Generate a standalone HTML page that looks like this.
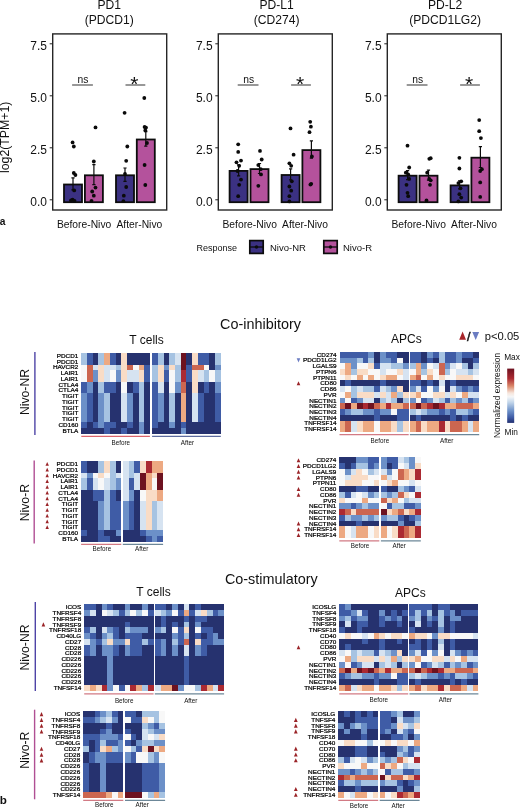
<!DOCTYPE html>
<html lang="en"><head><meta charset="utf-8"><title>Figure</title>
<style>html,body{margin:0;padding:0;background:#fff}#fig{display:block;width:520px;height:809px;font-family:"Liberation Sans",sans-serif}.hm rect{shape-rendering:crispEdges}</style></head><body>
<svg id="fig" width="520" height="809" viewBox="0 0 520 809">
<rect width="520" height="809" fill="#fff"/>
<text x="8.8" y="137.3" font-size="12.3" text-anchor="middle" fill="#111" transform="rotate(-90 8.8 137.3)">log2(TPM+1)</text>
<text x="-0.3" y="224.9" font-size="10.2" text-anchor="start" fill="#111" font-weight="bold">a</text>
<text x="-0.2" y="804.3" font-size="11.6" text-anchor="start" fill="#111" font-weight="bold">b</text>
<text x="109.2" y="8.7" font-size="12.1" text-anchor="middle" fill="#111">PD1</text>
<text x="109.2" y="23.9" font-size="12.1" text-anchor="middle" fill="#111">(PDCD1)</text>
<rect x="52.7" y="33.9" width="114.0" height="176.1" fill="#fff" stroke="#262626" stroke-width="1.4"/>
<line x1="49.7" y1="43.8" x2="52.7" y2="43.8" stroke="#222" stroke-width="1"/>
<text x="47.0" y="49.8" font-size="12" text-anchor="end" fill="#111">7.5</text>
<line x1="49.7" y1="95.8" x2="52.7" y2="95.8" stroke="#222" stroke-width="1"/>
<text x="47.0" y="101.8" font-size="12" text-anchor="end" fill="#111">5.0</text>
<line x1="49.7" y1="147.8" x2="52.7" y2="147.8" stroke="#222" stroke-width="1"/>
<text x="47.0" y="153.8" font-size="12" text-anchor="end" fill="#111">2.5</text>
<line x1="49.7" y1="199.8" x2="52.7" y2="199.8" stroke="#222" stroke-width="1"/>
<text x="47.0" y="205.8" font-size="12" text-anchor="end" fill="#111">0.0</text>
<rect x="64.0" y="184.5" width="18.0" height="17.7" fill="#3b3182" stroke="#0d0d0d" stroke-width="1.8"/>
<rect x="84.9" y="175.3" width="18.0" height="26.9" fill="#b4529c" stroke="#0d0d0d" stroke-width="1.8"/>
<rect x="116.0" y="175.3" width="18.0" height="26.9" fill="#3b3182" stroke="#0d0d0d" stroke-width="1.8"/>
<rect x="136.8" y="139.5" width="18.0" height="62.7" fill="#b4529c" stroke="#0d0d0d" stroke-width="1.8"/>
<path d="M73.0 177.9V189.9M71.4 177.9h3.2M71.4 189.9h3.2" stroke="#0d0d0d" stroke-width="1.2" fill="none"/>
<path d="M93.9 164.7V184.7M92.3 164.7h3.2M92.3 184.7h3.2" stroke="#0d0d0d" stroke-width="1.2" fill="none"/>
<path d="M125.0 168.0V181.4M123.4 168.0h3.2M123.4 181.4h3.2" stroke="#0d0d0d" stroke-width="1.2" fill="none"/>
<path d="M145.8 131.6V146.2M144.2 131.6h3.2M144.2 146.2h3.2" stroke="#0d0d0d" stroke-width="1.2" fill="none"/>
<circle cx="72.6" cy="142.4" r="1.9" fill="#0a0a0a"/>
<circle cx="73.8" cy="146.5" r="1.9" fill="#0a0a0a"/>
<circle cx="73.8" cy="173.0" r="1.9" fill="#0a0a0a"/>
<circle cx="75.4" cy="175.0" r="1.9" fill="#0a0a0a"/>
<circle cx="74.2" cy="190.4" r="1.9" fill="#0a0a0a"/>
<circle cx="72.6" cy="199.6" r="1.9" fill="#0a0a0a"/>
<circle cx="71.0" cy="200.5" r="1.9" fill="#0a0a0a"/>
<circle cx="74.5" cy="200.8" r="1.9" fill="#0a0a0a"/>
<circle cx="95.5" cy="127.4" r="1.9" fill="#0a0a0a"/>
<circle cx="93.8" cy="161.5" r="1.9" fill="#0a0a0a"/>
<circle cx="95.5" cy="187.6" r="1.9" fill="#0a0a0a"/>
<circle cx="92.2" cy="191.5" r="1.9" fill="#0a0a0a"/>
<circle cx="93.8" cy="195.7" r="1.9" fill="#0a0a0a"/>
<circle cx="91.5" cy="200.8" r="1.9" fill="#0a0a0a"/>
<circle cx="124.6" cy="112.8" r="1.9" fill="#0a0a0a"/>
<circle cx="127.3" cy="146.5" r="1.9" fill="#0a0a0a"/>
<circle cx="126.2" cy="160.8" r="1.9" fill="#0a0a0a"/>
<circle cx="125.0" cy="174.0" r="1.9" fill="#0a0a0a"/>
<circle cx="126.2" cy="187.0" r="1.9" fill="#0a0a0a"/>
<circle cx="123.8" cy="195.7" r="1.9" fill="#0a0a0a"/>
<circle cx="123.4" cy="201.2" r="1.9" fill="#0a0a0a"/>
<circle cx="144.3" cy="98.0" r="1.9" fill="#0a0a0a"/>
<circle cx="144.6" cy="127.0" r="1.9" fill="#0a0a0a"/>
<circle cx="146.0" cy="127.6" r="1.9" fill="#0a0a0a"/>
<circle cx="145.3" cy="130.4" r="1.9" fill="#0a0a0a"/>
<circle cx="147.0" cy="143.0" r="1.9" fill="#0a0a0a"/>
<circle cx="144.6" cy="165.0" r="1.9" fill="#0a0a0a"/>
<circle cx="145.3" cy="185.0" r="1.9" fill="#0a0a0a"/>
<path d="M72.1 85.0H92.9M125.5 85.0H145.3" stroke="#333" stroke-width="1.1"/>
<text x="83.0" y="83.0" font-size="10.3" text-anchor="middle" fill="#111">ns</text>
<text x="134.4" y="90.6" font-size="21" text-anchor="middle" fill="#111">*</text>
<text x="84.1" y="227.5" font-size="10.3" text-anchor="middle" fill="#111">Before-Nivo</text>
<text x="139.4" y="227.5" font-size="10.3" text-anchor="middle" fill="#111">After-Nivo</text>
<text x="276.7" y="8.7" font-size="12.1" text-anchor="middle" fill="#111">PD-L1</text>
<text x="276.7" y="23.9" font-size="12.1" text-anchor="middle" fill="#111">(CD274)</text>
<rect x="218.3" y="33.9" width="114.0" height="176.1" fill="#fff" stroke="#262626" stroke-width="1.4"/>
<line x1="215.3" y1="43.8" x2="218.3" y2="43.8" stroke="#222" stroke-width="1"/>
<text x="212.6" y="49.8" font-size="12" text-anchor="end" fill="#111">7.5</text>
<line x1="215.3" y1="95.8" x2="218.3" y2="95.8" stroke="#222" stroke-width="1"/>
<text x="212.6" y="101.8" font-size="12" text-anchor="end" fill="#111">5.0</text>
<line x1="215.3" y1="147.8" x2="218.3" y2="147.8" stroke="#222" stroke-width="1"/>
<text x="212.6" y="153.8" font-size="12" text-anchor="end" fill="#111">2.5</text>
<line x1="215.3" y1="199.8" x2="218.3" y2="199.8" stroke="#222" stroke-width="1"/>
<text x="212.6" y="205.8" font-size="12" text-anchor="end" fill="#111">0.0</text>
<rect x="229.6" y="170.9" width="18.0" height="31.3" fill="#3b3182" stroke="#0d0d0d" stroke-width="1.8"/>
<rect x="250.5" y="169.1" width="18.0" height="33.1" fill="#b4529c" stroke="#0d0d0d" stroke-width="1.8"/>
<rect x="281.6" y="175.0" width="18.0" height="27.2" fill="#3b3182" stroke="#0d0d0d" stroke-width="1.8"/>
<rect x="302.4" y="150.1" width="18.0" height="52.1" fill="#b4529c" stroke="#0d0d0d" stroke-width="1.8"/>
<path d="M238.6 164.8V175.8M237.0 164.8h3.2M237.0 175.8h3.2" stroke="#0d0d0d" stroke-width="1.2" fill="none"/>
<path d="M259.5 163.5V173.5M257.9 163.5h3.2M257.9 173.5h3.2" stroke="#0d0d0d" stroke-width="1.2" fill="none"/>
<path d="M290.6 168.9V179.9M289.0 168.9h3.2M289.0 179.9h3.2" stroke="#0d0d0d" stroke-width="1.2" fill="none"/>
<path d="M311.4 140.8V158.2M309.8 140.8h3.2M309.8 158.2h3.2" stroke="#0d0d0d" stroke-width="1.2" fill="none"/>
<circle cx="238.2" cy="144.3" r="1.9" fill="#0a0a0a"/>
<circle cx="238.2" cy="151.9" r="1.9" fill="#0a0a0a"/>
<circle cx="241.0" cy="160.6" r="1.9" fill="#0a0a0a"/>
<circle cx="236.5" cy="162.3" r="1.9" fill="#0a0a0a"/>
<circle cx="239.2" cy="165.8" r="1.9" fill="#0a0a0a"/>
<circle cx="237.5" cy="171.0" r="1.9" fill="#0a0a0a"/>
<circle cx="241.0" cy="179.6" r="1.9" fill="#0a0a0a"/>
<circle cx="239.2" cy="184.8" r="1.9" fill="#0a0a0a"/>
<circle cx="238.2" cy="196.2" r="1.9" fill="#0a0a0a"/>
<circle cx="260.0" cy="150.9" r="1.9" fill="#0a0a0a"/>
<circle cx="261.7" cy="159.5" r="1.9" fill="#0a0a0a"/>
<circle cx="258.3" cy="165.1" r="1.9" fill="#0a0a0a"/>
<circle cx="260.7" cy="169.2" r="1.9" fill="#0a0a0a"/>
<circle cx="261.0" cy="174.4" r="1.9" fill="#0a0a0a"/>
<circle cx="258.3" cy="185.8" r="1.9" fill="#0a0a0a"/>
<circle cx="290.5" cy="128.4" r="1.9" fill="#0a0a0a"/>
<circle cx="293.6" cy="154.7" r="1.9" fill="#0a0a0a"/>
<circle cx="289.4" cy="163.3" r="1.9" fill="#0a0a0a"/>
<circle cx="291.2" cy="165.8" r="1.9" fill="#0a0a0a"/>
<circle cx="291.8" cy="181.3" r="1.9" fill="#0a0a0a"/>
<circle cx="289.4" cy="186.5" r="1.9" fill="#0a0a0a"/>
<circle cx="291.2" cy="190.7" r="1.9" fill="#0a0a0a"/>
<circle cx="289.4" cy="196.2" r="1.9" fill="#0a0a0a"/>
<circle cx="289.4" cy="201.4" r="1.9" fill="#0a0a0a"/>
<circle cx="310.2" cy="121.8" r="1.9" fill="#0a0a0a"/>
<circle cx="310.9" cy="126.7" r="1.9" fill="#0a0a0a"/>
<circle cx="309.5" cy="132.2" r="1.9" fill="#0a0a0a"/>
<circle cx="311.9" cy="156.4" r="1.9" fill="#0a0a0a"/>
<circle cx="311.2" cy="183.8" r="1.9" fill="#0a0a0a"/>
<circle cx="310.4" cy="184.6" r="1.9" fill="#0a0a0a"/>
<path d="M237.7 85.0H258.5M291.1 85.0H310.9" stroke="#333" stroke-width="1.1"/>
<text x="248.7" y="83.0" font-size="10.3" text-anchor="middle" fill="#111">ns</text>
<text x="300.0" y="90.6" font-size="21" text-anchor="middle" fill="#111">*</text>
<text x="249.7" y="227.5" font-size="10.3" text-anchor="middle" fill="#111">Before-Nivo</text>
<text x="305.0" y="227.5" font-size="10.3" text-anchor="middle" fill="#111">After-Nivo</text>
<text x="445.1" y="8.7" font-size="12.1" text-anchor="middle" fill="#111">PD-L2</text>
<text x="445.1" y="23.9" font-size="12.1" text-anchor="middle" fill="#111">(PDCD1LG2)</text>
<rect x="387.3" y="33.9" width="114.0" height="176.1" fill="#fff" stroke="#262626" stroke-width="1.4"/>
<line x1="384.3" y1="43.8" x2="387.3" y2="43.8" stroke="#222" stroke-width="1"/>
<text x="381.6" y="49.8" font-size="12" text-anchor="end" fill="#111">7.5</text>
<line x1="384.3" y1="95.8" x2="387.3" y2="95.8" stroke="#222" stroke-width="1"/>
<text x="381.6" y="101.8" font-size="12" text-anchor="end" fill="#111">5.0</text>
<line x1="384.3" y1="147.8" x2="387.3" y2="147.8" stroke="#222" stroke-width="1"/>
<text x="381.6" y="153.8" font-size="12" text-anchor="end" fill="#111">2.5</text>
<line x1="384.3" y1="199.8" x2="387.3" y2="199.8" stroke="#222" stroke-width="1"/>
<text x="381.6" y="205.8" font-size="12" text-anchor="end" fill="#111">0.0</text>
<rect x="398.6" y="175.7" width="18.0" height="26.5" fill="#3b3182" stroke="#0d0d0d" stroke-width="1.8"/>
<rect x="419.5" y="175.7" width="18.0" height="26.5" fill="#b4529c" stroke="#0d0d0d" stroke-width="1.8"/>
<rect x="450.6" y="185.4" width="18.0" height="16.8" fill="#3b3182" stroke="#0d0d0d" stroke-width="1.8"/>
<rect x="471.4" y="157.7" width="18.0" height="44.5" fill="#b4529c" stroke="#0d0d0d" stroke-width="1.8"/>
<path d="M407.6 170.6V179.6M406.0 170.6h3.2M406.0 179.6h3.2" stroke="#0d0d0d" stroke-width="1.2" fill="none"/>
<path d="M428.5 170.1V180.1M426.9 170.1h3.2M426.9 180.1h3.2" stroke="#0d0d0d" stroke-width="1.2" fill="none"/>
<path d="M459.6 180.8V188.8M458.0 180.8h3.2M458.0 188.8h3.2" stroke="#0d0d0d" stroke-width="1.2" fill="none"/>
<path d="M480.4 146.7V167.5M478.8 146.7h3.2M478.8 167.5h3.2" stroke="#0d0d0d" stroke-width="1.2" fill="none"/>
<circle cx="407.5" cy="145.7" r="1.9" fill="#0a0a0a"/>
<circle cx="409.2" cy="167.5" r="1.9" fill="#0a0a0a"/>
<circle cx="405.8" cy="172.7" r="1.9" fill="#0a0a0a"/>
<circle cx="408.2" cy="174.4" r="1.9" fill="#0a0a0a"/>
<circle cx="409.2" cy="178.9" r="1.9" fill="#0a0a0a"/>
<circle cx="406.5" cy="184.8" r="1.9" fill="#0a0a0a"/>
<circle cx="407.5" cy="192.8" r="1.9" fill="#0a0a0a"/>
<circle cx="408.2" cy="196.2" r="1.9" fill="#0a0a0a"/>
<circle cx="429.3" cy="158.8" r="1.9" fill="#0a0a0a"/>
<circle cx="430.7" cy="158.2" r="1.9" fill="#0a0a0a"/>
<circle cx="427.2" cy="172.7" r="1.9" fill="#0a0a0a"/>
<circle cx="429.3" cy="178.9" r="1.9" fill="#0a0a0a"/>
<circle cx="430.0" cy="184.8" r="1.9" fill="#0a0a0a"/>
<circle cx="426.5" cy="200.4" r="1.9" fill="#0a0a0a"/>
<circle cx="430.7" cy="180.3" r="1.9" fill="#0a0a0a"/>
<circle cx="459.4" cy="157.8" r="1.9" fill="#0a0a0a"/>
<circle cx="459.4" cy="168.5" r="1.9" fill="#0a0a0a"/>
<circle cx="461.2" cy="181.3" r="1.9" fill="#0a0a0a"/>
<circle cx="458.4" cy="183.1" r="1.9" fill="#0a0a0a"/>
<circle cx="460.5" cy="188.3" r="1.9" fill="#0a0a0a"/>
<circle cx="459.4" cy="194.2" r="1.9" fill="#0a0a0a"/>
<circle cx="461.2" cy="197.6" r="1.9" fill="#0a0a0a"/>
<circle cx="458.4" cy="201.4" r="1.9" fill="#0a0a0a"/>
<circle cx="479.2" cy="120.1" r="1.9" fill="#0a0a0a"/>
<circle cx="479.2" cy="131.2" r="1.9" fill="#0a0a0a"/>
<circle cx="480.9" cy="138.1" r="1.9" fill="#0a0a0a"/>
<circle cx="481.9" cy="169.2" r="1.9" fill="#0a0a0a"/>
<circle cx="480.2" cy="171.0" r="1.9" fill="#0a0a0a"/>
<circle cx="480.2" cy="182.4" r="1.9" fill="#0a0a0a"/>
<circle cx="480.2" cy="196.9" r="1.9" fill="#0a0a0a"/>
<path d="M406.7 85.0H427.5M460.1 85.0H479.9" stroke="#333" stroke-width="1.1"/>
<text x="417.7" y="83.0" font-size="10.3" text-anchor="middle" fill="#111">ns</text>
<text x="469.0" y="90.6" font-size="21" text-anchor="middle" fill="#111">*</text>
<text x="418.7" y="227.5" font-size="10.3" text-anchor="middle" fill="#111">Before-Nivo</text>
<text x="474.0" y="227.5" font-size="10.3" text-anchor="middle" fill="#111">After-Nivo</text>
<text x="196.5" y="251.3" font-size="9" text-anchor="start" fill="#111">Response</text>
<rect x="249.8" y="240.6" width="13.4" height="12.8" fill="#3b3182" stroke="#0c0c0c" stroke-width="1.7"/>
<path d="M249.8 247h13.4" stroke="#0c0c0c" stroke-width="1.3"/>
<circle cx="256.5" cy="247" r="1.7" fill="#0c0c0c"/>
<text x="270" y="251.3" font-size="9.5" text-anchor="start" fill="#111">Nivo-NR</text>
<rect x="323.8" y="240.6" width="13.4" height="12.8" fill="#b4529c" stroke="#0c0c0c" stroke-width="1.7"/>
<path d="M323.8 247h13.4" stroke="#0c0c0c" stroke-width="1.3"/>
<circle cx="330.5" cy="247" r="1.7" fill="#0c0c0c"/>
<text x="343" y="251.3" font-size="9.5" text-anchor="start" fill="#111">Nivo-R</text>
<text x="260.5" y="329" font-size="14.4" text-anchor="middle" fill="#111">Co-inhibitory</text>
<text x="146.5" y="344.3" font-size="12" text-anchor="middle" fill="#111">T cells</text>
<text x="406.3" y="343.3" font-size="12" text-anchor="middle" fill="#111">APCs</text>
<text x="271.3" y="583.5" font-size="14.4" text-anchor="middle" fill="#111">Co-stimulatory</text>
<text x="153.5" y="596" font-size="12" text-anchor="middle" fill="#111">T cells</text>
<text x="410.4" y="596.5" font-size="12" text-anchor="middle" fill="#111">APCs</text>
<path d="M459.2 339.8l3.4-8.2 3.4 8.2z" fill="#a8262b"/>
<text x="467.0" y="340.5" font-size="12.5" text-anchor="start" fill="#111" stroke="#111" stroke-width="0.5">/</text>
<path d="M472.3 331.9h6.8l-3.4 8.1z" fill="#6b7cc2"/>
<text x="484.8" y="340.2" font-size="11.2" text-anchor="start" fill="#111">p&lt;0.05</text>
<defs><linearGradient id="cb" x1="0" y1="0" x2="0" y2="1"><stop offset="0" stop-color="#6d1220"/><stop offset="0.18" stop-color="#ab2a32"/><stop offset="0.32" stop-color="#d98668"/><stop offset="0.45" stop-color="#f7e6dc"/><stop offset="0.52" stop-color="#f4f6f8"/><stop offset="0.62" stop-color="#c3d6ea"/><stop offset="0.78" stop-color="#6c90c8"/><stop offset="0.9" stop-color="#3f5ca6"/><stop offset="1" stop-color="#222f70"/></linearGradient></defs>
<rect x="507.2" y="368.6" width="7" height="54.3" fill="url(#cb)"/>
<text x="504.2" y="359.8" font-size="8.3" text-anchor="start" fill="#111">Max</text>
<text x="504.6" y="434.5" font-size="8.3" text-anchor="start" fill="#111">Min</text>
<text x="499.6" y="395.4" font-size="8.4" text-anchor="middle" fill="#111" transform="rotate(-90 499.6 395.4)">Normalized expression</text>
<g class="hm">
<rect x="81.30" y="353.00" width="5.77" height="5.80" fill="#a6c3e2"/>
<rect x="87.02" y="353.00" width="5.77" height="5.80" fill="#3f5ca6"/>
<rect x="92.74" y="353.00" width="5.77" height="5.80" fill="#26326f"/>
<rect x="98.46" y="353.00" width="5.77" height="5.80" fill="#a6c3e2"/>
<rect x="104.18" y="353.00" width="5.77" height="5.80" fill="#eda982"/>
<rect x="109.90" y="353.00" width="5.77" height="5.80" fill="#3f5ca6"/>
<rect x="115.62" y="353.00" width="5.77" height="5.80" fill="#26326f"/>
<rect x="121.34" y="353.00" width="5.77" height="5.80" fill="#f9dcc6"/>
<rect x="127.06" y="353.00" width="22.93" height="5.80" fill="#26326f"/>
<rect x="152.14" y="353.00" width="5.77" height="5.80" fill="#3f5ca6"/>
<rect x="157.86" y="353.00" width="5.77" height="5.80" fill="#a6c3e2"/>
<rect x="163.58" y="353.00" width="5.77" height="5.80" fill="#26326f"/>
<rect x="169.30" y="353.00" width="5.77" height="5.80" fill="#a6c3e2"/>
<rect x="175.02" y="353.00" width="5.77" height="5.80" fill="#d6e3f1"/>
<rect x="180.74" y="353.00" width="5.77" height="5.80" fill="#6d1220"/>
<rect x="186.46" y="353.00" width="5.77" height="5.80" fill="#26326f"/>
<rect x="192.18" y="353.00" width="5.77" height="5.80" fill="#f9dcc6"/>
<rect x="197.90" y="353.00" width="11.49" height="5.80" fill="#3f5ca6"/>
<rect x="209.34" y="353.00" width="5.77" height="5.80" fill="#26326f"/>
<rect x="215.06" y="353.00" width="5.77" height="5.80" fill="#a6c3e2"/>
<rect x="81.30" y="358.75" width="5.77" height="5.80" fill="#a6c3e2"/>
<rect x="87.02" y="358.75" width="5.77" height="5.80" fill="#3f5ca6"/>
<rect x="92.74" y="358.75" width="5.77" height="5.80" fill="#26326f"/>
<rect x="98.46" y="358.75" width="5.77" height="5.80" fill="#a6c3e2"/>
<rect x="104.18" y="358.75" width="5.77" height="5.80" fill="#eda982"/>
<rect x="109.90" y="358.75" width="5.77" height="5.80" fill="#3f5ca6"/>
<rect x="115.62" y="358.75" width="5.77" height="5.80" fill="#26326f"/>
<rect x="121.34" y="358.75" width="5.77" height="5.80" fill="#f9dcc6"/>
<rect x="127.06" y="358.75" width="22.93" height="5.80" fill="#26326f"/>
<rect x="152.14" y="358.75" width="5.77" height="5.80" fill="#3f5ca6"/>
<rect x="157.86" y="358.75" width="5.77" height="5.80" fill="#a6c3e2"/>
<rect x="163.58" y="358.75" width="5.77" height="5.80" fill="#26326f"/>
<rect x="169.30" y="358.75" width="5.77" height="5.80" fill="#a6c3e2"/>
<rect x="175.02" y="358.75" width="5.77" height="5.80" fill="#d6e3f1"/>
<rect x="180.74" y="358.75" width="5.77" height="5.80" fill="#6d1220"/>
<rect x="186.46" y="358.75" width="5.77" height="5.80" fill="#26326f"/>
<rect x="192.18" y="358.75" width="5.77" height="5.80" fill="#f9dcc6"/>
<rect x="197.90" y="358.75" width="11.49" height="5.80" fill="#3f5ca6"/>
<rect x="209.34" y="358.75" width="5.77" height="5.80" fill="#26326f"/>
<rect x="215.06" y="358.75" width="5.77" height="5.80" fill="#a6c3e2"/>
<rect x="81.30" y="364.50" width="5.77" height="5.80" fill="#f8f8f8"/>
<rect x="87.02" y="364.50" width="5.77" height="5.80" fill="#cc6650"/>
<rect x="92.74" y="364.50" width="5.77" height="5.80" fill="#d6e3f1"/>
<rect x="98.46" y="364.50" width="5.77" height="5.80" fill="#f9dcc6"/>
<rect x="104.18" y="364.50" width="11.49" height="5.80" fill="#d6e3f1"/>
<rect x="115.62" y="364.50" width="5.77" height="5.80" fill="#a6c3e2"/>
<rect x="121.34" y="364.50" width="5.77" height="5.80" fill="#f9dcc6"/>
<rect x="127.06" y="364.50" width="5.77" height="5.80" fill="#cc6650"/>
<rect x="132.78" y="364.50" width="5.77" height="5.80" fill="#f8f8f8"/>
<rect x="138.50" y="364.50" width="5.77" height="5.80" fill="#eda982"/>
<rect x="144.22" y="364.50" width="5.77" height="5.80" fill="#3f5ca6"/>
<rect x="152.14" y="364.50" width="5.77" height="5.80" fill="#a6c3e2"/>
<rect x="157.86" y="364.50" width="5.77" height="5.80" fill="#f9dcc6"/>
<rect x="163.58" y="364.50" width="5.77" height="5.80" fill="#6c90c8"/>
<rect x="169.30" y="364.50" width="5.77" height="5.80" fill="#f9dcc6"/>
<rect x="175.02" y="364.50" width="5.77" height="5.80" fill="#a6c3e2"/>
<rect x="180.74" y="364.50" width="5.77" height="5.80" fill="#6d1220"/>
<rect x="186.46" y="364.50" width="5.77" height="5.80" fill="#3f5ca6"/>
<rect x="192.18" y="364.50" width="11.49" height="5.80" fill="#cc6650"/>
<rect x="203.62" y="364.50" width="5.77" height="5.80" fill="#f8f8f8"/>
<rect x="209.34" y="364.50" width="5.77" height="5.80" fill="#26326f"/>
<rect x="215.06" y="364.50" width="5.77" height="5.80" fill="#6c90c8"/>
<rect x="81.30" y="370.25" width="5.77" height="5.80" fill="#f8f8f8"/>
<rect x="87.02" y="370.25" width="5.77" height="5.80" fill="#cc6650"/>
<rect x="92.74" y="370.25" width="5.77" height="5.80" fill="#6c90c8"/>
<rect x="98.46" y="370.25" width="5.77" height="5.80" fill="#f9dcc6"/>
<rect x="104.18" y="370.25" width="5.77" height="5.80" fill="#d6e3f1"/>
<rect x="109.90" y="370.25" width="5.77" height="5.80" fill="#f8f8f8"/>
<rect x="115.62" y="370.25" width="5.77" height="5.80" fill="#6c90c8"/>
<rect x="121.34" y="370.25" width="5.77" height="5.80" fill="#f9dcc6"/>
<rect x="127.06" y="370.25" width="11.49" height="5.80" fill="#d6e3f1"/>
<rect x="138.50" y="370.25" width="5.77" height="5.80" fill="#f9dcc6"/>
<rect x="144.22" y="370.25" width="5.77" height="5.80" fill="#3f5ca6"/>
<rect x="152.14" y="370.25" width="5.77" height="5.80" fill="#a6c3e2"/>
<rect x="157.86" y="370.25" width="5.77" height="5.80" fill="#f9dcc6"/>
<rect x="163.58" y="370.25" width="5.77" height="5.80" fill="#3f5ca6"/>
<rect x="169.30" y="370.25" width="5.77" height="5.80" fill="#f8f8f8"/>
<rect x="175.02" y="370.25" width="5.77" height="5.80" fill="#a6c3e2"/>
<rect x="180.74" y="370.25" width="5.77" height="5.80" fill="#ab2a32"/>
<rect x="186.46" y="370.25" width="5.77" height="5.80" fill="#3f5ca6"/>
<rect x="192.18" y="370.25" width="5.77" height="5.80" fill="#f9dcc6"/>
<rect x="197.90" y="370.25" width="5.77" height="5.80" fill="#d6e3f1"/>
<rect x="203.62" y="370.25" width="5.77" height="5.80" fill="#a6c3e2"/>
<rect x="209.34" y="370.25" width="5.77" height="5.80" fill="#f8f8f8"/>
<rect x="215.06" y="370.25" width="5.77" height="5.80" fill="#a6c3e2"/>
<rect x="81.30" y="376.00" width="5.77" height="5.80" fill="#f8f8f8"/>
<rect x="87.02" y="376.00" width="5.77" height="5.80" fill="#cc6650"/>
<rect x="92.74" y="376.00" width="5.77" height="5.80" fill="#6c90c8"/>
<rect x="98.46" y="376.00" width="5.77" height="5.80" fill="#f9dcc6"/>
<rect x="104.18" y="376.00" width="5.77" height="5.80" fill="#d6e3f1"/>
<rect x="109.90" y="376.00" width="5.77" height="5.80" fill="#f8f8f8"/>
<rect x="115.62" y="376.00" width="5.77" height="5.80" fill="#6c90c8"/>
<rect x="121.34" y="376.00" width="5.77" height="5.80" fill="#f9dcc6"/>
<rect x="127.06" y="376.00" width="11.49" height="5.80" fill="#d6e3f1"/>
<rect x="138.50" y="376.00" width="5.77" height="5.80" fill="#f9dcc6"/>
<rect x="144.22" y="376.00" width="5.77" height="5.80" fill="#3f5ca6"/>
<rect x="152.14" y="376.00" width="5.77" height="5.80" fill="#a6c3e2"/>
<rect x="157.86" y="376.00" width="5.77" height="5.80" fill="#f9dcc6"/>
<rect x="163.58" y="376.00" width="5.77" height="5.80" fill="#3f5ca6"/>
<rect x="169.30" y="376.00" width="5.77" height="5.80" fill="#f8f8f8"/>
<rect x="175.02" y="376.00" width="5.77" height="5.80" fill="#a6c3e2"/>
<rect x="180.74" y="376.00" width="5.77" height="5.80" fill="#ab2a32"/>
<rect x="186.46" y="376.00" width="5.77" height="5.80" fill="#3f5ca6"/>
<rect x="192.18" y="376.00" width="5.77" height="5.80" fill="#f9dcc6"/>
<rect x="197.90" y="376.00" width="5.77" height="5.80" fill="#d6e3f1"/>
<rect x="203.62" y="376.00" width="5.77" height="5.80" fill="#a6c3e2"/>
<rect x="209.34" y="376.00" width="5.77" height="5.80" fill="#f8f8f8"/>
<rect x="215.06" y="376.00" width="5.77" height="5.80" fill="#a6c3e2"/>
<rect x="81.30" y="381.75" width="5.77" height="5.80" fill="#3f5ca6"/>
<rect x="87.02" y="381.75" width="5.77" height="5.80" fill="#6c90c8"/>
<rect x="92.74" y="381.75" width="5.77" height="5.80" fill="#26326f"/>
<rect x="98.46" y="381.75" width="5.77" height="5.80" fill="#a6c3e2"/>
<rect x="104.18" y="381.75" width="11.49" height="5.80" fill="#3f5ca6"/>
<rect x="115.62" y="381.75" width="5.77" height="5.80" fill="#26326f"/>
<rect x="121.34" y="381.75" width="5.77" height="5.80" fill="#f8f8f8"/>
<rect x="127.06" y="381.75" width="5.77" height="5.80" fill="#26326f"/>
<rect x="132.78" y="381.75" width="5.77" height="5.80" fill="#3f5ca6"/>
<rect x="138.50" y="381.75" width="5.77" height="5.80" fill="#a6c3e2"/>
<rect x="144.22" y="381.75" width="5.77" height="5.80" fill="#26326f"/>
<rect x="152.14" y="381.75" width="5.77" height="5.80" fill="#3f5ca6"/>
<rect x="157.86" y="381.75" width="5.77" height="5.80" fill="#d6e3f1"/>
<rect x="163.58" y="381.75" width="5.77" height="5.80" fill="#26326f"/>
<rect x="169.30" y="381.75" width="5.77" height="5.80" fill="#f8f8f8"/>
<rect x="175.02" y="381.75" width="5.77" height="5.80" fill="#6c90c8"/>
<rect x="180.74" y="381.75" width="5.77" height="5.80" fill="#cc6650"/>
<rect x="186.46" y="381.75" width="5.77" height="5.80" fill="#26326f"/>
<rect x="192.18" y="381.75" width="5.77" height="5.80" fill="#f9dcc6"/>
<rect x="197.90" y="381.75" width="5.77" height="5.80" fill="#26326f"/>
<rect x="203.62" y="381.75" width="5.77" height="5.80" fill="#3f5ca6"/>
<rect x="209.34" y="381.75" width="5.77" height="5.80" fill="#26326f"/>
<rect x="215.06" y="381.75" width="5.77" height="5.80" fill="#6c90c8"/>
<rect x="81.30" y="387.50" width="5.77" height="5.80" fill="#3f5ca6"/>
<rect x="87.02" y="387.50" width="5.77" height="5.80" fill="#6c90c8"/>
<rect x="92.74" y="387.50" width="5.77" height="5.80" fill="#26326f"/>
<rect x="98.46" y="387.50" width="5.77" height="5.80" fill="#a6c3e2"/>
<rect x="104.18" y="387.50" width="11.49" height="5.80" fill="#3f5ca6"/>
<rect x="115.62" y="387.50" width="5.77" height="5.80" fill="#26326f"/>
<rect x="121.34" y="387.50" width="5.77" height="5.80" fill="#f8f8f8"/>
<rect x="127.06" y="387.50" width="5.77" height="5.80" fill="#26326f"/>
<rect x="132.78" y="387.50" width="5.77" height="5.80" fill="#3f5ca6"/>
<rect x="138.50" y="387.50" width="5.77" height="5.80" fill="#a6c3e2"/>
<rect x="144.22" y="387.50" width="5.77" height="5.80" fill="#26326f"/>
<rect x="152.14" y="387.50" width="5.77" height="5.80" fill="#3f5ca6"/>
<rect x="157.86" y="387.50" width="5.77" height="5.80" fill="#d6e3f1"/>
<rect x="163.58" y="387.50" width="5.77" height="5.80" fill="#26326f"/>
<rect x="169.30" y="387.50" width="5.77" height="5.80" fill="#f8f8f8"/>
<rect x="175.02" y="387.50" width="5.77" height="5.80" fill="#6c90c8"/>
<rect x="180.74" y="387.50" width="5.77" height="5.80" fill="#cc6650"/>
<rect x="186.46" y="387.50" width="5.77" height="5.80" fill="#26326f"/>
<rect x="192.18" y="387.50" width="5.77" height="5.80" fill="#f9dcc6"/>
<rect x="197.90" y="387.50" width="5.77" height="5.80" fill="#26326f"/>
<rect x="203.62" y="387.50" width="5.77" height="5.80" fill="#3f5ca6"/>
<rect x="209.34" y="387.50" width="5.77" height="5.80" fill="#26326f"/>
<rect x="215.06" y="387.50" width="5.77" height="5.80" fill="#6c90c8"/>
<rect x="81.30" y="393.25" width="5.77" height="5.80" fill="#6c90c8"/>
<rect x="87.02" y="393.25" width="5.77" height="5.80" fill="#3f5ca6"/>
<rect x="92.74" y="393.25" width="5.77" height="5.80" fill="#26326f"/>
<rect x="98.46" y="393.25" width="5.77" height="5.80" fill="#6c90c8"/>
<rect x="104.18" y="393.25" width="5.77" height="5.80" fill="#a6c3e2"/>
<rect x="109.90" y="393.25" width="11.49" height="5.80" fill="#26326f"/>
<rect x="121.34" y="393.25" width="5.77" height="5.80" fill="#d6e3f1"/>
<rect x="127.06" y="393.25" width="5.77" height="5.80" fill="#6c90c8"/>
<rect x="132.78" y="393.25" width="5.77" height="5.80" fill="#26326f"/>
<rect x="138.50" y="393.25" width="5.77" height="5.80" fill="#a6c3e2"/>
<rect x="144.22" y="393.25" width="5.77" height="5.80" fill="#26326f"/>
<rect x="152.14" y="393.25" width="5.77" height="5.80" fill="#3f5ca6"/>
<rect x="157.86" y="393.25" width="5.77" height="5.80" fill="#6c90c8"/>
<rect x="163.58" y="393.25" width="5.77" height="5.80" fill="#26326f"/>
<rect x="169.30" y="393.25" width="5.77" height="5.80" fill="#a6c3e2"/>
<rect x="175.02" y="393.25" width="5.77" height="5.80" fill="#26326f"/>
<rect x="180.74" y="393.25" width="5.77" height="5.80" fill="#eda982"/>
<rect x="186.46" y="393.25" width="5.77" height="5.80" fill="#26326f"/>
<rect x="192.18" y="393.25" width="5.77" height="5.80" fill="#d6e3f1"/>
<rect x="197.90" y="393.25" width="5.77" height="5.80" fill="#3f5ca6"/>
<rect x="203.62" y="393.25" width="11.49" height="5.80" fill="#26326f"/>
<rect x="215.06" y="393.25" width="5.77" height="5.80" fill="#3f5ca6"/>
<rect x="81.30" y="399.00" width="5.77" height="5.80" fill="#6c90c8"/>
<rect x="87.02" y="399.00" width="5.77" height="5.80" fill="#3f5ca6"/>
<rect x="92.74" y="399.00" width="5.77" height="5.80" fill="#26326f"/>
<rect x="98.46" y="399.00" width="5.77" height="5.80" fill="#6c90c8"/>
<rect x="104.18" y="399.00" width="5.77" height="5.80" fill="#a6c3e2"/>
<rect x="109.90" y="399.00" width="11.49" height="5.80" fill="#26326f"/>
<rect x="121.34" y="399.00" width="5.77" height="5.80" fill="#d6e3f1"/>
<rect x="127.06" y="399.00" width="5.77" height="5.80" fill="#6c90c8"/>
<rect x="132.78" y="399.00" width="5.77" height="5.80" fill="#26326f"/>
<rect x="138.50" y="399.00" width="5.77" height="5.80" fill="#a6c3e2"/>
<rect x="144.22" y="399.00" width="5.77" height="5.80" fill="#26326f"/>
<rect x="152.14" y="399.00" width="5.77" height="5.80" fill="#3f5ca6"/>
<rect x="157.86" y="399.00" width="5.77" height="5.80" fill="#6c90c8"/>
<rect x="163.58" y="399.00" width="5.77" height="5.80" fill="#26326f"/>
<rect x="169.30" y="399.00" width="5.77" height="5.80" fill="#a6c3e2"/>
<rect x="175.02" y="399.00" width="5.77" height="5.80" fill="#26326f"/>
<rect x="180.74" y="399.00" width="5.77" height="5.80" fill="#eda982"/>
<rect x="186.46" y="399.00" width="5.77" height="5.80" fill="#26326f"/>
<rect x="192.18" y="399.00" width="5.77" height="5.80" fill="#d6e3f1"/>
<rect x="197.90" y="399.00" width="5.77" height="5.80" fill="#3f5ca6"/>
<rect x="203.62" y="399.00" width="11.49" height="5.80" fill="#26326f"/>
<rect x="215.06" y="399.00" width="5.77" height="5.80" fill="#3f5ca6"/>
<rect x="81.30" y="404.75" width="5.77" height="5.80" fill="#6c90c8"/>
<rect x="87.02" y="404.75" width="5.77" height="5.80" fill="#3f5ca6"/>
<rect x="92.74" y="404.75" width="5.77" height="5.80" fill="#26326f"/>
<rect x="98.46" y="404.75" width="5.77" height="5.80" fill="#6c90c8"/>
<rect x="104.18" y="404.75" width="5.77" height="5.80" fill="#a6c3e2"/>
<rect x="109.90" y="404.75" width="11.49" height="5.80" fill="#26326f"/>
<rect x="121.34" y="404.75" width="5.77" height="5.80" fill="#d6e3f1"/>
<rect x="127.06" y="404.75" width="5.77" height="5.80" fill="#6c90c8"/>
<rect x="132.78" y="404.75" width="5.77" height="5.80" fill="#26326f"/>
<rect x="138.50" y="404.75" width="5.77" height="5.80" fill="#a6c3e2"/>
<rect x="144.22" y="404.75" width="5.77" height="5.80" fill="#26326f"/>
<rect x="152.14" y="404.75" width="5.77" height="5.80" fill="#3f5ca6"/>
<rect x="157.86" y="404.75" width="5.77" height="5.80" fill="#6c90c8"/>
<rect x="163.58" y="404.75" width="5.77" height="5.80" fill="#26326f"/>
<rect x="169.30" y="404.75" width="5.77" height="5.80" fill="#a6c3e2"/>
<rect x="175.02" y="404.75" width="5.77" height="5.80" fill="#26326f"/>
<rect x="180.74" y="404.75" width="5.77" height="5.80" fill="#eda982"/>
<rect x="186.46" y="404.75" width="5.77" height="5.80" fill="#26326f"/>
<rect x="192.18" y="404.75" width="5.77" height="5.80" fill="#d6e3f1"/>
<rect x="197.90" y="404.75" width="5.77" height="5.80" fill="#3f5ca6"/>
<rect x="203.62" y="404.75" width="11.49" height="5.80" fill="#26326f"/>
<rect x="215.06" y="404.75" width="5.77" height="5.80" fill="#3f5ca6"/>
<rect x="81.30" y="410.50" width="5.77" height="5.80" fill="#6c90c8"/>
<rect x="87.02" y="410.50" width="5.77" height="5.80" fill="#3f5ca6"/>
<rect x="92.74" y="410.50" width="5.77" height="5.80" fill="#26326f"/>
<rect x="98.46" y="410.50" width="5.77" height="5.80" fill="#6c90c8"/>
<rect x="104.18" y="410.50" width="5.77" height="5.80" fill="#a6c3e2"/>
<rect x="109.90" y="410.50" width="11.49" height="5.80" fill="#26326f"/>
<rect x="121.34" y="410.50" width="5.77" height="5.80" fill="#d6e3f1"/>
<rect x="127.06" y="410.50" width="5.77" height="5.80" fill="#6c90c8"/>
<rect x="132.78" y="410.50" width="5.77" height="5.80" fill="#26326f"/>
<rect x="138.50" y="410.50" width="5.77" height="5.80" fill="#a6c3e2"/>
<rect x="144.22" y="410.50" width="5.77" height="5.80" fill="#26326f"/>
<rect x="152.14" y="410.50" width="5.77" height="5.80" fill="#3f5ca6"/>
<rect x="157.86" y="410.50" width="5.77" height="5.80" fill="#6c90c8"/>
<rect x="163.58" y="410.50" width="5.77" height="5.80" fill="#26326f"/>
<rect x="169.30" y="410.50" width="5.77" height="5.80" fill="#a6c3e2"/>
<rect x="175.02" y="410.50" width="5.77" height="5.80" fill="#26326f"/>
<rect x="180.74" y="410.50" width="5.77" height="5.80" fill="#eda982"/>
<rect x="186.46" y="410.50" width="5.77" height="5.80" fill="#26326f"/>
<rect x="192.18" y="410.50" width="5.77" height="5.80" fill="#d6e3f1"/>
<rect x="197.90" y="410.50" width="5.77" height="5.80" fill="#3f5ca6"/>
<rect x="203.62" y="410.50" width="11.49" height="5.80" fill="#26326f"/>
<rect x="215.06" y="410.50" width="5.77" height="5.80" fill="#3f5ca6"/>
<rect x="81.30" y="416.25" width="5.77" height="5.80" fill="#6c90c8"/>
<rect x="87.02" y="416.25" width="5.77" height="5.80" fill="#3f5ca6"/>
<rect x="92.74" y="416.25" width="5.77" height="5.80" fill="#26326f"/>
<rect x="98.46" y="416.25" width="5.77" height="5.80" fill="#6c90c8"/>
<rect x="104.18" y="416.25" width="5.77" height="5.80" fill="#a6c3e2"/>
<rect x="109.90" y="416.25" width="11.49" height="5.80" fill="#26326f"/>
<rect x="121.34" y="416.25" width="5.77" height="5.80" fill="#d6e3f1"/>
<rect x="127.06" y="416.25" width="5.77" height="5.80" fill="#6c90c8"/>
<rect x="132.78" y="416.25" width="5.77" height="5.80" fill="#26326f"/>
<rect x="138.50" y="416.25" width="5.77" height="5.80" fill="#a6c3e2"/>
<rect x="144.22" y="416.25" width="5.77" height="5.80" fill="#26326f"/>
<rect x="152.14" y="416.25" width="5.77" height="5.80" fill="#3f5ca6"/>
<rect x="157.86" y="416.25" width="5.77" height="5.80" fill="#6c90c8"/>
<rect x="163.58" y="416.25" width="5.77" height="5.80" fill="#26326f"/>
<rect x="169.30" y="416.25" width="5.77" height="5.80" fill="#a6c3e2"/>
<rect x="175.02" y="416.25" width="5.77" height="5.80" fill="#26326f"/>
<rect x="180.74" y="416.25" width="5.77" height="5.80" fill="#eda982"/>
<rect x="186.46" y="416.25" width="5.77" height="5.80" fill="#26326f"/>
<rect x="192.18" y="416.25" width="5.77" height="5.80" fill="#d6e3f1"/>
<rect x="197.90" y="416.25" width="5.77" height="5.80" fill="#3f5ca6"/>
<rect x="203.62" y="416.25" width="11.49" height="5.80" fill="#26326f"/>
<rect x="215.06" y="416.25" width="5.77" height="5.80" fill="#3f5ca6"/>
<rect x="81.30" y="422.00" width="5.77" height="5.80" fill="#3f5ca6"/>
<rect x="87.02" y="422.00" width="5.77" height="5.80" fill="#26326f"/>
<rect x="92.74" y="422.00" width="5.77" height="5.80" fill="#3f5ca6"/>
<rect x="98.46" y="422.00" width="5.77" height="5.80" fill="#6c90c8"/>
<rect x="104.18" y="422.00" width="11.49" height="5.80" fill="#3f5ca6"/>
<rect x="115.62" y="422.00" width="11.49" height="5.80" fill="#26326f"/>
<rect x="127.06" y="422.00" width="5.77" height="5.80" fill="#3f5ca6"/>
<rect x="132.78" y="422.00" width="5.77" height="5.80" fill="#26326f"/>
<rect x="138.50" y="422.00" width="5.77" height="5.80" fill="#6c90c8"/>
<rect x="144.22" y="422.00" width="5.77" height="5.80" fill="#26326f"/>
<rect x="152.14" y="422.00" width="5.77" height="5.80" fill="#3f5ca6"/>
<rect x="157.86" y="422.00" width="11.49" height="5.80" fill="#26326f"/>
<rect x="169.30" y="422.00" width="5.77" height="5.80" fill="#6c90c8"/>
<rect x="175.02" y="422.00" width="5.77" height="5.80" fill="#26326f"/>
<rect x="180.74" y="422.00" width="5.77" height="5.80" fill="#3f5ca6"/>
<rect x="186.46" y="422.00" width="34.37" height="5.80" fill="#26326f"/>
<rect x="81.30" y="427.75" width="22.93" height="5.80" fill="#26326f"/>
<rect x="104.18" y="427.75" width="5.77" height="5.80" fill="#3f5ca6"/>
<rect x="109.90" y="427.75" width="11.49" height="5.80" fill="#26326f"/>
<rect x="121.34" y="427.75" width="5.77" height="5.80" fill="#3f5ca6"/>
<rect x="127.06" y="427.75" width="11.49" height="5.80" fill="#26326f"/>
<rect x="138.50" y="427.75" width="5.77" height="5.80" fill="#6c90c8"/>
<rect x="144.22" y="427.75" width="5.77" height="5.80" fill="#26326f"/>
<rect x="152.14" y="427.75" width="28.65" height="5.80" fill="#26326f"/>
<rect x="180.74" y="427.75" width="5.77" height="5.80" fill="#6c90c8"/>
<rect x="186.46" y="427.75" width="34.37" height="5.80" fill="#26326f"/>
</g>
<text transform="translate(78.3 357.98) scale(1.08 1)" font-size="5.9" text-anchor="end" fill="#000" stroke="#000" stroke-width="0.22">PDCD1</text>
<text transform="translate(78.3 363.73) scale(1.08 1)" font-size="5.9" text-anchor="end" fill="#000" stroke="#000" stroke-width="0.22">PDCD1</text>
<text transform="translate(78.3 369.48) scale(1.08 1)" font-size="5.9" text-anchor="end" fill="#000" stroke="#000" stroke-width="0.22">HAVCR2</text>
<text transform="translate(78.3 375.23) scale(1.08 1)" font-size="5.9" text-anchor="end" fill="#000" stroke="#000" stroke-width="0.22">LAIR1</text>
<text transform="translate(78.3 380.98) scale(1.08 1)" font-size="5.9" text-anchor="end" fill="#000" stroke="#000" stroke-width="0.22">LAIR1</text>
<text transform="translate(78.3 386.73) scale(1.08 1)" font-size="5.9" text-anchor="end" fill="#000" stroke="#000" stroke-width="0.22">CTLA4</text>
<text transform="translate(78.3 392.48) scale(1.08 1)" font-size="5.9" text-anchor="end" fill="#000" stroke="#000" stroke-width="0.22">CTLA4</text>
<text transform="translate(78.3 398.23) scale(1.08 1)" font-size="5.9" text-anchor="end" fill="#000" stroke="#000" stroke-width="0.22">TIGIT</text>
<text transform="translate(78.3 403.98) scale(1.08 1)" font-size="5.9" text-anchor="end" fill="#000" stroke="#000" stroke-width="0.22">TIGIT</text>
<text transform="translate(78.3 409.73) scale(1.08 1)" font-size="5.9" text-anchor="end" fill="#000" stroke="#000" stroke-width="0.22">TIGIT</text>
<text transform="translate(78.3 415.48) scale(1.08 1)" font-size="5.9" text-anchor="end" fill="#000" stroke="#000" stroke-width="0.22">TIGIT</text>
<text transform="translate(78.3 421.23) scale(1.08 1)" font-size="5.9" text-anchor="end" fill="#000" stroke="#000" stroke-width="0.22">TIGIT</text>
<text transform="translate(78.3 426.98) scale(1.08 1)" font-size="5.9" text-anchor="end" fill="#000" stroke="#000" stroke-width="0.22">CD160</text>
<text transform="translate(78.3 432.73) scale(1.08 1)" font-size="5.9" text-anchor="end" fill="#000" stroke="#000" stroke-width="0.22">BTLA</text>
<path d="M81.3 436.3H149.9" stroke="#d9636b" stroke-width="1.35"/>
<path d="M152.1 436.3H220.8" stroke="#5d6b9e" stroke-width="1.35"/>
<text x="120.8" y="444.8" font-size="6.3" text-anchor="middle" fill="#111">Before</text>
<text x="187.4" y="444.8" font-size="6.3" text-anchor="middle" fill="#111">After</text>
<path d="M34.9 352.0V435.1" stroke="#4e44a6" stroke-width="1.4"/>
<text x="28.9" y="392" font-size="12.2" text-anchor="middle" fill="#111" transform="rotate(-90 28.9 392)">Nivo-NR</text>
<g class="hm">
<rect x="81.10" y="461.10" width="5.80" height="5.79" fill="#3f5ca6"/>
<rect x="86.85" y="461.10" width="11.55" height="5.79" fill="#26326f"/>
<rect x="98.35" y="461.10" width="5.80" height="5.79" fill="#a6c3e2"/>
<rect x="104.10" y="461.10" width="5.80" height="5.79" fill="#f9dcc6"/>
<rect x="109.85" y="461.10" width="5.80" height="5.79" fill="#a6c3e2"/>
<rect x="115.60" y="461.10" width="5.80" height="5.79" fill="#26326f"/>
<rect x="122.85" y="461.10" width="5.80" height="5.79" fill="#d6e3f1"/>
<rect x="128.60" y="461.10" width="5.80" height="5.79" fill="#a6c3e2"/>
<rect x="134.35" y="461.10" width="5.80" height="5.79" fill="#3f5ca6"/>
<rect x="140.10" y="461.10" width="5.80" height="5.79" fill="#f9dcc6"/>
<rect x="145.85" y="461.10" width="5.80" height="5.79" fill="#ab2a32"/>
<rect x="151.60" y="461.10" width="11.55" height="5.79" fill="#eda982"/>
<rect x="81.10" y="466.85" width="5.80" height="5.79" fill="#3f5ca6"/>
<rect x="86.85" y="466.85" width="11.55" height="5.79" fill="#26326f"/>
<rect x="98.35" y="466.85" width="5.80" height="5.79" fill="#a6c3e2"/>
<rect x="104.10" y="466.85" width="5.80" height="5.79" fill="#f9dcc6"/>
<rect x="109.85" y="466.85" width="5.80" height="5.79" fill="#a6c3e2"/>
<rect x="115.60" y="466.85" width="5.80" height="5.79" fill="#26326f"/>
<rect x="122.85" y="466.85" width="5.80" height="5.79" fill="#d6e3f1"/>
<rect x="128.60" y="466.85" width="5.80" height="5.79" fill="#a6c3e2"/>
<rect x="134.35" y="466.85" width="5.80" height="5.79" fill="#3f5ca6"/>
<rect x="140.10" y="466.85" width="5.80" height="5.79" fill="#f9dcc6"/>
<rect x="145.85" y="466.85" width="5.80" height="5.79" fill="#ab2a32"/>
<rect x="151.60" y="466.85" width="11.55" height="5.79" fill="#eda982"/>
<rect x="81.10" y="472.59" width="5.80" height="5.79" fill="#d6e3f1"/>
<rect x="86.85" y="472.59" width="5.80" height="5.79" fill="#6c90c8"/>
<rect x="92.60" y="472.59" width="5.80" height="5.79" fill="#f8f8f8"/>
<rect x="98.35" y="472.59" width="5.80" height="5.79" fill="#f9dcc6"/>
<rect x="104.10" y="472.59" width="5.80" height="5.79" fill="#f8f8f8"/>
<rect x="109.85" y="472.59" width="5.80" height="5.79" fill="#a6c3e2"/>
<rect x="115.60" y="472.59" width="5.80" height="5.79" fill="#d6e3f1"/>
<rect x="122.85" y="472.59" width="5.80" height="5.79" fill="#d6e3f1"/>
<rect x="128.60" y="472.59" width="5.80" height="5.79" fill="#a6c3e2"/>
<rect x="134.35" y="472.59" width="5.80" height="5.79" fill="#d6e3f1"/>
<rect x="140.10" y="472.59" width="5.80" height="5.79" fill="#6d1220"/>
<rect x="145.85" y="472.59" width="5.80" height="5.79" fill="#eda982"/>
<rect x="151.60" y="472.59" width="5.80" height="5.79" fill="#f9dcc6"/>
<rect x="157.35" y="472.59" width="5.80" height="5.79" fill="#6d1220"/>
<rect x="81.10" y="478.34" width="5.80" height="5.79" fill="#a6c3e2"/>
<rect x="86.85" y="478.34" width="5.80" height="5.79" fill="#3f5ca6"/>
<rect x="92.60" y="478.34" width="5.80" height="5.79" fill="#d6e3f1"/>
<rect x="98.35" y="478.34" width="5.80" height="5.79" fill="#f8f8f8"/>
<rect x="104.10" y="478.34" width="5.80" height="5.79" fill="#d6e3f1"/>
<rect x="109.85" y="478.34" width="5.80" height="5.79" fill="#a6c3e2"/>
<rect x="115.60" y="478.34" width="5.80" height="5.79" fill="#6c90c8"/>
<rect x="122.85" y="478.34" width="5.80" height="5.79" fill="#d6e3f1"/>
<rect x="128.60" y="478.34" width="5.80" height="5.79" fill="#3f5ca6"/>
<rect x="134.35" y="478.34" width="5.80" height="5.79" fill="#d6e3f1"/>
<rect x="140.10" y="478.34" width="5.80" height="5.79" fill="#6d1220"/>
<rect x="145.85" y="478.34" width="5.80" height="5.79" fill="#eda982"/>
<rect x="151.60" y="478.34" width="5.80" height="5.79" fill="#f8f8f8"/>
<rect x="157.35" y="478.34" width="5.80" height="5.79" fill="#6d1220"/>
<rect x="81.10" y="484.08" width="5.80" height="5.79" fill="#a6c3e2"/>
<rect x="86.85" y="484.08" width="5.80" height="5.79" fill="#3f5ca6"/>
<rect x="92.60" y="484.08" width="5.80" height="5.79" fill="#d6e3f1"/>
<rect x="98.35" y="484.08" width="5.80" height="5.79" fill="#f8f8f8"/>
<rect x="104.10" y="484.08" width="5.80" height="5.79" fill="#d6e3f1"/>
<rect x="109.85" y="484.08" width="5.80" height="5.79" fill="#a6c3e2"/>
<rect x="115.60" y="484.08" width="5.80" height="5.79" fill="#6c90c8"/>
<rect x="122.85" y="484.08" width="5.80" height="5.79" fill="#d6e3f1"/>
<rect x="128.60" y="484.08" width="5.80" height="5.79" fill="#3f5ca6"/>
<rect x="134.35" y="484.08" width="5.80" height="5.79" fill="#d6e3f1"/>
<rect x="140.10" y="484.08" width="5.80" height="5.79" fill="#6d1220"/>
<rect x="145.85" y="484.08" width="5.80" height="5.79" fill="#eda982"/>
<rect x="151.60" y="484.08" width="5.80" height="5.79" fill="#f8f8f8"/>
<rect x="157.35" y="484.08" width="5.80" height="5.79" fill="#6d1220"/>
<rect x="81.10" y="489.83" width="11.55" height="5.79" fill="#26326f"/>
<rect x="92.60" y="489.83" width="11.55" height="5.79" fill="#3f5ca6"/>
<rect x="104.10" y="489.83" width="5.80" height="5.79" fill="#a6c3e2"/>
<rect x="109.85" y="489.83" width="5.80" height="5.79" fill="#3f5ca6"/>
<rect x="115.60" y="489.83" width="5.80" height="5.79" fill="#26326f"/>
<rect x="122.85" y="489.83" width="5.80" height="5.79" fill="#d6e3f1"/>
<rect x="128.60" y="489.83" width="5.80" height="5.79" fill="#6c90c8"/>
<rect x="134.35" y="489.83" width="5.80" height="5.79" fill="#26326f"/>
<rect x="140.10" y="489.83" width="5.80" height="5.79" fill="#f8f8f8"/>
<rect x="145.85" y="489.83" width="11.55" height="5.79" fill="#f9dcc6"/>
<rect x="157.35" y="489.83" width="5.80" height="5.79" fill="#eda982"/>
<rect x="81.10" y="495.57" width="11.55" height="5.79" fill="#26326f"/>
<rect x="92.60" y="495.57" width="11.55" height="5.79" fill="#3f5ca6"/>
<rect x="104.10" y="495.57" width="5.80" height="5.79" fill="#a6c3e2"/>
<rect x="109.85" y="495.57" width="5.80" height="5.79" fill="#3f5ca6"/>
<rect x="115.60" y="495.57" width="5.80" height="5.79" fill="#26326f"/>
<rect x="122.85" y="495.57" width="5.80" height="5.79" fill="#d6e3f1"/>
<rect x="128.60" y="495.57" width="5.80" height="5.79" fill="#6c90c8"/>
<rect x="134.35" y="495.57" width="5.80" height="5.79" fill="#26326f"/>
<rect x="140.10" y="495.57" width="5.80" height="5.79" fill="#f8f8f8"/>
<rect x="145.85" y="495.57" width="11.55" height="5.79" fill="#f9dcc6"/>
<rect x="157.35" y="495.57" width="5.80" height="5.79" fill="#eda982"/>
<rect x="81.10" y="501.32" width="17.30" height="5.79" fill="#26326f"/>
<rect x="98.35" y="501.32" width="5.80" height="5.79" fill="#6c90c8"/>
<rect x="104.10" y="501.32" width="5.80" height="5.79" fill="#a6c3e2"/>
<rect x="109.85" y="501.32" width="11.55" height="5.79" fill="#3f5ca6"/>
<rect x="122.85" y="501.32" width="5.80" height="5.79" fill="#6c90c8"/>
<rect x="128.60" y="501.32" width="5.80" height="5.79" fill="#3f5ca6"/>
<rect x="134.35" y="501.32" width="5.80" height="5.79" fill="#26326f"/>
<rect x="140.10" y="501.32" width="5.80" height="5.79" fill="#d6e3f1"/>
<rect x="145.85" y="501.32" width="5.80" height="5.79" fill="#f9dcc6"/>
<rect x="151.60" y="501.32" width="5.80" height="5.79" fill="#a6c3e2"/>
<rect x="157.35" y="501.32" width="5.80" height="5.79" fill="#d6e3f1"/>
<rect x="81.10" y="507.06" width="17.30" height="5.79" fill="#26326f"/>
<rect x="98.35" y="507.06" width="5.80" height="5.79" fill="#6c90c8"/>
<rect x="104.10" y="507.06" width="5.80" height="5.79" fill="#a6c3e2"/>
<rect x="109.85" y="507.06" width="11.55" height="5.79" fill="#3f5ca6"/>
<rect x="122.85" y="507.06" width="5.80" height="5.79" fill="#6c90c8"/>
<rect x="128.60" y="507.06" width="5.80" height="5.79" fill="#3f5ca6"/>
<rect x="134.35" y="507.06" width="5.80" height="5.79" fill="#26326f"/>
<rect x="140.10" y="507.06" width="5.80" height="5.79" fill="#d6e3f1"/>
<rect x="145.85" y="507.06" width="5.80" height="5.79" fill="#f9dcc6"/>
<rect x="151.60" y="507.06" width="5.80" height="5.79" fill="#a6c3e2"/>
<rect x="157.35" y="507.06" width="5.80" height="5.79" fill="#d6e3f1"/>
<rect x="81.10" y="512.81" width="17.30" height="5.79" fill="#26326f"/>
<rect x="98.35" y="512.81" width="5.80" height="5.79" fill="#6c90c8"/>
<rect x="104.10" y="512.81" width="5.80" height="5.79" fill="#a6c3e2"/>
<rect x="109.85" y="512.81" width="11.55" height="5.79" fill="#3f5ca6"/>
<rect x="122.85" y="512.81" width="5.80" height="5.79" fill="#6c90c8"/>
<rect x="128.60" y="512.81" width="5.80" height="5.79" fill="#3f5ca6"/>
<rect x="134.35" y="512.81" width="5.80" height="5.79" fill="#26326f"/>
<rect x="140.10" y="512.81" width="5.80" height="5.79" fill="#d6e3f1"/>
<rect x="145.85" y="512.81" width="5.80" height="5.79" fill="#f9dcc6"/>
<rect x="151.60" y="512.81" width="5.80" height="5.79" fill="#a6c3e2"/>
<rect x="157.35" y="512.81" width="5.80" height="5.79" fill="#d6e3f1"/>
<rect x="81.10" y="518.55" width="17.30" height="5.79" fill="#26326f"/>
<rect x="98.35" y="518.55" width="5.80" height="5.79" fill="#6c90c8"/>
<rect x="104.10" y="518.55" width="5.80" height="5.79" fill="#a6c3e2"/>
<rect x="109.85" y="518.55" width="11.55" height="5.79" fill="#3f5ca6"/>
<rect x="122.85" y="518.55" width="5.80" height="5.79" fill="#6c90c8"/>
<rect x="128.60" y="518.55" width="5.80" height="5.79" fill="#3f5ca6"/>
<rect x="134.35" y="518.55" width="5.80" height="5.79" fill="#26326f"/>
<rect x="140.10" y="518.55" width="5.80" height="5.79" fill="#d6e3f1"/>
<rect x="145.85" y="518.55" width="5.80" height="5.79" fill="#f9dcc6"/>
<rect x="151.60" y="518.55" width="5.80" height="5.79" fill="#a6c3e2"/>
<rect x="157.35" y="518.55" width="5.80" height="5.79" fill="#d6e3f1"/>
<rect x="81.10" y="524.30" width="17.30" height="5.79" fill="#26326f"/>
<rect x="98.35" y="524.30" width="5.80" height="5.79" fill="#6c90c8"/>
<rect x="104.10" y="524.30" width="5.80" height="5.79" fill="#a6c3e2"/>
<rect x="109.85" y="524.30" width="11.55" height="5.79" fill="#3f5ca6"/>
<rect x="122.85" y="524.30" width="5.80" height="5.79" fill="#6c90c8"/>
<rect x="128.60" y="524.30" width="5.80" height="5.79" fill="#3f5ca6"/>
<rect x="134.35" y="524.30" width="5.80" height="5.79" fill="#26326f"/>
<rect x="140.10" y="524.30" width="5.80" height="5.79" fill="#d6e3f1"/>
<rect x="145.85" y="524.30" width="5.80" height="5.79" fill="#f9dcc6"/>
<rect x="151.60" y="524.30" width="5.80" height="5.79" fill="#a6c3e2"/>
<rect x="157.35" y="524.30" width="5.80" height="5.79" fill="#d6e3f1"/>
<rect x="81.10" y="530.04" width="5.80" height="5.79" fill="#3f5ca6"/>
<rect x="86.85" y="530.04" width="11.55" height="5.79" fill="#26326f"/>
<rect x="98.35" y="530.04" width="5.80" height="5.79" fill="#3f5ca6"/>
<rect x="104.10" y="530.04" width="11.55" height="5.79" fill="#26326f"/>
<rect x="115.60" y="530.04" width="5.80" height="5.79" fill="#6c90c8"/>
<rect x="122.85" y="530.04" width="17.30" height="5.79" fill="#26326f"/>
<rect x="140.10" y="530.04" width="5.80" height="5.79" fill="#3f5ca6"/>
<rect x="145.85" y="530.04" width="17.30" height="5.79" fill="#6c90c8"/>
<rect x="81.10" y="535.79" width="17.30" height="5.79" fill="#26326f"/>
<rect x="98.35" y="535.79" width="11.55" height="5.79" fill="#3f5ca6"/>
<rect x="109.85" y="535.79" width="11.55" height="5.79" fill="#26326f"/>
<rect x="122.85" y="535.79" width="23.05" height="5.79" fill="#26326f"/>
<rect x="145.85" y="535.79" width="5.80" height="5.79" fill="#3f5ca6"/>
<rect x="151.60" y="535.79" width="5.80" height="5.79" fill="#6c90c8"/>
<rect x="157.35" y="535.79" width="5.80" height="5.79" fill="#3f5ca6"/>
</g>
<text transform="translate(78.1 466.07) scale(1.08 1)" font-size="5.9" text-anchor="end" fill="#000" stroke="#000" stroke-width="0.22">PDCD1</text>
<text transform="translate(78.1 471.82) scale(1.08 1)" font-size="5.9" text-anchor="end" fill="#000" stroke="#000" stroke-width="0.22">PDCD1</text>
<text transform="translate(78.1 477.56) scale(1.08 1)" font-size="5.9" text-anchor="end" fill="#000" stroke="#000" stroke-width="0.22">HAVCR2</text>
<text transform="translate(78.1 483.31) scale(1.08 1)" font-size="5.9" text-anchor="end" fill="#000" stroke="#000" stroke-width="0.22">LAIR1</text>
<text transform="translate(78.1 489.05) scale(1.08 1)" font-size="5.9" text-anchor="end" fill="#000" stroke="#000" stroke-width="0.22">LAIR1</text>
<text transform="translate(78.1 494.80) scale(1.08 1)" font-size="5.9" text-anchor="end" fill="#000" stroke="#000" stroke-width="0.22">CTLA4</text>
<text transform="translate(78.1 500.54) scale(1.08 1)" font-size="5.9" text-anchor="end" fill="#000" stroke="#000" stroke-width="0.22">CTLA4</text>
<text transform="translate(78.1 506.29) scale(1.08 1)" font-size="5.9" text-anchor="end" fill="#000" stroke="#000" stroke-width="0.22">TIGIT</text>
<text transform="translate(78.1 512.03) scale(1.08 1)" font-size="5.9" text-anchor="end" fill="#000" stroke="#000" stroke-width="0.22">TIGIT</text>
<text transform="translate(78.1 517.78) scale(1.08 1)" font-size="5.9" text-anchor="end" fill="#000" stroke="#000" stroke-width="0.22">TIGIT</text>
<text transform="translate(78.1 523.52) scale(1.08 1)" font-size="5.9" text-anchor="end" fill="#000" stroke="#000" stroke-width="0.22">TIGIT</text>
<text transform="translate(78.1 529.27) scale(1.08 1)" font-size="5.9" text-anchor="end" fill="#000" stroke="#000" stroke-width="0.22">TIGIT</text>
<text transform="translate(78.1 535.01) scale(1.08 1)" font-size="5.9" text-anchor="end" fill="#000" stroke="#000" stroke-width="0.22">CD160</text>
<text transform="translate(78.1 540.76) scale(1.08 1)" font-size="5.9" text-anchor="end" fill="#000" stroke="#000" stroke-width="0.22">BTLA</text>
<path d="M45.50 465.87l1.70-3.80 1.70 3.80z" fill="#9a2327"/>
<path d="M45.50 471.62l1.70-3.80 1.70 3.80z" fill="#9a2327"/>
<path d="M45.50 477.36l1.70-3.80 1.70 3.80z" fill="#9a2327"/>
<path d="M45.50 483.11l1.70-3.80 1.70 3.80z" fill="#9a2327"/>
<path d="M45.50 488.85l1.70-3.80 1.70 3.80z" fill="#9a2327"/>
<path d="M45.50 494.60l1.70-3.80 1.70 3.80z" fill="#9a2327"/>
<path d="M45.50 500.34l1.70-3.80 1.70 3.80z" fill="#9a2327"/>
<path d="M45.50 506.09l1.70-3.80 1.70 3.80z" fill="#9a2327"/>
<path d="M45.50 511.83l1.70-3.80 1.70 3.80z" fill="#9a2327"/>
<path d="M45.50 517.58l1.70-3.80 1.70 3.80z" fill="#9a2327"/>
<path d="M45.50 523.32l1.70-3.80 1.70 3.80z" fill="#9a2327"/>
<path d="M45.50 529.07l1.70-3.80 1.70 3.80z" fill="#9a2327"/>
<path d="M81.1 544.3H121.3" stroke="#d27a84" stroke-width="1.35"/>
<path d="M122.8 544.3H163.1" stroke="#6c8798" stroke-width="1.35"/>
<text x="101.9" y="551.4" font-size="6.3" text-anchor="middle" fill="#111">Before</text>
<text x="141.6" y="551.4" font-size="6.3" text-anchor="middle" fill="#111">After</text>
<path d="M34.2 460.4V543.4" stroke="#b04f93" stroke-width="1.4"/>
<text x="28.9" y="502.6" font-size="12.2" text-anchor="middle" fill="#111" transform="rotate(-90 28.9 502.6)">Nivo-R</text>
<g class="hm">
<rect x="339.50" y="351.80" width="28.90" height="5.77" fill="#3f5ca6"/>
<rect x="368.35" y="351.80" width="5.82" height="5.77" fill="#6c90c8"/>
<rect x="374.12" y="351.80" width="5.82" height="5.77" fill="#26326f"/>
<rect x="379.89" y="351.80" width="5.82" height="5.77" fill="#6c90c8"/>
<rect x="385.66" y="351.80" width="11.59" height="5.77" fill="#3f5ca6"/>
<rect x="397.20" y="351.80" width="11.59" height="5.77" fill="#26326f"/>
<rect x="409.94" y="351.80" width="11.59" height="5.77" fill="#3f5ca6"/>
<rect x="421.48" y="351.80" width="5.82" height="5.77" fill="#26326f"/>
<rect x="427.25" y="351.80" width="5.82" height="5.77" fill="#6c90c8"/>
<rect x="433.02" y="351.80" width="5.82" height="5.77" fill="#3f5ca6"/>
<rect x="438.79" y="351.80" width="5.82" height="5.77" fill="#a6c3e2"/>
<rect x="444.56" y="351.80" width="11.59" height="5.77" fill="#3f5ca6"/>
<rect x="456.10" y="351.80" width="5.82" height="5.77" fill="#6c90c8"/>
<rect x="461.87" y="351.80" width="11.59" height="5.77" fill="#3f5ca6"/>
<rect x="473.41" y="351.80" width="5.82" height="5.77" fill="#26326f"/>
<rect x="339.50" y="357.53" width="17.36" height="5.77" fill="#6c90c8"/>
<rect x="356.81" y="357.53" width="5.82" height="5.77" fill="#a6c3e2"/>
<rect x="362.58" y="357.53" width="5.82" height="5.77" fill="#3f5ca6"/>
<rect x="368.35" y="357.53" width="5.82" height="5.77" fill="#a6c3e2"/>
<rect x="374.12" y="357.53" width="5.82" height="5.77" fill="#26326f"/>
<rect x="379.89" y="357.53" width="11.59" height="5.77" fill="#6c90c8"/>
<rect x="391.43" y="357.53" width="5.82" height="5.77" fill="#3f5ca6"/>
<rect x="397.20" y="357.53" width="5.82" height="5.77" fill="#f8f8f8"/>
<rect x="402.97" y="357.53" width="5.82" height="5.77" fill="#26326f"/>
<rect x="409.94" y="357.53" width="11.59" height="5.77" fill="#3f5ca6"/>
<rect x="421.48" y="357.53" width="5.82" height="5.77" fill="#26326f"/>
<rect x="427.25" y="357.53" width="5.82" height="5.77" fill="#3f5ca6"/>
<rect x="433.02" y="357.53" width="5.82" height="5.77" fill="#26326f"/>
<rect x="438.79" y="357.53" width="5.82" height="5.77" fill="#a6c3e2"/>
<rect x="444.56" y="357.53" width="11.59" height="5.77" fill="#3f5ca6"/>
<rect x="456.10" y="357.53" width="5.82" height="5.77" fill="#6c90c8"/>
<rect x="461.87" y="357.53" width="11.59" height="5.77" fill="#26326f"/>
<rect x="473.41" y="357.53" width="5.82" height="5.77" fill="#3f5ca6"/>
<rect x="339.50" y="363.25" width="5.82" height="5.77" fill="#f8f8f8"/>
<rect x="345.27" y="363.25" width="5.82" height="5.77" fill="#eda982"/>
<rect x="351.04" y="363.25" width="5.82" height="5.77" fill="#6c90c8"/>
<rect x="356.81" y="363.25" width="11.59" height="5.77" fill="#f8f8f8"/>
<rect x="368.35" y="363.25" width="5.82" height="5.77" fill="#f9dcc6"/>
<rect x="374.12" y="363.25" width="5.82" height="5.77" fill="#3f5ca6"/>
<rect x="379.89" y="363.25" width="11.59" height="5.77" fill="#d6e3f1"/>
<rect x="391.43" y="363.25" width="11.59" height="5.77" fill="#a6c3e2"/>
<rect x="402.97" y="363.25" width="5.82" height="5.77" fill="#6c90c8"/>
<rect x="409.94" y="363.25" width="5.82" height="5.77" fill="#a6c3e2"/>
<rect x="415.71" y="363.25" width="5.82" height="5.77" fill="#eda982"/>
<rect x="421.48" y="363.25" width="5.82" height="5.77" fill="#6c90c8"/>
<rect x="427.25" y="363.25" width="5.82" height="5.77" fill="#f8f8f8"/>
<rect x="433.02" y="363.25" width="5.82" height="5.77" fill="#d6e3f1"/>
<rect x="438.79" y="363.25" width="5.82" height="5.77" fill="#cc6650"/>
<rect x="444.56" y="363.25" width="5.82" height="5.77" fill="#6c90c8"/>
<rect x="450.33" y="363.25" width="5.82" height="5.77" fill="#d6e3f1"/>
<rect x="456.10" y="363.25" width="5.82" height="5.77" fill="#f8f8f8"/>
<rect x="461.87" y="363.25" width="5.82" height="5.77" fill="#a6c3e2"/>
<rect x="467.64" y="363.25" width="5.82" height="5.77" fill="#26326f"/>
<rect x="473.41" y="363.25" width="5.82" height="5.77" fill="#a6c3e2"/>
<rect x="339.50" y="368.98" width="5.82" height="5.77" fill="#f9dcc6"/>
<rect x="345.27" y="368.98" width="5.82" height="5.77" fill="#eda982"/>
<rect x="351.04" y="368.98" width="5.82" height="5.77" fill="#a6c3e2"/>
<rect x="356.81" y="368.98" width="11.59" height="5.77" fill="#f9dcc6"/>
<rect x="368.35" y="368.98" width="11.59" height="5.77" fill="#f8f8f8"/>
<rect x="379.89" y="368.98" width="5.82" height="5.77" fill="#d6e3f1"/>
<rect x="385.66" y="368.98" width="11.59" height="5.77" fill="#f8f8f8"/>
<rect x="397.20" y="368.98" width="5.82" height="5.77" fill="#f9dcc6"/>
<rect x="402.97" y="368.98" width="5.82" height="5.77" fill="#d6e3f1"/>
<rect x="409.94" y="368.98" width="5.82" height="5.77" fill="#f8f8f8"/>
<rect x="415.71" y="368.98" width="5.82" height="5.77" fill="#eda982"/>
<rect x="421.48" y="368.98" width="5.82" height="5.77" fill="#a6c3e2"/>
<rect x="427.25" y="368.98" width="5.82" height="5.77" fill="#f9dcc6"/>
<rect x="433.02" y="368.98" width="5.82" height="5.77" fill="#f8f8f8"/>
<rect x="438.79" y="368.98" width="5.82" height="5.77" fill="#cc6650"/>
<rect x="444.56" y="368.98" width="5.82" height="5.77" fill="#a6c3e2"/>
<rect x="450.33" y="368.98" width="5.82" height="5.77" fill="#f8f8f8"/>
<rect x="456.10" y="368.98" width="11.59" height="5.77" fill="#d6e3f1"/>
<rect x="467.64" y="368.98" width="5.82" height="5.77" fill="#a6c3e2"/>
<rect x="473.41" y="368.98" width="5.82" height="5.77" fill="#d6e3f1"/>
<rect x="339.50" y="374.70" width="5.82" height="5.77" fill="#f8f8f8"/>
<rect x="345.27" y="374.70" width="5.82" height="5.77" fill="#f9dcc6"/>
<rect x="351.04" y="374.70" width="5.82" height="5.77" fill="#f8f8f8"/>
<rect x="356.81" y="374.70" width="5.82" height="5.77" fill="#eda982"/>
<rect x="362.58" y="374.70" width="5.82" height="5.77" fill="#f8f8f8"/>
<rect x="368.35" y="374.70" width="5.82" height="5.77" fill="#eda982"/>
<rect x="374.12" y="374.70" width="5.82" height="5.77" fill="#f8f8f8"/>
<rect x="379.89" y="374.70" width="5.82" height="5.77" fill="#f9dcc6"/>
<rect x="385.66" y="374.70" width="11.59" height="5.77" fill="#eda982"/>
<rect x="397.20" y="374.70" width="5.82" height="5.77" fill="#f8f8f8"/>
<rect x="402.97" y="374.70" width="5.82" height="5.77" fill="#d6e3f1"/>
<rect x="409.94" y="374.70" width="5.82" height="5.77" fill="#eda982"/>
<rect x="415.71" y="374.70" width="5.82" height="5.77" fill="#cc6650"/>
<rect x="421.48" y="374.70" width="5.82" height="5.77" fill="#f8f8f8"/>
<rect x="427.25" y="374.70" width="5.82" height="5.77" fill="#eda982"/>
<rect x="433.02" y="374.70" width="5.82" height="5.77" fill="#f8f8f8"/>
<rect x="438.79" y="374.70" width="5.82" height="5.77" fill="#f9dcc6"/>
<rect x="444.56" y="374.70" width="11.59" height="5.77" fill="#f8f8f8"/>
<rect x="456.10" y="374.70" width="17.36" height="5.77" fill="#f9dcc6"/>
<rect x="473.41" y="374.70" width="5.82" height="5.77" fill="#f8f8f8"/>
<rect x="339.50" y="380.43" width="5.82" height="5.77" fill="#26326f"/>
<rect x="345.27" y="380.43" width="5.82" height="5.77" fill="#3f5ca6"/>
<rect x="351.04" y="380.43" width="28.90" height="5.77" fill="#26326f"/>
<rect x="379.89" y="380.43" width="5.82" height="5.77" fill="#3f5ca6"/>
<rect x="385.66" y="380.43" width="23.13" height="5.77" fill="#26326f"/>
<rect x="409.94" y="380.43" width="11.59" height="5.77" fill="#3f5ca6"/>
<rect x="421.48" y="380.43" width="5.82" height="5.77" fill="#26326f"/>
<rect x="427.25" y="380.43" width="5.82" height="5.77" fill="#3f5ca6"/>
<rect x="433.02" y="380.43" width="5.82" height="5.77" fill="#26326f"/>
<rect x="438.79" y="380.43" width="5.82" height="5.77" fill="#d6e3f1"/>
<rect x="444.56" y="380.43" width="5.82" height="5.77" fill="#26326f"/>
<rect x="450.33" y="380.43" width="5.82" height="5.77" fill="#3f5ca6"/>
<rect x="456.10" y="380.43" width="23.13" height="5.77" fill="#26326f"/>
<rect x="339.50" y="386.15" width="5.82" height="5.77" fill="#d6e3f1"/>
<rect x="345.27" y="386.15" width="5.82" height="5.77" fill="#f8f8f8"/>
<rect x="351.04" y="386.15" width="5.82" height="5.77" fill="#a6c3e2"/>
<rect x="356.81" y="386.15" width="5.82" height="5.77" fill="#d6e3f1"/>
<rect x="362.58" y="386.15" width="11.59" height="5.77" fill="#a6c3e2"/>
<rect x="374.12" y="386.15" width="5.82" height="5.77" fill="#3f5ca6"/>
<rect x="379.89" y="386.15" width="5.82" height="5.77" fill="#d6e3f1"/>
<rect x="385.66" y="386.15" width="5.82" height="5.77" fill="#a6c3e2"/>
<rect x="391.43" y="386.15" width="5.82" height="5.77" fill="#6c90c8"/>
<rect x="397.20" y="386.15" width="5.82" height="5.77" fill="#f9dcc6"/>
<rect x="402.97" y="386.15" width="5.82" height="5.77" fill="#26326f"/>
<rect x="409.94" y="386.15" width="5.82" height="5.77" fill="#6c90c8"/>
<rect x="415.71" y="386.15" width="5.82" height="5.77" fill="#d6e3f1"/>
<rect x="421.48" y="386.15" width="5.82" height="5.77" fill="#3f5ca6"/>
<rect x="427.25" y="386.15" width="5.82" height="5.77" fill="#f8f8f8"/>
<rect x="433.02" y="386.15" width="5.82" height="5.77" fill="#6c90c8"/>
<rect x="438.79" y="386.15" width="5.82" height="5.77" fill="#f8f8f8"/>
<rect x="444.56" y="386.15" width="5.82" height="5.77" fill="#26326f"/>
<rect x="450.33" y="386.15" width="5.82" height="5.77" fill="#d6e3f1"/>
<rect x="456.10" y="386.15" width="5.82" height="5.77" fill="#6c90c8"/>
<rect x="461.87" y="386.15" width="5.82" height="5.77" fill="#3f5ca6"/>
<rect x="467.64" y="386.15" width="5.82" height="5.77" fill="#6c90c8"/>
<rect x="473.41" y="386.15" width="5.82" height="5.77" fill="#3f5ca6"/>
<rect x="339.50" y="391.88" width="5.82" height="5.77" fill="#f8f8f8"/>
<rect x="345.27" y="391.88" width="5.82" height="5.77" fill="#eda982"/>
<rect x="351.04" y="391.88" width="5.82" height="5.77" fill="#a6c3e2"/>
<rect x="356.81" y="391.88" width="17.36" height="5.77" fill="#f9dcc6"/>
<rect x="374.12" y="391.88" width="5.82" height="5.77" fill="#d6e3f1"/>
<rect x="379.89" y="391.88" width="5.82" height="5.77" fill="#f9dcc6"/>
<rect x="385.66" y="391.88" width="5.82" height="5.77" fill="#d6e3f1"/>
<rect x="391.43" y="391.88" width="5.82" height="5.77" fill="#eda982"/>
<rect x="397.20" y="391.88" width="5.82" height="5.77" fill="#a6c3e2"/>
<rect x="402.97" y="391.88" width="5.82" height="5.77" fill="#f9dcc6"/>
<rect x="409.94" y="391.88" width="5.82" height="5.77" fill="#f9dcc6"/>
<rect x="415.71" y="391.88" width="5.82" height="5.77" fill="#eda982"/>
<rect x="421.48" y="391.88" width="11.59" height="5.77" fill="#f8f8f8"/>
<rect x="433.02" y="391.88" width="11.59" height="5.77" fill="#f9dcc6"/>
<rect x="444.56" y="391.88" width="5.82" height="5.77" fill="#d6e3f1"/>
<rect x="450.33" y="391.88" width="5.82" height="5.77" fill="#f9dcc6"/>
<rect x="456.10" y="391.88" width="5.82" height="5.77" fill="#f8f8f8"/>
<rect x="461.87" y="391.88" width="5.82" height="5.77" fill="#eda982"/>
<rect x="467.64" y="391.88" width="11.59" height="5.77" fill="#d6e3f1"/>
<rect x="339.50" y="397.60" width="5.82" height="5.77" fill="#6c90c8"/>
<rect x="345.27" y="397.60" width="5.82" height="5.77" fill="#f8f8f8"/>
<rect x="351.04" y="397.60" width="5.82" height="5.77" fill="#3f5ca6"/>
<rect x="356.81" y="397.60" width="5.82" height="5.77" fill="#6c90c8"/>
<rect x="362.58" y="397.60" width="11.59" height="5.77" fill="#d6e3f1"/>
<rect x="374.12" y="397.60" width="5.82" height="5.77" fill="#26326f"/>
<rect x="379.89" y="397.60" width="5.82" height="5.77" fill="#a6c3e2"/>
<rect x="385.66" y="397.60" width="5.82" height="5.77" fill="#d6e3f1"/>
<rect x="391.43" y="397.60" width="5.82" height="5.77" fill="#a6c3e2"/>
<rect x="397.20" y="397.60" width="5.82" height="5.77" fill="#26326f"/>
<rect x="402.97" y="397.60" width="5.82" height="5.77" fill="#a6c3e2"/>
<rect x="409.94" y="397.60" width="5.82" height="5.77" fill="#6c90c8"/>
<rect x="415.71" y="397.60" width="5.82" height="5.77" fill="#f8f8f8"/>
<rect x="421.48" y="397.60" width="5.82" height="5.77" fill="#3f5ca6"/>
<rect x="427.25" y="397.60" width="5.82" height="5.77" fill="#6c90c8"/>
<rect x="433.02" y="397.60" width="5.82" height="5.77" fill="#d6e3f1"/>
<rect x="438.79" y="397.60" width="5.82" height="5.77" fill="#a6c3e2"/>
<rect x="444.56" y="397.60" width="5.82" height="5.77" fill="#3f5ca6"/>
<rect x="450.33" y="397.60" width="5.82" height="5.77" fill="#a6c3e2"/>
<rect x="456.10" y="397.60" width="5.82" height="5.77" fill="#6c90c8"/>
<rect x="461.87" y="397.60" width="5.82" height="5.77" fill="#a6c3e2"/>
<rect x="467.64" y="397.60" width="5.82" height="5.77" fill="#3f5ca6"/>
<rect x="473.41" y="397.60" width="5.82" height="5.77" fill="#6c90c8"/>
<rect x="339.50" y="403.32" width="5.82" height="5.77" fill="#cc6650"/>
<rect x="345.27" y="403.32" width="5.82" height="5.77" fill="#6d1220"/>
<rect x="351.04" y="403.32" width="5.82" height="5.77" fill="#eda982"/>
<rect x="356.81" y="403.32" width="5.82" height="5.77" fill="#6d1220"/>
<rect x="362.58" y="403.32" width="5.82" height="5.77" fill="#ab2a32"/>
<rect x="368.35" y="403.32" width="5.82" height="5.77" fill="#6d1220"/>
<rect x="374.12" y="403.32" width="5.82" height="5.77" fill="#cc6650"/>
<rect x="379.89" y="403.32" width="5.82" height="5.77" fill="#eda982"/>
<rect x="385.66" y="403.32" width="5.82" height="5.77" fill="#ab2a32"/>
<rect x="391.43" y="403.32" width="11.59" height="5.77" fill="#eda982"/>
<rect x="402.97" y="403.32" width="5.82" height="5.77" fill="#cc6650"/>
<rect x="409.94" y="403.32" width="5.82" height="5.77" fill="#cc6650"/>
<rect x="415.71" y="403.32" width="5.82" height="5.77" fill="#6d1220"/>
<rect x="421.48" y="403.32" width="5.82" height="5.77" fill="#cc6650"/>
<rect x="427.25" y="403.32" width="5.82" height="5.77" fill="#ab2a32"/>
<rect x="433.02" y="403.32" width="5.82" height="5.77" fill="#6d1220"/>
<rect x="438.79" y="403.32" width="5.82" height="5.77" fill="#ab2a32"/>
<rect x="444.56" y="403.32" width="11.59" height="5.77" fill="#eda982"/>
<rect x="456.10" y="403.32" width="17.36" height="5.77" fill="#cc6650"/>
<rect x="473.41" y="403.32" width="5.82" height="5.77" fill="#eda982"/>
<rect x="339.50" y="409.05" width="5.82" height="5.77" fill="#3f5ca6"/>
<rect x="345.27" y="409.05" width="5.82" height="5.77" fill="#6c90c8"/>
<rect x="351.04" y="409.05" width="11.59" height="5.77" fill="#a6c3e2"/>
<rect x="362.58" y="409.05" width="11.59" height="5.77" fill="#6c90c8"/>
<rect x="374.12" y="409.05" width="5.82" height="5.77" fill="#3f5ca6"/>
<rect x="379.89" y="409.05" width="11.59" height="5.77" fill="#6c90c8"/>
<rect x="391.43" y="409.05" width="5.82" height="5.77" fill="#f8f8f8"/>
<rect x="397.20" y="409.05" width="11.59" height="5.77" fill="#3f5ca6"/>
<rect x="409.94" y="409.05" width="5.82" height="5.77" fill="#a6c3e2"/>
<rect x="415.71" y="409.05" width="5.82" height="5.77" fill="#d6e3f1"/>
<rect x="421.48" y="409.05" width="5.82" height="5.77" fill="#a6c3e2"/>
<rect x="427.25" y="409.05" width="11.59" height="5.77" fill="#6c90c8"/>
<rect x="438.79" y="409.05" width="5.82" height="5.77" fill="#3f5ca6"/>
<rect x="444.56" y="409.05" width="5.82" height="5.77" fill="#6c90c8"/>
<rect x="450.33" y="409.05" width="5.82" height="5.77" fill="#3f5ca6"/>
<rect x="456.10" y="409.05" width="11.59" height="5.77" fill="#a6c3e2"/>
<rect x="467.64" y="409.05" width="5.82" height="5.77" fill="#6c90c8"/>
<rect x="473.41" y="409.05" width="5.82" height="5.77" fill="#3f5ca6"/>
<rect x="339.50" y="414.77" width="34.67" height="5.77" fill="#26326f"/>
<rect x="374.12" y="414.77" width="5.82" height="5.77" fill="#3f5ca6"/>
<rect x="379.89" y="414.77" width="17.36" height="5.77" fill="#26326f"/>
<rect x="397.20" y="414.77" width="11.59" height="5.77" fill="#3f5ca6"/>
<rect x="409.94" y="414.77" width="5.82" height="5.77" fill="#26326f"/>
<rect x="415.71" y="414.77" width="5.82" height="5.77" fill="#3f5ca6"/>
<rect x="421.48" y="414.77" width="28.90" height="5.77" fill="#26326f"/>
<rect x="450.33" y="414.77" width="5.82" height="5.77" fill="#3f5ca6"/>
<rect x="456.10" y="414.77" width="5.82" height="5.77" fill="#26326f"/>
<rect x="461.87" y="414.77" width="5.82" height="5.77" fill="#3f5ca6"/>
<rect x="467.64" y="414.77" width="11.59" height="5.77" fill="#26326f"/>
<rect x="339.50" y="420.50" width="5.82" height="5.77" fill="#eda982"/>
<rect x="345.27" y="420.50" width="5.82" height="5.77" fill="#cc6650"/>
<rect x="351.04" y="420.50" width="5.82" height="5.77" fill="#d6e3f1"/>
<rect x="356.81" y="420.50" width="5.82" height="5.77" fill="#f9dcc6"/>
<rect x="362.58" y="420.50" width="11.59" height="5.77" fill="#eda982"/>
<rect x="374.12" y="420.50" width="5.82" height="5.77" fill="#f8f8f8"/>
<rect x="379.89" y="420.50" width="11.59" height="5.77" fill="#eda982"/>
<rect x="391.43" y="420.50" width="5.82" height="5.77" fill="#f9dcc6"/>
<rect x="397.20" y="420.50" width="5.82" height="5.77" fill="#a6c3e2"/>
<rect x="402.97" y="420.50" width="5.82" height="5.77" fill="#f9dcc6"/>
<rect x="409.94" y="420.50" width="5.82" height="5.77" fill="#eda982"/>
<rect x="415.71" y="420.50" width="5.82" height="5.77" fill="#cc6650"/>
<rect x="421.48" y="420.50" width="5.82" height="5.77" fill="#f9dcc6"/>
<rect x="427.25" y="420.50" width="11.59" height="5.77" fill="#eda982"/>
<rect x="438.79" y="420.50" width="5.82" height="5.77" fill="#ab2a32"/>
<rect x="444.56" y="420.50" width="5.82" height="5.77" fill="#f9dcc6"/>
<rect x="450.33" y="420.50" width="11.59" height="5.77" fill="#cc6650"/>
<rect x="461.87" y="420.50" width="5.82" height="5.77" fill="#eda982"/>
<rect x="467.64" y="420.50" width="5.82" height="5.77" fill="#d6e3f1"/>
<rect x="473.41" y="420.50" width="5.82" height="5.77" fill="#eda982"/>
<rect x="339.50" y="426.23" width="5.82" height="5.77" fill="#eda982"/>
<rect x="345.27" y="426.23" width="5.82" height="5.77" fill="#cc6650"/>
<rect x="351.04" y="426.23" width="5.82" height="5.77" fill="#d6e3f1"/>
<rect x="356.81" y="426.23" width="5.82" height="5.77" fill="#f9dcc6"/>
<rect x="362.58" y="426.23" width="11.59" height="5.77" fill="#eda982"/>
<rect x="374.12" y="426.23" width="5.82" height="5.77" fill="#f8f8f8"/>
<rect x="379.89" y="426.23" width="11.59" height="5.77" fill="#eda982"/>
<rect x="391.43" y="426.23" width="5.82" height="5.77" fill="#f9dcc6"/>
<rect x="397.20" y="426.23" width="5.82" height="5.77" fill="#a6c3e2"/>
<rect x="402.97" y="426.23" width="5.82" height="5.77" fill="#f9dcc6"/>
<rect x="409.94" y="426.23" width="5.82" height="5.77" fill="#eda982"/>
<rect x="415.71" y="426.23" width="5.82" height="5.77" fill="#cc6650"/>
<rect x="421.48" y="426.23" width="5.82" height="5.77" fill="#f9dcc6"/>
<rect x="427.25" y="426.23" width="11.59" height="5.77" fill="#eda982"/>
<rect x="438.79" y="426.23" width="5.82" height="5.77" fill="#ab2a32"/>
<rect x="444.56" y="426.23" width="5.82" height="5.77" fill="#f9dcc6"/>
<rect x="450.33" y="426.23" width="11.59" height="5.77" fill="#cc6650"/>
<rect x="461.87" y="426.23" width="5.82" height="5.77" fill="#eda982"/>
<rect x="467.64" y="426.23" width="5.82" height="5.77" fill="#d6e3f1"/>
<rect x="473.41" y="426.23" width="5.82" height="5.77" fill="#eda982"/>
</g>
<text transform="translate(336.5 356.76) scale(1.08 1)" font-size="5.9" text-anchor="end" fill="#000" stroke="#000" stroke-width="0.22">CD274</text>
<text transform="translate(336.5 362.49) scale(1.08 1)" font-size="5.9" text-anchor="end" fill="#000" stroke="#000" stroke-width="0.22">PDCD1LG2</text>
<text transform="translate(336.5 368.21) scale(1.08 1)" font-size="5.9" text-anchor="end" fill="#000" stroke="#000" stroke-width="0.22">LGALS9</text>
<text transform="translate(336.5 373.94) scale(1.08 1)" font-size="5.9" text-anchor="end" fill="#000" stroke="#000" stroke-width="0.22">PTPN6</text>
<text transform="translate(336.5 379.66) scale(1.08 1)" font-size="5.9" text-anchor="end" fill="#000" stroke="#000" stroke-width="0.22">PTPN11</text>
<text transform="translate(336.5 385.39) scale(1.08 1)" font-size="5.9" text-anchor="end" fill="#000" stroke="#000" stroke-width="0.22">CD80</text>
<text transform="translate(336.5 391.11) scale(1.08 1)" font-size="5.9" text-anchor="end" fill="#000" stroke="#000" stroke-width="0.22">CD86</text>
<text transform="translate(336.5 396.84) scale(1.08 1)" font-size="5.9" text-anchor="end" fill="#000" stroke="#000" stroke-width="0.22">PVR</text>
<text transform="translate(336.5 402.56) scale(1.08 1)" font-size="5.9" text-anchor="end" fill="#000" stroke="#000" stroke-width="0.22">NECTIN1</text>
<text transform="translate(336.5 408.29) scale(1.08 1)" font-size="5.9" text-anchor="end" fill="#000" stroke="#000" stroke-width="0.22">NECTIN2</text>
<text transform="translate(336.5 414.01) scale(1.08 1)" font-size="5.9" text-anchor="end" fill="#000" stroke="#000" stroke-width="0.22">NECTIN3</text>
<text transform="translate(336.5 419.74) scale(1.08 1)" font-size="5.9" text-anchor="end" fill="#000" stroke="#000" stroke-width="0.22">NECTIN4</text>
<text transform="translate(336.5 425.46) scale(1.08 1)" font-size="5.9" text-anchor="end" fill="#000" stroke="#000" stroke-width="0.22">TNFRSF14</text>
<text transform="translate(336.5 431.19) scale(1.08 1)" font-size="5.9" text-anchor="end" fill="#000" stroke="#000" stroke-width="0.22">TNFRSF14</text>
<path d="M296.70 358.34h3.60l-1.80 4.10z" fill="#6b7cc2"/>
<path d="M296.70 385.34l1.80-4.10 1.80 4.10z" fill="#9a2327"/>
<path d="M339.5 434.6H408.7" stroke="#d27a84" stroke-width="1.35"/>
<path d="M409.9 434.6H479.2" stroke="#6c8798" stroke-width="1.35"/>
<text x="379.9" y="442.9" font-size="6.3" text-anchor="middle" fill="#111">Before</text>
<text x="446.7" y="442.9" font-size="6.3" text-anchor="middle" fill="#111">After</text>
<g class="hm">
<rect x="339.30" y="457.30" width="17.18" height="5.80" fill="#26326f"/>
<rect x="356.43" y="457.30" width="11.47" height="5.80" fill="#6c90c8"/>
<rect x="367.85" y="457.30" width="11.47" height="5.80" fill="#3f5ca6"/>
<rect x="380.87" y="457.30" width="5.76" height="5.80" fill="#6c90c8"/>
<rect x="386.58" y="457.30" width="11.47" height="5.80" fill="#3f5ca6"/>
<rect x="398.00" y="457.30" width="5.76" height="5.80" fill="#d6e3f1"/>
<rect x="403.71" y="457.30" width="5.76" height="5.80" fill="#a6c3e2"/>
<rect x="409.42" y="457.30" width="5.76" height="5.80" fill="#6c90c8"/>
<rect x="415.13" y="457.30" width="5.76" height="5.80" fill="#f8f8f8"/>
<rect x="339.30" y="463.06" width="5.76" height="5.80" fill="#3f5ca6"/>
<rect x="345.01" y="463.06" width="5.76" height="5.80" fill="#26326f"/>
<rect x="350.72" y="463.06" width="5.76" height="5.80" fill="#3f5ca6"/>
<rect x="356.43" y="463.06" width="11.47" height="5.80" fill="#a6c3e2"/>
<rect x="367.85" y="463.06" width="5.76" height="5.80" fill="#3f5ca6"/>
<rect x="373.56" y="463.06" width="5.76" height="5.80" fill="#6c90c8"/>
<rect x="380.87" y="463.06" width="5.76" height="5.80" fill="#6c90c8"/>
<rect x="386.58" y="463.06" width="5.76" height="5.80" fill="#26326f"/>
<rect x="392.29" y="463.06" width="5.76" height="5.80" fill="#3f5ca6"/>
<rect x="398.00" y="463.06" width="5.76" height="5.80" fill="#f8f8f8"/>
<rect x="403.71" y="463.06" width="5.76" height="5.80" fill="#d6e3f1"/>
<rect x="409.42" y="463.06" width="5.76" height="5.80" fill="#6c90c8"/>
<rect x="415.13" y="463.06" width="5.76" height="5.80" fill="#f9dcc6"/>
<rect x="339.30" y="468.81" width="5.76" height="5.80" fill="#f8f8f8"/>
<rect x="345.01" y="468.81" width="5.76" height="5.80" fill="#6c90c8"/>
<rect x="350.72" y="468.81" width="5.76" height="5.80" fill="#d6e3f1"/>
<rect x="356.43" y="468.81" width="5.76" height="5.80" fill="#f9dcc6"/>
<rect x="362.14" y="468.81" width="5.76" height="5.80" fill="#f8f8f8"/>
<rect x="367.85" y="468.81" width="5.76" height="5.80" fill="#a6c3e2"/>
<rect x="373.56" y="468.81" width="5.76" height="5.80" fill="#d6e3f1"/>
<rect x="380.87" y="468.81" width="5.76" height="5.80" fill="#d6e3f1"/>
<rect x="386.58" y="468.81" width="5.76" height="5.80" fill="#6c90c8"/>
<rect x="392.29" y="468.81" width="5.76" height="5.80" fill="#f8f8f8"/>
<rect x="398.00" y="468.81" width="5.76" height="5.80" fill="#cc6650"/>
<rect x="403.71" y="468.81" width="5.76" height="5.80" fill="#eda982"/>
<rect x="409.42" y="468.81" width="5.76" height="5.80" fill="#f9dcc6"/>
<rect x="415.13" y="468.81" width="5.76" height="5.80" fill="#ab2a32"/>
<rect x="339.30" y="474.56" width="5.76" height="5.80" fill="#f8f8f8"/>
<rect x="345.01" y="474.56" width="5.76" height="5.80" fill="#d6e3f1"/>
<rect x="350.72" y="474.56" width="17.18" height="5.80" fill="#f9dcc6"/>
<rect x="367.85" y="474.56" width="11.47" height="5.80" fill="#f8f8f8"/>
<rect x="380.87" y="474.56" width="5.76" height="5.80" fill="#eda982"/>
<rect x="386.58" y="474.56" width="5.76" height="5.80" fill="#d6e3f1"/>
<rect x="392.29" y="474.56" width="5.76" height="5.80" fill="#f8f8f8"/>
<rect x="398.00" y="474.56" width="5.76" height="5.80" fill="#cc6650"/>
<rect x="403.71" y="474.56" width="5.76" height="5.80" fill="#eda982"/>
<rect x="409.42" y="474.56" width="5.76" height="5.80" fill="#f9dcc6"/>
<rect x="415.13" y="474.56" width="5.76" height="5.80" fill="#ab2a32"/>
<rect x="339.30" y="480.32" width="5.76" height="5.80" fill="#f8f8f8"/>
<rect x="345.01" y="480.32" width="17.18" height="5.80" fill="#f9dcc6"/>
<rect x="362.14" y="480.32" width="11.47" height="5.80" fill="#f8f8f8"/>
<rect x="373.56" y="480.32" width="5.76" height="5.80" fill="#f9dcc6"/>
<rect x="380.87" y="480.32" width="5.76" height="5.80" fill="#f8f8f8"/>
<rect x="386.58" y="480.32" width="5.76" height="5.80" fill="#f9dcc6"/>
<rect x="392.29" y="480.32" width="5.76" height="5.80" fill="#eda982"/>
<rect x="398.00" y="480.32" width="11.47" height="5.80" fill="#f8f8f8"/>
<rect x="409.42" y="480.32" width="5.76" height="5.80" fill="#d6e3f1"/>
<rect x="415.13" y="480.32" width="5.76" height="5.80" fill="#f8f8f8"/>
<rect x="339.30" y="486.07" width="17.18" height="5.80" fill="#26326f"/>
<rect x="356.43" y="486.07" width="11.47" height="5.80" fill="#3f5ca6"/>
<rect x="367.85" y="486.07" width="11.47" height="5.80" fill="#26326f"/>
<rect x="380.87" y="486.07" width="5.76" height="5.80" fill="#3f5ca6"/>
<rect x="386.58" y="486.07" width="11.47" height="5.80" fill="#26326f"/>
<rect x="398.00" y="486.07" width="5.76" height="5.80" fill="#a6c3e2"/>
<rect x="403.71" y="486.07" width="5.76" height="5.80" fill="#6c90c8"/>
<rect x="409.42" y="486.07" width="5.76" height="5.80" fill="#3f5ca6"/>
<rect x="415.13" y="486.07" width="5.76" height="5.80" fill="#d6e3f1"/>
<rect x="339.30" y="491.83" width="5.76" height="5.80" fill="#a6c3e2"/>
<rect x="345.01" y="491.83" width="5.76" height="5.80" fill="#3f5ca6"/>
<rect x="350.72" y="491.83" width="5.76" height="5.80" fill="#d6e3f1"/>
<rect x="356.43" y="491.83" width="5.76" height="5.80" fill="#f8f8f8"/>
<rect x="362.14" y="491.83" width="5.76" height="5.80" fill="#d6e3f1"/>
<rect x="367.85" y="491.83" width="5.76" height="5.80" fill="#6c90c8"/>
<rect x="373.56" y="491.83" width="5.76" height="5.80" fill="#a6c3e2"/>
<rect x="380.87" y="491.83" width="5.76" height="5.80" fill="#a6c3e2"/>
<rect x="386.58" y="491.83" width="5.76" height="5.80" fill="#6c90c8"/>
<rect x="392.29" y="491.83" width="5.76" height="5.80" fill="#a6c3e2"/>
<rect x="398.00" y="491.83" width="5.76" height="5.80" fill="#cc6650"/>
<rect x="403.71" y="491.83" width="5.76" height="5.80" fill="#f9dcc6"/>
<rect x="409.42" y="491.83" width="5.76" height="5.80" fill="#f8f8f8"/>
<rect x="415.13" y="491.83" width="5.76" height="5.80" fill="#ab2a32"/>
<rect x="339.30" y="497.59" width="5.76" height="5.80" fill="#f9dcc6"/>
<rect x="345.01" y="497.59" width="17.18" height="5.80" fill="#f8f8f8"/>
<rect x="362.14" y="497.59" width="5.76" height="5.80" fill="#eda982"/>
<rect x="367.85" y="497.59" width="11.47" height="5.80" fill="#f8f8f8"/>
<rect x="380.87" y="497.59" width="5.76" height="5.80" fill="#cc6650"/>
<rect x="386.58" y="497.59" width="5.76" height="5.80" fill="#f9dcc6"/>
<rect x="392.29" y="497.59" width="5.76" height="5.80" fill="#eda982"/>
<rect x="398.00" y="497.59" width="5.76" height="5.80" fill="#f8f8f8"/>
<rect x="403.71" y="497.59" width="5.76" height="5.80" fill="#a6c3e2"/>
<rect x="409.42" y="497.59" width="11.47" height="5.80" fill="#d6e3f1"/>
<rect x="339.30" y="503.34" width="11.47" height="5.80" fill="#6c90c8"/>
<rect x="350.72" y="503.34" width="5.76" height="5.80" fill="#3f5ca6"/>
<rect x="356.43" y="503.34" width="5.76" height="5.80" fill="#6c90c8"/>
<rect x="362.14" y="503.34" width="5.76" height="5.80" fill="#a6c3e2"/>
<rect x="367.85" y="503.34" width="11.47" height="5.80" fill="#6c90c8"/>
<rect x="380.87" y="503.34" width="5.76" height="5.80" fill="#f8f8f8"/>
<rect x="386.58" y="503.34" width="5.76" height="5.80" fill="#3f5ca6"/>
<rect x="392.29" y="503.34" width="11.47" height="5.80" fill="#a6c3e2"/>
<rect x="403.71" y="503.34" width="11.47" height="5.80" fill="#3f5ca6"/>
<rect x="415.13" y="503.34" width="5.76" height="5.80" fill="#6c90c8"/>
<rect x="339.30" y="509.10" width="5.76" height="5.80" fill="#ab2a32"/>
<rect x="345.01" y="509.10" width="5.76" height="5.80" fill="#cc6650"/>
<rect x="350.72" y="509.10" width="5.76" height="5.80" fill="#f9dcc6"/>
<rect x="356.43" y="509.10" width="22.89" height="5.80" fill="#cc6650"/>
<rect x="380.87" y="509.10" width="5.76" height="5.80" fill="#6d1220"/>
<rect x="386.58" y="509.10" width="5.76" height="5.80" fill="#f9dcc6"/>
<rect x="392.29" y="509.10" width="5.76" height="5.80" fill="#eda982"/>
<rect x="398.00" y="509.10" width="5.76" height="5.80" fill="#cc6650"/>
<rect x="403.71" y="509.10" width="5.76" height="5.80" fill="#f9dcc6"/>
<rect x="409.42" y="509.10" width="5.76" height="5.80" fill="#eda982"/>
<rect x="415.13" y="509.10" width="5.76" height="5.80" fill="#ab2a32"/>
<rect x="339.30" y="514.85" width="5.76" height="5.80" fill="#3f5ca6"/>
<rect x="345.01" y="514.85" width="5.76" height="5.80" fill="#a6c3e2"/>
<rect x="350.72" y="514.85" width="11.47" height="5.80" fill="#6c90c8"/>
<rect x="362.14" y="514.85" width="5.76" height="5.80" fill="#a6c3e2"/>
<rect x="367.85" y="514.85" width="5.76" height="5.80" fill="#6c90c8"/>
<rect x="373.56" y="514.85" width="5.76" height="5.80" fill="#a6c3e2"/>
<rect x="380.87" y="514.85" width="5.76" height="5.80" fill="#6c90c8"/>
<rect x="386.58" y="514.85" width="11.47" height="5.80" fill="#a6c3e2"/>
<rect x="398.00" y="514.85" width="5.76" height="5.80" fill="#3f5ca6"/>
<rect x="403.71" y="514.85" width="5.76" height="5.80" fill="#26326f"/>
<rect x="409.42" y="514.85" width="5.76" height="5.80" fill="#3f5ca6"/>
<rect x="415.13" y="514.85" width="5.76" height="5.80" fill="#6c90c8"/>
<rect x="339.30" y="520.61" width="17.18" height="5.80" fill="#26326f"/>
<rect x="356.43" y="520.61" width="5.76" height="5.80" fill="#3f5ca6"/>
<rect x="362.14" y="520.61" width="17.18" height="5.80" fill="#26326f"/>
<rect x="380.87" y="520.61" width="17.18" height="5.80" fill="#26326f"/>
<rect x="398.00" y="520.61" width="5.76" height="5.80" fill="#6c90c8"/>
<rect x="403.71" y="520.61" width="11.47" height="5.80" fill="#26326f"/>
<rect x="415.13" y="520.61" width="5.76" height="5.80" fill="#a6c3e2"/>
<rect x="339.30" y="526.36" width="5.76" height="5.80" fill="#eda982"/>
<rect x="345.01" y="526.36" width="5.76" height="5.80" fill="#f8f8f8"/>
<rect x="350.72" y="526.36" width="5.76" height="5.80" fill="#d6e3f1"/>
<rect x="356.43" y="526.36" width="11.47" height="5.80" fill="#eda982"/>
<rect x="367.85" y="526.36" width="5.76" height="5.80" fill="#f8f8f8"/>
<rect x="373.56" y="526.36" width="5.76" height="5.80" fill="#f9dcc6"/>
<rect x="380.87" y="526.36" width="5.76" height="5.80" fill="#eda982"/>
<rect x="386.58" y="526.36" width="5.76" height="5.80" fill="#f8f8f8"/>
<rect x="392.29" y="526.36" width="5.76" height="5.80" fill="#f9dcc6"/>
<rect x="398.00" y="526.36" width="5.76" height="5.80" fill="#ab2a32"/>
<rect x="403.71" y="526.36" width="5.76" height="5.80" fill="#cc6650"/>
<rect x="409.42" y="526.36" width="5.76" height="5.80" fill="#eda982"/>
<rect x="415.13" y="526.36" width="5.76" height="5.80" fill="#ab2a32"/>
<rect x="339.30" y="532.12" width="5.76" height="5.80" fill="#eda982"/>
<rect x="345.01" y="532.12" width="5.76" height="5.80" fill="#f8f8f8"/>
<rect x="350.72" y="532.12" width="5.76" height="5.80" fill="#d6e3f1"/>
<rect x="356.43" y="532.12" width="11.47" height="5.80" fill="#eda982"/>
<rect x="367.85" y="532.12" width="5.76" height="5.80" fill="#f8f8f8"/>
<rect x="373.56" y="532.12" width="5.76" height="5.80" fill="#f9dcc6"/>
<rect x="380.87" y="532.12" width="5.76" height="5.80" fill="#eda982"/>
<rect x="386.58" y="532.12" width="5.76" height="5.80" fill="#f8f8f8"/>
<rect x="392.29" y="532.12" width="5.76" height="5.80" fill="#f9dcc6"/>
<rect x="398.00" y="532.12" width="5.76" height="5.80" fill="#ab2a32"/>
<rect x="403.71" y="532.12" width="5.76" height="5.80" fill="#cc6650"/>
<rect x="409.42" y="532.12" width="5.76" height="5.80" fill="#eda982"/>
<rect x="415.13" y="532.12" width="5.76" height="5.80" fill="#ab2a32"/>
</g>
<text transform="translate(336.3 462.28) scale(1.08 1)" font-size="5.9" text-anchor="end" fill="#000" stroke="#000" stroke-width="0.22">CD274</text>
<text transform="translate(336.3 468.03) scale(1.08 1)" font-size="5.9" text-anchor="end" fill="#000" stroke="#000" stroke-width="0.22">PDCD1LG2</text>
<text transform="translate(336.3 473.79) scale(1.08 1)" font-size="5.9" text-anchor="end" fill="#000" stroke="#000" stroke-width="0.22">LGALS9</text>
<text transform="translate(336.3 479.54) scale(1.08 1)" font-size="5.9" text-anchor="end" fill="#000" stroke="#000" stroke-width="0.22">PTPN6</text>
<text transform="translate(336.3 485.30) scale(1.08 1)" font-size="5.9" text-anchor="end" fill="#000" stroke="#000" stroke-width="0.22">PTPN11</text>
<text transform="translate(336.3 491.05) scale(1.08 1)" font-size="5.9" text-anchor="end" fill="#000" stroke="#000" stroke-width="0.22">CD80</text>
<text transform="translate(336.3 496.81) scale(1.08 1)" font-size="5.9" text-anchor="end" fill="#000" stroke="#000" stroke-width="0.22">CD86</text>
<text transform="translate(336.3 502.56) scale(1.08 1)" font-size="5.9" text-anchor="end" fill="#000" stroke="#000" stroke-width="0.22">PVR</text>
<text transform="translate(336.3 508.32) scale(1.08 1)" font-size="5.9" text-anchor="end" fill="#000" stroke="#000" stroke-width="0.22">NECTIN1</text>
<text transform="translate(336.3 514.07) scale(1.08 1)" font-size="5.9" text-anchor="end" fill="#000" stroke="#000" stroke-width="0.22">NECTIN2</text>
<text transform="translate(336.3 519.83) scale(1.08 1)" font-size="5.9" text-anchor="end" fill="#000" stroke="#000" stroke-width="0.22">NECTIN3</text>
<text transform="translate(336.3 525.58) scale(1.08 1)" font-size="5.9" text-anchor="end" fill="#000" stroke="#000" stroke-width="0.22">NECTIN4</text>
<text transform="translate(336.3 531.34) scale(1.08 1)" font-size="5.9" text-anchor="end" fill="#000" stroke="#000" stroke-width="0.22">TNFRSF14</text>
<text transform="translate(336.3 537.09) scale(1.08 1)" font-size="5.9" text-anchor="end" fill="#000" stroke="#000" stroke-width="0.22">TNFRSF14</text>
<path d="M296.70 462.23l1.80-4.10 1.80 4.10z" fill="#9a2327"/>
<path d="M296.70 467.98l1.80-4.10 1.80 4.10z" fill="#9a2327"/>
<path d="M296.70 473.74l1.80-4.10 1.80 4.10z" fill="#9a2327"/>
<path d="M296.70 479.49l1.80-4.10 1.80 4.10z" fill="#9a2327"/>
<path d="M296.70 491.00l1.80-4.10 1.80 4.10z" fill="#9a2327"/>
<path d="M296.70 496.76l1.80-4.10 1.80 4.10z" fill="#9a2327"/>
<path d="M296.70 525.53l1.80-4.10 1.80 4.10z" fill="#9a2327"/>
<path d="M296.70 531.29l1.80-4.10 1.80 4.10z" fill="#9a2327"/>
<path d="M296.70 537.04l1.80-4.10 1.80 4.10z" fill="#9a2327"/>
<path d="M339.3 540.8H379.3" stroke="#d27a84" stroke-width="1.35"/>
<path d="M380.9 540.8H420.8" stroke="#6c8798" stroke-width="1.35"/>
<text x="360.0" y="548.1" font-size="6.3" text-anchor="middle" fill="#111">Before</text>
<text x="399.1" y="548.1" font-size="6.3" text-anchor="middle" fill="#111">After</text>
<g class="hm">
<rect x="84.20" y="604.20" width="11.61" height="5.83" fill="#3f5ca6"/>
<rect x="95.76" y="604.20" width="5.83" height="5.83" fill="#26326f"/>
<rect x="101.54" y="604.20" width="5.83" height="5.83" fill="#6c90c8"/>
<rect x="107.32" y="604.20" width="5.83" height="5.83" fill="#3f5ca6"/>
<rect x="113.10" y="604.20" width="11.61" height="5.83" fill="#26326f"/>
<rect x="124.66" y="604.20" width="5.83" height="5.83" fill="#6c90c8"/>
<rect x="130.44" y="604.20" width="11.61" height="5.83" fill="#26326f"/>
<rect x="142.00" y="604.20" width="5.83" height="5.83" fill="#6c90c8"/>
<rect x="147.78" y="604.20" width="5.83" height="5.83" fill="#26326f"/>
<rect x="154.76" y="604.20" width="11.61" height="5.83" fill="#3f5ca6"/>
<rect x="166.32" y="604.20" width="5.83" height="5.83" fill="#26326f"/>
<rect x="172.10" y="604.20" width="5.83" height="5.83" fill="#6c90c8"/>
<rect x="177.88" y="604.20" width="5.83" height="5.83" fill="#26326f"/>
<rect x="183.66" y="604.20" width="5.83" height="5.83" fill="#d6e3f1"/>
<rect x="189.44" y="604.20" width="5.83" height="5.83" fill="#26326f"/>
<rect x="195.22" y="604.20" width="5.83" height="5.83" fill="#3f5ca6"/>
<rect x="201.00" y="604.20" width="23.17" height="5.83" fill="#26326f"/>
<rect x="84.20" y="609.98" width="5.83" height="5.83" fill="#6c90c8"/>
<rect x="89.98" y="609.98" width="5.83" height="5.83" fill="#d6e3f1"/>
<rect x="95.76" y="609.98" width="5.83" height="5.83" fill="#26326f"/>
<rect x="101.54" y="609.98" width="5.83" height="5.83" fill="#f8f8f8"/>
<rect x="107.32" y="609.98" width="5.83" height="5.83" fill="#d6e3f1"/>
<rect x="113.10" y="609.98" width="5.83" height="5.83" fill="#a6c3e2"/>
<rect x="118.88" y="609.98" width="5.83" height="5.83" fill="#3f5ca6"/>
<rect x="124.66" y="609.98" width="5.83" height="5.83" fill="#a6c3e2"/>
<rect x="130.44" y="609.98" width="5.83" height="5.83" fill="#f8f8f8"/>
<rect x="136.22" y="609.98" width="5.83" height="5.83" fill="#a6c3e2"/>
<rect x="142.00" y="609.98" width="5.83" height="5.83" fill="#f8f8f8"/>
<rect x="147.78" y="609.98" width="5.83" height="5.83" fill="#3f5ca6"/>
<rect x="154.76" y="609.98" width="5.83" height="5.83" fill="#d6e3f1"/>
<rect x="160.54" y="609.98" width="5.83" height="5.83" fill="#a6c3e2"/>
<rect x="166.32" y="609.98" width="5.83" height="5.83" fill="#6c90c8"/>
<rect x="172.10" y="609.98" width="5.83" height="5.83" fill="#f8f8f8"/>
<rect x="177.88" y="609.98" width="5.83" height="5.83" fill="#3f5ca6"/>
<rect x="183.66" y="609.98" width="5.83" height="5.83" fill="#eda982"/>
<rect x="189.44" y="609.98" width="5.83" height="5.83" fill="#3f5ca6"/>
<rect x="195.22" y="609.98" width="5.83" height="5.83" fill="#d6e3f1"/>
<rect x="201.00" y="609.98" width="5.83" height="5.83" fill="#f9dcc6"/>
<rect x="206.78" y="609.98" width="5.83" height="5.83" fill="#a6c3e2"/>
<rect x="212.56" y="609.98" width="5.83" height="5.83" fill="#3f5ca6"/>
<rect x="218.34" y="609.98" width="5.83" height="5.83" fill="#6c90c8"/>
<rect x="84.20" y="615.75" width="69.41" height="5.83" fill="#26326f"/>
<rect x="154.76" y="615.75" width="5.83" height="5.83" fill="#26326f"/>
<rect x="160.54" y="615.75" width="5.83" height="5.83" fill="#3f5ca6"/>
<rect x="166.32" y="615.75" width="17.39" height="5.83" fill="#26326f"/>
<rect x="183.66" y="615.75" width="5.83" height="5.83" fill="#3f5ca6"/>
<rect x="189.44" y="615.75" width="5.83" height="5.83" fill="#26326f"/>
<rect x="195.22" y="615.75" width="11.61" height="5.83" fill="#3f5ca6"/>
<rect x="206.78" y="615.75" width="17.39" height="5.83" fill="#26326f"/>
<rect x="84.20" y="621.53" width="40.51" height="5.83" fill="#26326f"/>
<rect x="124.66" y="621.53" width="5.83" height="5.83" fill="#3f5ca6"/>
<rect x="130.44" y="621.53" width="23.17" height="5.83" fill="#26326f"/>
<rect x="154.76" y="621.53" width="5.83" height="5.83" fill="#26326f"/>
<rect x="160.54" y="621.53" width="5.83" height="5.83" fill="#3f5ca6"/>
<rect x="166.32" y="621.53" width="5.83" height="5.83" fill="#26326f"/>
<rect x="172.10" y="621.53" width="5.83" height="5.83" fill="#3f5ca6"/>
<rect x="177.88" y="621.53" width="5.83" height="5.83" fill="#26326f"/>
<rect x="183.66" y="621.53" width="5.83" height="5.83" fill="#a6c3e2"/>
<rect x="189.44" y="621.53" width="5.83" height="5.83" fill="#26326f"/>
<rect x="195.22" y="621.53" width="5.83" height="5.83" fill="#6c90c8"/>
<rect x="201.00" y="621.53" width="23.17" height="5.83" fill="#26326f"/>
<rect x="84.20" y="627.30" width="5.83" height="5.83" fill="#3f5ca6"/>
<rect x="89.98" y="627.30" width="5.83" height="5.83" fill="#a6c3e2"/>
<rect x="95.76" y="627.30" width="5.83" height="5.83" fill="#26326f"/>
<rect x="101.54" y="627.30" width="5.83" height="5.83" fill="#d6e3f1"/>
<rect x="107.32" y="627.30" width="5.83" height="5.83" fill="#6c90c8"/>
<rect x="113.10" y="627.30" width="5.83" height="5.83" fill="#3f5ca6"/>
<rect x="118.88" y="627.30" width="5.83" height="5.83" fill="#26326f"/>
<rect x="124.66" y="627.30" width="5.83" height="5.83" fill="#a6c3e2"/>
<rect x="130.44" y="627.30" width="17.39" height="5.83" fill="#6c90c8"/>
<rect x="147.78" y="627.30" width="5.83" height="5.83" fill="#26326f"/>
<rect x="154.76" y="627.30" width="5.83" height="5.83" fill="#6c90c8"/>
<rect x="160.54" y="627.30" width="5.83" height="5.83" fill="#a6c3e2"/>
<rect x="166.32" y="627.30" width="5.83" height="5.83" fill="#26326f"/>
<rect x="172.10" y="627.30" width="5.83" height="5.83" fill="#f8f8f8"/>
<rect x="177.88" y="627.30" width="5.83" height="5.83" fill="#3f5ca6"/>
<rect x="183.66" y="627.30" width="5.83" height="5.83" fill="#f9dcc6"/>
<rect x="189.44" y="627.30" width="5.83" height="5.83" fill="#26326f"/>
<rect x="195.22" y="627.30" width="5.83" height="5.83" fill="#f8f8f8"/>
<rect x="201.00" y="627.30" width="11.61" height="5.83" fill="#3f5ca6"/>
<rect x="212.56" y="627.30" width="11.61" height="5.83" fill="#26326f"/>
<rect x="84.20" y="633.08" width="5.83" height="5.83" fill="#6c90c8"/>
<rect x="89.98" y="633.08" width="5.83" height="5.83" fill="#3f5ca6"/>
<rect x="95.76" y="633.08" width="5.83" height="5.83" fill="#26326f"/>
<rect x="101.54" y="633.08" width="5.83" height="5.83" fill="#6c90c8"/>
<rect x="107.32" y="633.08" width="5.83" height="5.83" fill="#a6c3e2"/>
<rect x="113.10" y="633.08" width="5.83" height="5.83" fill="#3f5ca6"/>
<rect x="118.88" y="633.08" width="5.83" height="5.83" fill="#26326f"/>
<rect x="124.66" y="633.08" width="17.39" height="5.83" fill="#3f5ca6"/>
<rect x="142.00" y="633.08" width="11.61" height="5.83" fill="#26326f"/>
<rect x="154.76" y="633.08" width="17.39" height="5.83" fill="#26326f"/>
<rect x="172.10" y="633.08" width="5.83" height="5.83" fill="#6c90c8"/>
<rect x="177.88" y="633.08" width="5.83" height="5.83" fill="#3f5ca6"/>
<rect x="183.66" y="633.08" width="5.83" height="5.83" fill="#a6c3e2"/>
<rect x="189.44" y="633.08" width="5.83" height="5.83" fill="#26326f"/>
<rect x="195.22" y="633.08" width="5.83" height="5.83" fill="#3f5ca6"/>
<rect x="201.00" y="633.08" width="5.83" height="5.83" fill="#26326f"/>
<rect x="206.78" y="633.08" width="5.83" height="5.83" fill="#3f5ca6"/>
<rect x="212.56" y="633.08" width="5.83" height="5.83" fill="#6c90c8"/>
<rect x="218.34" y="633.08" width="5.83" height="5.83" fill="#26326f"/>
<rect x="84.20" y="638.85" width="5.83" height="5.83" fill="#d6e3f1"/>
<rect x="89.98" y="638.85" width="5.83" height="5.83" fill="#6c90c8"/>
<rect x="95.76" y="638.85" width="5.83" height="5.83" fill="#3f5ca6"/>
<rect x="101.54" y="638.85" width="5.83" height="5.83" fill="#a6c3e2"/>
<rect x="107.32" y="638.85" width="5.83" height="5.83" fill="#f9dcc6"/>
<rect x="113.10" y="638.85" width="11.61" height="5.83" fill="#6c90c8"/>
<rect x="124.66" y="638.85" width="5.83" height="5.83" fill="#f9dcc6"/>
<rect x="130.44" y="638.85" width="11.61" height="5.83" fill="#3f5ca6"/>
<rect x="142.00" y="638.85" width="5.83" height="5.83" fill="#a6c3e2"/>
<rect x="147.78" y="638.85" width="5.83" height="5.83" fill="#3f5ca6"/>
<rect x="154.76" y="638.85" width="5.83" height="5.83" fill="#3f5ca6"/>
<rect x="160.54" y="638.85" width="5.83" height="5.83" fill="#6c90c8"/>
<rect x="166.32" y="638.85" width="5.83" height="5.83" fill="#26326f"/>
<rect x="172.10" y="638.85" width="5.83" height="5.83" fill="#a6c3e2"/>
<rect x="177.88" y="638.85" width="5.83" height="5.83" fill="#3f5ca6"/>
<rect x="183.66" y="638.85" width="5.83" height="5.83" fill="#cc6650"/>
<rect x="189.44" y="638.85" width="5.83" height="5.83" fill="#26326f"/>
<rect x="195.22" y="638.85" width="5.83" height="5.83" fill="#f9dcc6"/>
<rect x="201.00" y="638.85" width="11.61" height="5.83" fill="#3f5ca6"/>
<rect x="212.56" y="638.85" width="11.61" height="5.83" fill="#6c90c8"/>
<rect x="84.20" y="644.62" width="5.83" height="5.83" fill="#3f5ca6"/>
<rect x="89.98" y="644.62" width="5.83" height="5.83" fill="#6c90c8"/>
<rect x="95.76" y="644.62" width="5.83" height="5.83" fill="#26326f"/>
<rect x="101.54" y="644.62" width="11.61" height="5.83" fill="#6c90c8"/>
<rect x="113.10" y="644.62" width="5.83" height="5.83" fill="#3f5ca6"/>
<rect x="118.88" y="644.62" width="5.83" height="5.83" fill="#26326f"/>
<rect x="124.66" y="644.62" width="5.83" height="5.83" fill="#6c90c8"/>
<rect x="130.44" y="644.62" width="11.61" height="5.83" fill="#3f5ca6"/>
<rect x="142.00" y="644.62" width="11.61" height="5.83" fill="#26326f"/>
<rect x="154.76" y="644.62" width="5.83" height="5.83" fill="#3f5ca6"/>
<rect x="160.54" y="644.62" width="5.83" height="5.83" fill="#6c90c8"/>
<rect x="166.32" y="644.62" width="5.83" height="5.83" fill="#26326f"/>
<rect x="172.10" y="644.62" width="5.83" height="5.83" fill="#6c90c8"/>
<rect x="177.88" y="644.62" width="5.83" height="5.83" fill="#26326f"/>
<rect x="183.66" y="644.62" width="5.83" height="5.83" fill="#d6e3f1"/>
<rect x="189.44" y="644.62" width="5.83" height="5.83" fill="#26326f"/>
<rect x="195.22" y="644.62" width="5.83" height="5.83" fill="#6c90c8"/>
<rect x="201.00" y="644.62" width="5.83" height="5.83" fill="#3f5ca6"/>
<rect x="206.78" y="644.62" width="17.39" height="5.83" fill="#26326f"/>
<rect x="84.20" y="650.40" width="5.83" height="5.83" fill="#3f5ca6"/>
<rect x="89.98" y="650.40" width="5.83" height="5.83" fill="#6c90c8"/>
<rect x="95.76" y="650.40" width="5.83" height="5.83" fill="#26326f"/>
<rect x="101.54" y="650.40" width="11.61" height="5.83" fill="#6c90c8"/>
<rect x="113.10" y="650.40" width="5.83" height="5.83" fill="#3f5ca6"/>
<rect x="118.88" y="650.40" width="5.83" height="5.83" fill="#26326f"/>
<rect x="124.66" y="650.40" width="5.83" height="5.83" fill="#6c90c8"/>
<rect x="130.44" y="650.40" width="11.61" height="5.83" fill="#3f5ca6"/>
<rect x="142.00" y="650.40" width="11.61" height="5.83" fill="#26326f"/>
<rect x="154.76" y="650.40" width="5.83" height="5.83" fill="#3f5ca6"/>
<rect x="160.54" y="650.40" width="5.83" height="5.83" fill="#6c90c8"/>
<rect x="166.32" y="650.40" width="5.83" height="5.83" fill="#26326f"/>
<rect x="172.10" y="650.40" width="5.83" height="5.83" fill="#6c90c8"/>
<rect x="177.88" y="650.40" width="5.83" height="5.83" fill="#26326f"/>
<rect x="183.66" y="650.40" width="5.83" height="5.83" fill="#d6e3f1"/>
<rect x="189.44" y="650.40" width="5.83" height="5.83" fill="#26326f"/>
<rect x="195.22" y="650.40" width="5.83" height="5.83" fill="#6c90c8"/>
<rect x="201.00" y="650.40" width="5.83" height="5.83" fill="#3f5ca6"/>
<rect x="206.78" y="650.40" width="17.39" height="5.83" fill="#26326f"/>
<rect x="84.20" y="656.18" width="23.17" height="5.83" fill="#26326f"/>
<rect x="107.32" y="656.18" width="5.83" height="5.83" fill="#6c90c8"/>
<rect x="113.10" y="656.18" width="40.51" height="5.83" fill="#26326f"/>
<rect x="154.76" y="656.18" width="28.95" height="5.83" fill="#26326f"/>
<rect x="183.66" y="656.18" width="5.83" height="5.83" fill="#3f5ca6"/>
<rect x="189.44" y="656.18" width="34.73" height="5.83" fill="#26326f"/>
<rect x="84.20" y="661.95" width="23.17" height="5.83" fill="#26326f"/>
<rect x="107.32" y="661.95" width="5.83" height="5.83" fill="#6c90c8"/>
<rect x="113.10" y="661.95" width="40.51" height="5.83" fill="#26326f"/>
<rect x="154.76" y="661.95" width="28.95" height="5.83" fill="#26326f"/>
<rect x="183.66" y="661.95" width="5.83" height="5.83" fill="#3f5ca6"/>
<rect x="189.44" y="661.95" width="34.73" height="5.83" fill="#26326f"/>
<rect x="84.20" y="667.73" width="23.17" height="5.83" fill="#26326f"/>
<rect x="107.32" y="667.73" width="5.83" height="5.83" fill="#6c90c8"/>
<rect x="113.10" y="667.73" width="40.51" height="5.83" fill="#26326f"/>
<rect x="154.76" y="667.73" width="28.95" height="5.83" fill="#26326f"/>
<rect x="183.66" y="667.73" width="5.83" height="5.83" fill="#3f5ca6"/>
<rect x="189.44" y="667.73" width="34.73" height="5.83" fill="#26326f"/>
<rect x="84.20" y="673.50" width="23.17" height="5.83" fill="#26326f"/>
<rect x="107.32" y="673.50" width="5.83" height="5.83" fill="#6c90c8"/>
<rect x="113.10" y="673.50" width="40.51" height="5.83" fill="#26326f"/>
<rect x="154.76" y="673.50" width="28.95" height="5.83" fill="#26326f"/>
<rect x="183.66" y="673.50" width="5.83" height="5.83" fill="#3f5ca6"/>
<rect x="189.44" y="673.50" width="34.73" height="5.83" fill="#26326f"/>
<rect x="84.20" y="679.28" width="23.17" height="5.83" fill="#26326f"/>
<rect x="107.32" y="679.28" width="5.83" height="5.83" fill="#6c90c8"/>
<rect x="113.10" y="679.28" width="40.51" height="5.83" fill="#26326f"/>
<rect x="154.76" y="679.28" width="28.95" height="5.83" fill="#26326f"/>
<rect x="183.66" y="679.28" width="5.83" height="5.83" fill="#3f5ca6"/>
<rect x="189.44" y="679.28" width="34.73" height="5.83" fill="#26326f"/>
<rect x="84.20" y="685.05" width="5.83" height="5.83" fill="#f9dcc6"/>
<rect x="89.98" y="685.05" width="5.83" height="5.83" fill="#eda982"/>
<rect x="95.76" y="685.05" width="5.83" height="5.83" fill="#f9dcc6"/>
<rect x="101.54" y="685.05" width="5.83" height="5.83" fill="#ab2a32"/>
<rect x="107.32" y="685.05" width="5.83" height="5.83" fill="#6c90c8"/>
<rect x="113.10" y="685.05" width="5.83" height="5.83" fill="#f8f8f8"/>
<rect x="118.88" y="685.05" width="5.83" height="5.83" fill="#3f5ca6"/>
<rect x="124.66" y="685.05" width="5.83" height="5.83" fill="#f8f8f8"/>
<rect x="130.44" y="685.05" width="5.83" height="5.83" fill="#ab2a32"/>
<rect x="136.22" y="685.05" width="5.83" height="5.83" fill="#eda982"/>
<rect x="142.00" y="685.05" width="5.83" height="5.83" fill="#a6c3e2"/>
<rect x="147.78" y="685.05" width="5.83" height="5.83" fill="#ab2a32"/>
<rect x="154.76" y="685.05" width="5.83" height="5.83" fill="#d6e3f1"/>
<rect x="160.54" y="685.05" width="11.61" height="5.83" fill="#eda982"/>
<rect x="172.10" y="685.05" width="5.83" height="5.83" fill="#6d1220"/>
<rect x="177.88" y="685.05" width="5.83" height="5.83" fill="#6c90c8"/>
<rect x="183.66" y="685.05" width="11.61" height="5.83" fill="#f8f8f8"/>
<rect x="195.22" y="685.05" width="5.83" height="5.83" fill="#a6c3e2"/>
<rect x="201.00" y="685.05" width="5.83" height="5.83" fill="#ab2a32"/>
<rect x="206.78" y="685.05" width="5.83" height="5.83" fill="#eda982"/>
<rect x="212.56" y="685.05" width="5.83" height="5.83" fill="#d6e3f1"/>
<rect x="218.34" y="685.05" width="5.83" height="5.83" fill="#ab2a32"/>
</g>
<text transform="translate(81.2 609.19) scale(1.08 1)" font-size="5.9" text-anchor="end" fill="#000" stroke="#000" stroke-width="0.22">ICOS</text>
<text transform="translate(81.2 614.96) scale(1.08 1)" font-size="5.9" text-anchor="end" fill="#000" stroke="#000" stroke-width="0.22">TNFRSF4</text>
<text transform="translate(81.2 620.74) scale(1.08 1)" font-size="5.9" text-anchor="end" fill="#000" stroke="#000" stroke-width="0.22">TNFRSF8</text>
<text transform="translate(81.2 626.51) scale(1.08 1)" font-size="5.9" text-anchor="end" fill="#000" stroke="#000" stroke-width="0.22">TNFRSF9</text>
<text transform="translate(81.2 632.29) scale(1.08 1)" font-size="5.9" text-anchor="end" fill="#000" stroke="#000" stroke-width="0.22">TNFRSF18</text>
<text transform="translate(81.2 638.06) scale(1.08 1)" font-size="5.9" text-anchor="end" fill="#000" stroke="#000" stroke-width="0.22">CD40LG</text>
<text transform="translate(81.2 643.84) scale(1.08 1)" font-size="5.9" text-anchor="end" fill="#000" stroke="#000" stroke-width="0.22">CD27</text>
<text transform="translate(81.2 649.61) scale(1.08 1)" font-size="5.9" text-anchor="end" fill="#000" stroke="#000" stroke-width="0.22">CD28</text>
<text transform="translate(81.2 655.39) scale(1.08 1)" font-size="5.9" text-anchor="end" fill="#000" stroke="#000" stroke-width="0.22">CD28</text>
<text transform="translate(81.2 661.16) scale(1.08 1)" font-size="5.9" text-anchor="end" fill="#000" stroke="#000" stroke-width="0.22">CD226</text>
<text transform="translate(81.2 666.94) scale(1.08 1)" font-size="5.9" text-anchor="end" fill="#000" stroke="#000" stroke-width="0.22">CD226</text>
<text transform="translate(81.2 672.71) scale(1.08 1)" font-size="5.9" text-anchor="end" fill="#000" stroke="#000" stroke-width="0.22">CD226</text>
<text transform="translate(81.2 678.49) scale(1.08 1)" font-size="5.9" text-anchor="end" fill="#000" stroke="#000" stroke-width="0.22">CD226</text>
<text transform="translate(81.2 684.26) scale(1.08 1)" font-size="5.9" text-anchor="end" fill="#000" stroke="#000" stroke-width="0.22">CD226</text>
<text transform="translate(81.2 690.04) scale(1.08 1)" font-size="5.9" text-anchor="end" fill="#000" stroke="#000" stroke-width="0.22">TNFSF14</text>
<path d="M41.60 626.46l1.80-4.10 1.80 4.10z" fill="#9a2327"/>
<path d="M84.2 693.9H153.6" stroke="#d27a84" stroke-width="1.35"/>
<path d="M154.8 693.9H224.1" stroke="#6c8798" stroke-width="1.35"/>
<text x="124.2" y="702.5" font-size="6.3" text-anchor="middle" fill="#111">Before</text>
<text x="190.8" y="702.5" font-size="6.3" text-anchor="middle" fill="#111">After</text>
<path d="M35.3 602.0V691.1" stroke="#4e44a6" stroke-width="1.4"/>
<text x="29" y="647.5" font-size="12.2" text-anchor="middle" fill="#111" transform="rotate(-90 29 647.5)">Nivo-NR</text>
<g class="hm">
<rect x="83.20" y="711.20" width="11.51" height="5.83" fill="#26326f"/>
<rect x="94.66" y="711.20" width="5.78" height="5.83" fill="#3f5ca6"/>
<rect x="100.39" y="711.20" width="5.78" height="5.83" fill="#6c90c8"/>
<rect x="106.12" y="711.20" width="5.78" height="5.83" fill="#a6c3e2"/>
<rect x="111.85" y="711.20" width="5.78" height="5.83" fill="#3f5ca6"/>
<rect x="117.58" y="711.20" width="5.78" height="5.83" fill="#26326f"/>
<rect x="125.01" y="711.20" width="11.51" height="5.83" fill="#3f5ca6"/>
<rect x="136.47" y="711.20" width="5.78" height="5.83" fill="#26326f"/>
<rect x="142.20" y="711.20" width="17.24" height="5.83" fill="#a6c3e2"/>
<rect x="159.39" y="711.20" width="5.78" height="5.83" fill="#f8f8f8"/>
<rect x="83.20" y="716.99" width="11.51" height="5.83" fill="#3f5ca6"/>
<rect x="94.66" y="716.99" width="5.78" height="5.83" fill="#6c90c8"/>
<rect x="100.39" y="716.99" width="5.78" height="5.83" fill="#a6c3e2"/>
<rect x="106.12" y="716.99" width="5.78" height="5.83" fill="#d6e3f1"/>
<rect x="111.85" y="716.99" width="5.78" height="5.83" fill="#6c90c8"/>
<rect x="117.58" y="716.99" width="5.78" height="5.83" fill="#26326f"/>
<rect x="125.01" y="716.99" width="5.78" height="5.83" fill="#f8f8f8"/>
<rect x="130.74" y="716.99" width="11.51" height="5.83" fill="#3f5ca6"/>
<rect x="142.20" y="716.99" width="5.78" height="5.83" fill="#f9dcc6"/>
<rect x="147.93" y="716.99" width="5.78" height="5.83" fill="#f8f8f8"/>
<rect x="153.66" y="716.99" width="5.78" height="5.83" fill="#a6c3e2"/>
<rect x="159.39" y="716.99" width="5.78" height="5.83" fill="#f8f8f8"/>
<rect x="83.20" y="722.77" width="22.97" height="5.83" fill="#26326f"/>
<rect x="106.12" y="722.77" width="5.78" height="5.83" fill="#3f5ca6"/>
<rect x="111.85" y="722.77" width="11.51" height="5.83" fill="#26326f"/>
<rect x="125.01" y="722.77" width="17.24" height="5.83" fill="#26326f"/>
<rect x="142.20" y="722.77" width="5.78" height="5.83" fill="#a6c3e2"/>
<rect x="147.93" y="722.77" width="5.78" height="5.83" fill="#6c90c8"/>
<rect x="153.66" y="722.77" width="5.78" height="5.83" fill="#3f5ca6"/>
<rect x="159.39" y="722.77" width="5.78" height="5.83" fill="#a6c3e2"/>
<rect x="83.20" y="728.56" width="17.24" height="5.83" fill="#26326f"/>
<rect x="100.39" y="728.56" width="5.78" height="5.83" fill="#3f5ca6"/>
<rect x="106.12" y="728.56" width="5.78" height="5.83" fill="#6c90c8"/>
<rect x="111.85" y="728.56" width="11.51" height="5.83" fill="#26326f"/>
<rect x="125.01" y="728.56" width="5.78" height="5.83" fill="#3f5ca6"/>
<rect x="130.74" y="728.56" width="11.51" height="5.83" fill="#26326f"/>
<rect x="142.20" y="728.56" width="5.78" height="5.83" fill="#d6e3f1"/>
<rect x="147.93" y="728.56" width="5.78" height="5.83" fill="#a6c3e2"/>
<rect x="153.66" y="728.56" width="11.51" height="5.83" fill="#6c90c8"/>
<rect x="83.20" y="734.34" width="17.24" height="5.83" fill="#3f5ca6"/>
<rect x="100.39" y="734.34" width="17.24" height="5.83" fill="#6c90c8"/>
<rect x="117.58" y="734.34" width="5.78" height="5.83" fill="#3f5ca6"/>
<rect x="125.01" y="734.34" width="5.78" height="5.83" fill="#f8f8f8"/>
<rect x="130.74" y="734.34" width="5.78" height="5.83" fill="#3f5ca6"/>
<rect x="136.47" y="734.34" width="5.78" height="5.83" fill="#26326f"/>
<rect x="142.20" y="734.34" width="5.78" height="5.83" fill="#d6e3f1"/>
<rect x="147.93" y="734.34" width="5.78" height="5.83" fill="#f8f8f8"/>
<rect x="153.66" y="734.34" width="5.78" height="5.83" fill="#d6e3f1"/>
<rect x="159.39" y="734.34" width="5.78" height="5.83" fill="#f9dcc6"/>
<rect x="83.20" y="740.12" width="5.78" height="5.83" fill="#3f5ca6"/>
<rect x="88.93" y="740.12" width="5.78" height="5.83" fill="#26326f"/>
<rect x="94.66" y="740.12" width="5.78" height="5.83" fill="#3f5ca6"/>
<rect x="100.39" y="740.12" width="5.78" height="5.83" fill="#a6c3e2"/>
<rect x="106.12" y="740.12" width="11.51" height="5.83" fill="#3f5ca6"/>
<rect x="117.58" y="740.12" width="5.78" height="5.83" fill="#6c90c8"/>
<rect x="125.01" y="740.12" width="5.78" height="5.83" fill="#3f5ca6"/>
<rect x="130.74" y="740.12" width="5.78" height="5.83" fill="#26326f"/>
<rect x="136.47" y="740.12" width="5.78" height="5.83" fill="#6c90c8"/>
<rect x="142.20" y="740.12" width="11.51" height="5.83" fill="#a6c3e2"/>
<rect x="153.66" y="740.12" width="11.51" height="5.83" fill="#6c90c8"/>
<rect x="83.20" y="745.91" width="5.78" height="5.83" fill="#a6c3e2"/>
<rect x="88.93" y="745.91" width="5.78" height="5.83" fill="#26326f"/>
<rect x="94.66" y="745.91" width="5.78" height="5.83" fill="#3f5ca6"/>
<rect x="100.39" y="745.91" width="5.78" height="5.83" fill="#f9dcc6"/>
<rect x="106.12" y="745.91" width="5.78" height="5.83" fill="#eda982"/>
<rect x="111.85" y="745.91" width="5.78" height="5.83" fill="#a6c3e2"/>
<rect x="117.58" y="745.91" width="5.78" height="5.83" fill="#6c90c8"/>
<rect x="125.01" y="745.91" width="5.78" height="5.83" fill="#f8f8f8"/>
<rect x="130.74" y="745.91" width="5.78" height="5.83" fill="#a6c3e2"/>
<rect x="136.47" y="745.91" width="5.78" height="5.83" fill="#3f5ca6"/>
<rect x="142.20" y="745.91" width="5.78" height="5.83" fill="#f9dcc6"/>
<rect x="147.93" y="745.91" width="5.78" height="5.83" fill="#6d1220"/>
<rect x="153.66" y="745.91" width="5.78" height="5.83" fill="#f9dcc6"/>
<rect x="159.39" y="745.91" width="5.78" height="5.83" fill="#eda982"/>
<rect x="83.20" y="751.70" width="5.78" height="5.83" fill="#26326f"/>
<rect x="88.93" y="751.70" width="5.78" height="5.83" fill="#3f5ca6"/>
<rect x="94.66" y="751.70" width="11.51" height="5.83" fill="#6c90c8"/>
<rect x="106.12" y="751.70" width="17.24" height="5.83" fill="#3f5ca6"/>
<rect x="125.01" y="751.70" width="5.78" height="5.83" fill="#6c90c8"/>
<rect x="130.74" y="751.70" width="5.78" height="5.83" fill="#3f5ca6"/>
<rect x="136.47" y="751.70" width="11.51" height="5.83" fill="#f8f8f8"/>
<rect x="147.93" y="751.70" width="5.78" height="5.83" fill="#a6c3e2"/>
<rect x="153.66" y="751.70" width="5.78" height="5.83" fill="#6c90c8"/>
<rect x="159.39" y="751.70" width="5.78" height="5.83" fill="#f8f8f8"/>
<rect x="83.20" y="757.48" width="5.78" height="5.83" fill="#26326f"/>
<rect x="88.93" y="757.48" width="5.78" height="5.83" fill="#3f5ca6"/>
<rect x="94.66" y="757.48" width="11.51" height="5.83" fill="#6c90c8"/>
<rect x="106.12" y="757.48" width="17.24" height="5.83" fill="#3f5ca6"/>
<rect x="125.01" y="757.48" width="5.78" height="5.83" fill="#6c90c8"/>
<rect x="130.74" y="757.48" width="5.78" height="5.83" fill="#3f5ca6"/>
<rect x="136.47" y="757.48" width="11.51" height="5.83" fill="#f8f8f8"/>
<rect x="147.93" y="757.48" width="5.78" height="5.83" fill="#a6c3e2"/>
<rect x="153.66" y="757.48" width="5.78" height="5.83" fill="#6c90c8"/>
<rect x="159.39" y="757.48" width="5.78" height="5.83" fill="#f8f8f8"/>
<rect x="83.20" y="763.27" width="5.78" height="5.83" fill="#3f5ca6"/>
<rect x="88.93" y="763.27" width="11.51" height="5.83" fill="#26326f"/>
<rect x="100.39" y="763.27" width="5.78" height="5.83" fill="#6c90c8"/>
<rect x="106.12" y="763.27" width="17.24" height="5.83" fill="#26326f"/>
<rect x="125.01" y="763.27" width="17.24" height="5.83" fill="#26326f"/>
<rect x="142.20" y="763.27" width="17.24" height="5.83" fill="#3f5ca6"/>
<rect x="159.39" y="763.27" width="5.78" height="5.83" fill="#6c90c8"/>
<rect x="83.20" y="769.05" width="5.78" height="5.83" fill="#3f5ca6"/>
<rect x="88.93" y="769.05" width="11.51" height="5.83" fill="#26326f"/>
<rect x="100.39" y="769.05" width="5.78" height="5.83" fill="#6c90c8"/>
<rect x="106.12" y="769.05" width="17.24" height="5.83" fill="#26326f"/>
<rect x="125.01" y="769.05" width="17.24" height="5.83" fill="#26326f"/>
<rect x="142.20" y="769.05" width="17.24" height="5.83" fill="#3f5ca6"/>
<rect x="159.39" y="769.05" width="5.78" height="5.83" fill="#6c90c8"/>
<rect x="83.20" y="774.84" width="5.78" height="5.83" fill="#3f5ca6"/>
<rect x="88.93" y="774.84" width="11.51" height="5.83" fill="#26326f"/>
<rect x="100.39" y="774.84" width="5.78" height="5.83" fill="#6c90c8"/>
<rect x="106.12" y="774.84" width="17.24" height="5.83" fill="#26326f"/>
<rect x="125.01" y="774.84" width="17.24" height="5.83" fill="#26326f"/>
<rect x="142.20" y="774.84" width="17.24" height="5.83" fill="#3f5ca6"/>
<rect x="159.39" y="774.84" width="5.78" height="5.83" fill="#6c90c8"/>
<rect x="83.20" y="780.62" width="5.78" height="5.83" fill="#3f5ca6"/>
<rect x="88.93" y="780.62" width="11.51" height="5.83" fill="#26326f"/>
<rect x="100.39" y="780.62" width="5.78" height="5.83" fill="#6c90c8"/>
<rect x="106.12" y="780.62" width="17.24" height="5.83" fill="#26326f"/>
<rect x="125.01" y="780.62" width="17.24" height="5.83" fill="#26326f"/>
<rect x="142.20" y="780.62" width="17.24" height="5.83" fill="#3f5ca6"/>
<rect x="159.39" y="780.62" width="5.78" height="5.83" fill="#6c90c8"/>
<rect x="83.20" y="786.41" width="5.78" height="5.83" fill="#3f5ca6"/>
<rect x="88.93" y="786.41" width="11.51" height="5.83" fill="#26326f"/>
<rect x="100.39" y="786.41" width="5.78" height="5.83" fill="#6c90c8"/>
<rect x="106.12" y="786.41" width="17.24" height="5.83" fill="#26326f"/>
<rect x="125.01" y="786.41" width="17.24" height="5.83" fill="#26326f"/>
<rect x="142.20" y="786.41" width="17.24" height="5.83" fill="#3f5ca6"/>
<rect x="159.39" y="786.41" width="5.78" height="5.83" fill="#6c90c8"/>
<rect x="83.20" y="792.19" width="22.97" height="5.83" fill="#cc6650"/>
<rect x="106.12" y="792.19" width="5.78" height="5.83" fill="#eda982"/>
<rect x="111.85" y="792.19" width="5.78" height="5.83" fill="#f8f8f8"/>
<rect x="117.58" y="792.19" width="5.78" height="5.83" fill="#eda982"/>
<rect x="125.01" y="792.19" width="17.24" height="5.83" fill="#6d1220"/>
<rect x="142.20" y="792.19" width="5.78" height="5.83" fill="#f8f8f8"/>
<rect x="147.93" y="792.19" width="5.78" height="5.83" fill="#a6c3e2"/>
<rect x="153.66" y="792.19" width="5.78" height="5.83" fill="#eda982"/>
<rect x="159.39" y="792.19" width="5.78" height="5.83" fill="#a6c3e2"/>
</g>
<text transform="translate(80.2 716.19) scale(1.08 1)" font-size="5.9" text-anchor="end" fill="#000" stroke="#000" stroke-width="0.22">ICOS</text>
<text transform="translate(80.2 721.98) scale(1.08 1)" font-size="5.9" text-anchor="end" fill="#000" stroke="#000" stroke-width="0.22">TNFRSF4</text>
<text transform="translate(80.2 727.76) scale(1.08 1)" font-size="5.9" text-anchor="end" fill="#000" stroke="#000" stroke-width="0.22">TNFRSF8</text>
<text transform="translate(80.2 733.55) scale(1.08 1)" font-size="5.9" text-anchor="end" fill="#000" stroke="#000" stroke-width="0.22">TNFRSF9</text>
<text transform="translate(80.2 739.33) scale(1.08 1)" font-size="5.9" text-anchor="end" fill="#000" stroke="#000" stroke-width="0.22">TNFRSF18</text>
<text transform="translate(80.2 745.12) scale(1.08 1)" font-size="5.9" text-anchor="end" fill="#000" stroke="#000" stroke-width="0.22">CD40LG</text>
<text transform="translate(80.2 750.90) scale(1.08 1)" font-size="5.9" text-anchor="end" fill="#000" stroke="#000" stroke-width="0.22">CD27</text>
<text transform="translate(80.2 756.69) scale(1.08 1)" font-size="5.9" text-anchor="end" fill="#000" stroke="#000" stroke-width="0.22">CD28</text>
<text transform="translate(80.2 762.47) scale(1.08 1)" font-size="5.9" text-anchor="end" fill="#000" stroke="#000" stroke-width="0.22">CD28</text>
<text transform="translate(80.2 768.26) scale(1.08 1)" font-size="5.9" text-anchor="end" fill="#000" stroke="#000" stroke-width="0.22">CD226</text>
<text transform="translate(80.2 774.04) scale(1.08 1)" font-size="5.9" text-anchor="end" fill="#000" stroke="#000" stroke-width="0.22">CD226</text>
<text transform="translate(80.2 779.83) scale(1.08 1)" font-size="5.9" text-anchor="end" fill="#000" stroke="#000" stroke-width="0.22">CD226</text>
<text transform="translate(80.2 785.61) scale(1.08 1)" font-size="5.9" text-anchor="end" fill="#000" stroke="#000" stroke-width="0.22">CD226</text>
<text transform="translate(80.2 791.40) scale(1.08 1)" font-size="5.9" text-anchor="end" fill="#000" stroke="#000" stroke-width="0.22">CD226</text>
<text transform="translate(80.2 797.18) scale(1.08 1)" font-size="5.9" text-anchor="end" fill="#000" stroke="#000" stroke-width="0.22">TNFSF14</text>
<path d="M39.70 716.14l1.80-4.10 1.80 4.10z" fill="#9a2327"/>
<path d="M39.70 721.93l1.80-4.10 1.80 4.10z" fill="#9a2327"/>
<path d="M39.70 727.71l1.80-4.10 1.80 4.10z" fill="#9a2327"/>
<path d="M39.70 733.50l1.80-4.10 1.80 4.10z" fill="#9a2327"/>
<path d="M39.70 750.85l1.80-4.10 1.80 4.10z" fill="#9a2327"/>
<path d="M39.70 756.64l1.80-4.10 1.80 4.10z" fill="#9a2327"/>
<path d="M39.70 762.42l1.80-4.10 1.80 4.10z" fill="#9a2327"/>
<path d="M83.2 800.3H123.3" stroke="#d27a84" stroke-width="1.35"/>
<path d="M125.0 800.3H165.1" stroke="#6c8798" stroke-width="1.35"/>
<text x="104.3" y="807.3" font-size="6.3" text-anchor="middle" fill="#111">Before</text>
<text x="142.2" y="807.3" font-size="6.3" text-anchor="middle" fill="#111">After</text>
<path d="M34.6 709.7V799.3" stroke="#b04f93" stroke-width="1.4"/>
<text x="29" y="750.2" font-size="12.2" text-anchor="middle" fill="#111" transform="rotate(-90 29 750.2)">Nivo-R</text>
<g class="hm">
<rect x="339.30" y="604.00" width="5.79" height="5.83" fill="#3f5ca6"/>
<rect x="345.04" y="604.00" width="5.79" height="5.83" fill="#6c90c8"/>
<rect x="350.78" y="604.00" width="57.45" height="5.83" fill="#26326f"/>
<rect x="409.48" y="604.00" width="23.01" height="5.83" fill="#3f5ca6"/>
<rect x="432.44" y="604.00" width="5.79" height="5.83" fill="#26326f"/>
<rect x="438.18" y="604.00" width="11.53" height="5.83" fill="#3f5ca6"/>
<rect x="449.66" y="604.00" width="28.75" height="5.83" fill="#26326f"/>
<rect x="339.30" y="609.77" width="11.53" height="5.83" fill="#3f5ca6"/>
<rect x="350.78" y="609.77" width="5.79" height="5.83" fill="#6c90c8"/>
<rect x="356.52" y="609.77" width="5.79" height="5.83" fill="#d6e3f1"/>
<rect x="362.26" y="609.77" width="5.79" height="5.83" fill="#3f5ca6"/>
<rect x="368.00" y="609.77" width="11.53" height="5.83" fill="#26326f"/>
<rect x="379.48" y="609.77" width="5.79" height="5.83" fill="#6c90c8"/>
<rect x="385.22" y="609.77" width="5.79" height="5.83" fill="#26326f"/>
<rect x="390.96" y="609.77" width="5.79" height="5.83" fill="#3f5ca6"/>
<rect x="396.70" y="609.77" width="5.79" height="5.83" fill="#26326f"/>
<rect x="402.44" y="609.77" width="5.79" height="5.83" fill="#3f5ca6"/>
<rect x="409.48" y="609.77" width="5.79" height="5.83" fill="#3f5ca6"/>
<rect x="415.22" y="609.77" width="5.79" height="5.83" fill="#a6c3e2"/>
<rect x="420.96" y="609.77" width="5.79" height="5.83" fill="#3f5ca6"/>
<rect x="426.70" y="609.77" width="5.79" height="5.83" fill="#a6c3e2"/>
<rect x="432.44" y="609.77" width="5.79" height="5.83" fill="#26326f"/>
<rect x="438.18" y="609.77" width="5.79" height="5.83" fill="#a6c3e2"/>
<rect x="443.92" y="609.77" width="5.79" height="5.83" fill="#3f5ca6"/>
<rect x="449.66" y="609.77" width="5.79" height="5.83" fill="#6c90c8"/>
<rect x="455.40" y="609.77" width="5.79" height="5.83" fill="#26326f"/>
<rect x="461.14" y="609.77" width="17.27" height="5.83" fill="#3f5ca6"/>
<rect x="339.30" y="615.55" width="5.79" height="5.83" fill="#6c90c8"/>
<rect x="345.04" y="615.55" width="5.79" height="5.83" fill="#a6c3e2"/>
<rect x="350.78" y="615.55" width="5.79" height="5.83" fill="#3f5ca6"/>
<rect x="356.52" y="615.55" width="11.53" height="5.83" fill="#6c90c8"/>
<rect x="368.00" y="615.55" width="11.53" height="5.83" fill="#26326f"/>
<rect x="379.48" y="615.55" width="5.79" height="5.83" fill="#3f5ca6"/>
<rect x="385.22" y="615.55" width="5.79" height="5.83" fill="#6c90c8"/>
<rect x="390.96" y="615.55" width="5.79" height="5.83" fill="#3f5ca6"/>
<rect x="396.70" y="615.55" width="5.79" height="5.83" fill="#6c90c8"/>
<rect x="402.44" y="615.55" width="5.79" height="5.83" fill="#26326f"/>
<rect x="409.48" y="615.55" width="5.79" height="5.83" fill="#6c90c8"/>
<rect x="415.22" y="615.55" width="5.79" height="5.83" fill="#a6c3e2"/>
<rect x="420.96" y="615.55" width="5.79" height="5.83" fill="#26326f"/>
<rect x="426.70" y="615.55" width="5.79" height="5.83" fill="#6c90c8"/>
<rect x="432.44" y="615.55" width="5.79" height="5.83" fill="#3f5ca6"/>
<rect x="438.18" y="615.55" width="5.79" height="5.83" fill="#a6c3e2"/>
<rect x="443.92" y="615.55" width="5.79" height="5.83" fill="#26326f"/>
<rect x="449.66" y="615.55" width="11.53" height="5.83" fill="#6c90c8"/>
<rect x="461.14" y="615.55" width="17.27" height="5.83" fill="#26326f"/>
<rect x="339.30" y="621.33" width="5.79" height="5.83" fill="#26326f"/>
<rect x="345.04" y="621.33" width="5.79" height="5.83" fill="#d6e3f1"/>
<rect x="350.78" y="621.33" width="5.79" height="5.83" fill="#26326f"/>
<rect x="356.52" y="621.33" width="11.53" height="5.83" fill="#3f5ca6"/>
<rect x="368.00" y="621.33" width="11.53" height="5.83" fill="#26326f"/>
<rect x="379.48" y="621.33" width="5.79" height="5.83" fill="#3f5ca6"/>
<rect x="385.22" y="621.33" width="11.53" height="5.83" fill="#26326f"/>
<rect x="396.70" y="621.33" width="5.79" height="5.83" fill="#3f5ca6"/>
<rect x="402.44" y="621.33" width="5.79" height="5.83" fill="#26326f"/>
<rect x="409.48" y="621.33" width="5.79" height="5.83" fill="#26326f"/>
<rect x="415.22" y="621.33" width="5.79" height="5.83" fill="#d6e3f1"/>
<rect x="420.96" y="621.33" width="5.79" height="5.83" fill="#26326f"/>
<rect x="426.70" y="621.33" width="5.79" height="5.83" fill="#3f5ca6"/>
<rect x="432.44" y="621.33" width="5.79" height="5.83" fill="#26326f"/>
<rect x="438.18" y="621.33" width="5.79" height="5.83" fill="#a6c3e2"/>
<rect x="443.92" y="621.33" width="5.79" height="5.83" fill="#26326f"/>
<rect x="449.66" y="621.33" width="5.79" height="5.83" fill="#3f5ca6"/>
<rect x="455.40" y="621.33" width="23.01" height="5.83" fill="#26326f"/>
<rect x="339.30" y="627.10" width="5.79" height="5.83" fill="#3f5ca6"/>
<rect x="345.04" y="627.10" width="11.53" height="5.83" fill="#26326f"/>
<rect x="356.52" y="627.10" width="5.79" height="5.83" fill="#3f5ca6"/>
<rect x="362.26" y="627.10" width="45.97" height="5.83" fill="#26326f"/>
<rect x="409.48" y="627.10" width="5.79" height="5.83" fill="#3f5ca6"/>
<rect x="415.22" y="627.10" width="23.01" height="5.83" fill="#26326f"/>
<rect x="438.18" y="627.10" width="5.79" height="5.83" fill="#6c90c8"/>
<rect x="443.92" y="627.10" width="5.79" height="5.83" fill="#26326f"/>
<rect x="449.66" y="627.10" width="5.79" height="5.83" fill="#3f5ca6"/>
<rect x="455.40" y="627.10" width="23.01" height="5.83" fill="#26326f"/>
<rect x="339.30" y="632.88" width="5.79" height="5.83" fill="#f8f8f8"/>
<rect x="345.04" y="632.88" width="5.79" height="5.83" fill="#f9dcc6"/>
<rect x="350.78" y="632.88" width="11.53" height="5.83" fill="#f8f8f8"/>
<rect x="362.26" y="632.88" width="5.79" height="5.83" fill="#d6e3f1"/>
<rect x="368.00" y="632.88" width="5.79" height="5.83" fill="#f8f8f8"/>
<rect x="373.74" y="632.88" width="5.79" height="5.83" fill="#eda982"/>
<rect x="379.48" y="632.88" width="5.79" height="5.83" fill="#f9dcc6"/>
<rect x="385.22" y="632.88" width="5.79" height="5.83" fill="#f8f8f8"/>
<rect x="390.96" y="632.88" width="11.53" height="5.83" fill="#f9dcc6"/>
<rect x="402.44" y="632.88" width="5.79" height="5.83" fill="#f8f8f8"/>
<rect x="409.48" y="632.88" width="5.79" height="5.83" fill="#eda982"/>
<rect x="415.22" y="632.88" width="11.53" height="5.83" fill="#f9dcc6"/>
<rect x="426.70" y="632.88" width="5.79" height="5.83" fill="#f8f8f8"/>
<rect x="432.44" y="632.88" width="5.79" height="5.83" fill="#6c90c8"/>
<rect x="438.18" y="632.88" width="11.53" height="5.83" fill="#f9dcc6"/>
<rect x="449.66" y="632.88" width="23.01" height="5.83" fill="#f8f8f8"/>
<rect x="472.62" y="632.88" width="5.79" height="5.83" fill="#d6e3f1"/>
<rect x="339.30" y="638.65" width="23.01" height="5.83" fill="#26326f"/>
<rect x="362.26" y="638.65" width="5.79" height="5.83" fill="#3f5ca6"/>
<rect x="368.00" y="638.65" width="11.53" height="5.83" fill="#26326f"/>
<rect x="379.48" y="638.65" width="5.79" height="5.83" fill="#3f5ca6"/>
<rect x="385.22" y="638.65" width="11.53" height="5.83" fill="#26326f"/>
<rect x="396.70" y="638.65" width="5.79" height="5.83" fill="#3f5ca6"/>
<rect x="402.44" y="638.65" width="5.79" height="5.83" fill="#26326f"/>
<rect x="409.48" y="638.65" width="5.79" height="5.83" fill="#26326f"/>
<rect x="415.22" y="638.65" width="5.79" height="5.83" fill="#3f5ca6"/>
<rect x="420.96" y="638.65" width="5.79" height="5.83" fill="#26326f"/>
<rect x="426.70" y="638.65" width="5.79" height="5.83" fill="#3f5ca6"/>
<rect x="432.44" y="638.65" width="5.79" height="5.83" fill="#26326f"/>
<rect x="438.18" y="638.65" width="5.79" height="5.83" fill="#a6c3e2"/>
<rect x="443.92" y="638.65" width="5.79" height="5.83" fill="#26326f"/>
<rect x="449.66" y="638.65" width="5.79" height="5.83" fill="#3f5ca6"/>
<rect x="455.40" y="638.65" width="23.01" height="5.83" fill="#26326f"/>
<rect x="339.30" y="644.42" width="5.79" height="5.83" fill="#26326f"/>
<rect x="345.04" y="644.42" width="5.79" height="5.83" fill="#3f5ca6"/>
<rect x="350.78" y="644.42" width="28.75" height="5.83" fill="#26326f"/>
<rect x="379.48" y="644.42" width="5.79" height="5.83" fill="#3f5ca6"/>
<rect x="385.22" y="644.42" width="23.01" height="5.83" fill="#26326f"/>
<rect x="409.48" y="644.42" width="11.53" height="5.83" fill="#3f5ca6"/>
<rect x="420.96" y="644.42" width="5.79" height="5.83" fill="#26326f"/>
<rect x="426.70" y="644.42" width="5.79" height="5.83" fill="#3f5ca6"/>
<rect x="432.44" y="644.42" width="5.79" height="5.83" fill="#26326f"/>
<rect x="438.18" y="644.42" width="5.79" height="5.83" fill="#d6e3f1"/>
<rect x="443.92" y="644.42" width="5.79" height="5.83" fill="#26326f"/>
<rect x="449.66" y="644.42" width="5.79" height="5.83" fill="#3f5ca6"/>
<rect x="455.40" y="644.42" width="23.01" height="5.83" fill="#26326f"/>
<rect x="339.30" y="650.20" width="5.79" height="5.83" fill="#d6e3f1"/>
<rect x="345.04" y="650.20" width="5.79" height="5.83" fill="#f8f8f8"/>
<rect x="350.78" y="650.20" width="5.79" height="5.83" fill="#a6c3e2"/>
<rect x="356.52" y="650.20" width="5.79" height="5.83" fill="#d6e3f1"/>
<rect x="362.26" y="650.20" width="11.53" height="5.83" fill="#a6c3e2"/>
<rect x="373.74" y="650.20" width="5.79" height="5.83" fill="#3f5ca6"/>
<rect x="379.48" y="650.20" width="5.79" height="5.83" fill="#d6e3f1"/>
<rect x="385.22" y="650.20" width="5.79" height="5.83" fill="#a6c3e2"/>
<rect x="390.96" y="650.20" width="5.79" height="5.83" fill="#6c90c8"/>
<rect x="396.70" y="650.20" width="5.79" height="5.83" fill="#f9dcc6"/>
<rect x="402.44" y="650.20" width="5.79" height="5.83" fill="#26326f"/>
<rect x="409.48" y="650.20" width="5.79" height="5.83" fill="#6c90c8"/>
<rect x="415.22" y="650.20" width="5.79" height="5.83" fill="#d6e3f1"/>
<rect x="420.96" y="650.20" width="5.79" height="5.83" fill="#3f5ca6"/>
<rect x="426.70" y="650.20" width="5.79" height="5.83" fill="#f8f8f8"/>
<rect x="432.44" y="650.20" width="5.79" height="5.83" fill="#6c90c8"/>
<rect x="438.18" y="650.20" width="5.79" height="5.83" fill="#f8f8f8"/>
<rect x="443.92" y="650.20" width="5.79" height="5.83" fill="#26326f"/>
<rect x="449.66" y="650.20" width="5.79" height="5.83" fill="#d6e3f1"/>
<rect x="455.40" y="650.20" width="5.79" height="5.83" fill="#6c90c8"/>
<rect x="461.14" y="650.20" width="5.79" height="5.83" fill="#3f5ca6"/>
<rect x="466.88" y="650.20" width="5.79" height="5.83" fill="#6c90c8"/>
<rect x="472.62" y="650.20" width="5.79" height="5.83" fill="#3f5ca6"/>
<rect x="339.30" y="655.98" width="5.79" height="5.83" fill="#f8f8f8"/>
<rect x="345.04" y="655.98" width="5.79" height="5.83" fill="#eda982"/>
<rect x="350.78" y="655.98" width="5.79" height="5.83" fill="#a6c3e2"/>
<rect x="356.52" y="655.98" width="17.27" height="5.83" fill="#f9dcc6"/>
<rect x="373.74" y="655.98" width="5.79" height="5.83" fill="#d6e3f1"/>
<rect x="379.48" y="655.98" width="5.79" height="5.83" fill="#f9dcc6"/>
<rect x="385.22" y="655.98" width="5.79" height="5.83" fill="#d6e3f1"/>
<rect x="390.96" y="655.98" width="5.79" height="5.83" fill="#eda982"/>
<rect x="396.70" y="655.98" width="5.79" height="5.83" fill="#a6c3e2"/>
<rect x="402.44" y="655.98" width="5.79" height="5.83" fill="#f9dcc6"/>
<rect x="409.48" y="655.98" width="5.79" height="5.83" fill="#f9dcc6"/>
<rect x="415.22" y="655.98" width="5.79" height="5.83" fill="#eda982"/>
<rect x="420.96" y="655.98" width="11.53" height="5.83" fill="#f8f8f8"/>
<rect x="432.44" y="655.98" width="11.53" height="5.83" fill="#f9dcc6"/>
<rect x="443.92" y="655.98" width="5.79" height="5.83" fill="#d6e3f1"/>
<rect x="449.66" y="655.98" width="5.79" height="5.83" fill="#f9dcc6"/>
<rect x="455.40" y="655.98" width="5.79" height="5.83" fill="#f8f8f8"/>
<rect x="461.14" y="655.98" width="5.79" height="5.83" fill="#eda982"/>
<rect x="466.88" y="655.98" width="11.53" height="5.83" fill="#d6e3f1"/>
<rect x="339.30" y="661.75" width="5.79" height="5.83" fill="#6c90c8"/>
<rect x="345.04" y="661.75" width="5.79" height="5.83" fill="#f8f8f8"/>
<rect x="350.78" y="661.75" width="5.79" height="5.83" fill="#3f5ca6"/>
<rect x="356.52" y="661.75" width="5.79" height="5.83" fill="#6c90c8"/>
<rect x="362.26" y="661.75" width="11.53" height="5.83" fill="#d6e3f1"/>
<rect x="373.74" y="661.75" width="5.79" height="5.83" fill="#26326f"/>
<rect x="379.48" y="661.75" width="5.79" height="5.83" fill="#a6c3e2"/>
<rect x="385.22" y="661.75" width="5.79" height="5.83" fill="#d6e3f1"/>
<rect x="390.96" y="661.75" width="5.79" height="5.83" fill="#a6c3e2"/>
<rect x="396.70" y="661.75" width="5.79" height="5.83" fill="#26326f"/>
<rect x="402.44" y="661.75" width="5.79" height="5.83" fill="#a6c3e2"/>
<rect x="409.48" y="661.75" width="5.79" height="5.83" fill="#6c90c8"/>
<rect x="415.22" y="661.75" width="5.79" height="5.83" fill="#f8f8f8"/>
<rect x="420.96" y="661.75" width="5.79" height="5.83" fill="#3f5ca6"/>
<rect x="426.70" y="661.75" width="5.79" height="5.83" fill="#6c90c8"/>
<rect x="432.44" y="661.75" width="5.79" height="5.83" fill="#d6e3f1"/>
<rect x="438.18" y="661.75" width="5.79" height="5.83" fill="#a6c3e2"/>
<rect x="443.92" y="661.75" width="5.79" height="5.83" fill="#3f5ca6"/>
<rect x="449.66" y="661.75" width="5.79" height="5.83" fill="#a6c3e2"/>
<rect x="455.40" y="661.75" width="5.79" height="5.83" fill="#6c90c8"/>
<rect x="461.14" y="661.75" width="5.79" height="5.83" fill="#a6c3e2"/>
<rect x="466.88" y="661.75" width="5.79" height="5.83" fill="#3f5ca6"/>
<rect x="472.62" y="661.75" width="5.79" height="5.83" fill="#6c90c8"/>
<rect x="339.30" y="667.52" width="5.79" height="5.83" fill="#cc6650"/>
<rect x="345.04" y="667.52" width="5.79" height="5.83" fill="#6d1220"/>
<rect x="350.78" y="667.52" width="5.79" height="5.83" fill="#eda982"/>
<rect x="356.52" y="667.52" width="5.79" height="5.83" fill="#6d1220"/>
<rect x="362.26" y="667.52" width="5.79" height="5.83" fill="#ab2a32"/>
<rect x="368.00" y="667.52" width="5.79" height="5.83" fill="#6d1220"/>
<rect x="373.74" y="667.52" width="5.79" height="5.83" fill="#cc6650"/>
<rect x="379.48" y="667.52" width="5.79" height="5.83" fill="#eda982"/>
<rect x="385.22" y="667.52" width="5.79" height="5.83" fill="#ab2a32"/>
<rect x="390.96" y="667.52" width="11.53" height="5.83" fill="#eda982"/>
<rect x="402.44" y="667.52" width="5.79" height="5.83" fill="#cc6650"/>
<rect x="409.48" y="667.52" width="5.79" height="5.83" fill="#cc6650"/>
<rect x="415.22" y="667.52" width="5.79" height="5.83" fill="#6d1220"/>
<rect x="420.96" y="667.52" width="5.79" height="5.83" fill="#cc6650"/>
<rect x="426.70" y="667.52" width="5.79" height="5.83" fill="#ab2a32"/>
<rect x="432.44" y="667.52" width="5.79" height="5.83" fill="#6d1220"/>
<rect x="438.18" y="667.52" width="5.79" height="5.83" fill="#ab2a32"/>
<rect x="443.92" y="667.52" width="11.53" height="5.83" fill="#eda982"/>
<rect x="455.40" y="667.52" width="17.27" height="5.83" fill="#cc6650"/>
<rect x="472.62" y="667.52" width="5.79" height="5.83" fill="#eda982"/>
<rect x="339.30" y="673.30" width="5.79" height="5.83" fill="#3f5ca6"/>
<rect x="345.04" y="673.30" width="5.79" height="5.83" fill="#6c90c8"/>
<rect x="350.78" y="673.30" width="11.53" height="5.83" fill="#a6c3e2"/>
<rect x="362.26" y="673.30" width="11.53" height="5.83" fill="#6c90c8"/>
<rect x="373.74" y="673.30" width="5.79" height="5.83" fill="#3f5ca6"/>
<rect x="379.48" y="673.30" width="11.53" height="5.83" fill="#6c90c8"/>
<rect x="390.96" y="673.30" width="5.79" height="5.83" fill="#f8f8f8"/>
<rect x="396.70" y="673.30" width="11.53" height="5.83" fill="#3f5ca6"/>
<rect x="409.48" y="673.30" width="5.79" height="5.83" fill="#a6c3e2"/>
<rect x="415.22" y="673.30" width="5.79" height="5.83" fill="#d6e3f1"/>
<rect x="420.96" y="673.30" width="5.79" height="5.83" fill="#a6c3e2"/>
<rect x="426.70" y="673.30" width="11.53" height="5.83" fill="#6c90c8"/>
<rect x="438.18" y="673.30" width="5.79" height="5.83" fill="#3f5ca6"/>
<rect x="443.92" y="673.30" width="5.79" height="5.83" fill="#6c90c8"/>
<rect x="449.66" y="673.30" width="5.79" height="5.83" fill="#3f5ca6"/>
<rect x="455.40" y="673.30" width="11.53" height="5.83" fill="#a6c3e2"/>
<rect x="466.88" y="673.30" width="5.79" height="5.83" fill="#6c90c8"/>
<rect x="472.62" y="673.30" width="5.79" height="5.83" fill="#3f5ca6"/>
<rect x="339.30" y="679.08" width="34.49" height="5.83" fill="#26326f"/>
<rect x="373.74" y="679.08" width="5.79" height="5.83" fill="#3f5ca6"/>
<rect x="379.48" y="679.08" width="17.27" height="5.83" fill="#26326f"/>
<rect x="396.70" y="679.08" width="11.53" height="5.83" fill="#3f5ca6"/>
<rect x="409.48" y="679.08" width="5.79" height="5.83" fill="#26326f"/>
<rect x="415.22" y="679.08" width="5.79" height="5.83" fill="#3f5ca6"/>
<rect x="420.96" y="679.08" width="28.75" height="5.83" fill="#26326f"/>
<rect x="449.66" y="679.08" width="5.79" height="5.83" fill="#3f5ca6"/>
<rect x="455.40" y="679.08" width="5.79" height="5.83" fill="#26326f"/>
<rect x="461.14" y="679.08" width="5.79" height="5.83" fill="#3f5ca6"/>
<rect x="466.88" y="679.08" width="11.53" height="5.83" fill="#26326f"/>
<rect x="339.30" y="684.85" width="5.79" height="5.83" fill="#eda982"/>
<rect x="345.04" y="684.85" width="5.79" height="5.83" fill="#cc6650"/>
<rect x="350.78" y="684.85" width="5.79" height="5.83" fill="#d6e3f1"/>
<rect x="356.52" y="684.85" width="5.79" height="5.83" fill="#f9dcc6"/>
<rect x="362.26" y="684.85" width="11.53" height="5.83" fill="#eda982"/>
<rect x="373.74" y="684.85" width="5.79" height="5.83" fill="#f8f8f8"/>
<rect x="379.48" y="684.85" width="11.53" height="5.83" fill="#eda982"/>
<rect x="390.96" y="684.85" width="5.79" height="5.83" fill="#f9dcc6"/>
<rect x="396.70" y="684.85" width="5.79" height="5.83" fill="#a6c3e2"/>
<rect x="402.44" y="684.85" width="5.79" height="5.83" fill="#f9dcc6"/>
<rect x="409.48" y="684.85" width="5.79" height="5.83" fill="#eda982"/>
<rect x="415.22" y="684.85" width="5.79" height="5.83" fill="#cc6650"/>
<rect x="420.96" y="684.85" width="5.79" height="5.83" fill="#f9dcc6"/>
<rect x="426.70" y="684.85" width="11.53" height="5.83" fill="#eda982"/>
<rect x="438.18" y="684.85" width="5.79" height="5.83" fill="#ab2a32"/>
<rect x="443.92" y="684.85" width="5.79" height="5.83" fill="#f9dcc6"/>
<rect x="449.66" y="684.85" width="11.53" height="5.83" fill="#cc6650"/>
<rect x="461.14" y="684.85" width="5.79" height="5.83" fill="#eda982"/>
<rect x="466.88" y="684.85" width="5.79" height="5.83" fill="#d6e3f1"/>
<rect x="472.62" y="684.85" width="5.79" height="5.83" fill="#eda982"/>
</g>
<text transform="translate(336.3 608.99) scale(1.08 1)" font-size="5.9" text-anchor="end" fill="#000" stroke="#000" stroke-width="0.22">ICOSLG</text>
<text transform="translate(336.3 614.76) scale(1.08 1)" font-size="5.9" text-anchor="end" fill="#000" stroke="#000" stroke-width="0.22">TNFSF4</text>
<text transform="translate(336.3 620.54) scale(1.08 1)" font-size="5.9" text-anchor="end" fill="#000" stroke="#000" stroke-width="0.22">TNFSF8</text>
<text transform="translate(336.3 626.31) scale(1.08 1)" font-size="5.9" text-anchor="end" fill="#000" stroke="#000" stroke-width="0.22">TNFSF9</text>
<text transform="translate(336.3 632.09) scale(1.08 1)" font-size="5.9" text-anchor="end" fill="#000" stroke="#000" stroke-width="0.22">TNFSF18</text>
<text transform="translate(336.3 637.86) scale(1.08 1)" font-size="5.9" text-anchor="end" fill="#000" stroke="#000" stroke-width="0.22">CD40</text>
<text transform="translate(336.3 643.64) scale(1.08 1)" font-size="5.9" text-anchor="end" fill="#000" stroke="#000" stroke-width="0.22">CD70</text>
<text transform="translate(336.3 649.41) scale(1.08 1)" font-size="5.9" text-anchor="end" fill="#000" stroke="#000" stroke-width="0.22">CD80</text>
<text transform="translate(336.3 655.19) scale(1.08 1)" font-size="5.9" text-anchor="end" fill="#000" stroke="#000" stroke-width="0.22">CD86</text>
<text transform="translate(336.3 660.96) scale(1.08 1)" font-size="5.9" text-anchor="end" fill="#000" stroke="#000" stroke-width="0.22">PVR</text>
<text transform="translate(336.3 666.74) scale(1.08 1)" font-size="5.9" text-anchor="end" fill="#000" stroke="#000" stroke-width="0.22">NECTIN1</text>
<text transform="translate(336.3 672.51) scale(1.08 1)" font-size="5.9" text-anchor="end" fill="#000" stroke="#000" stroke-width="0.22">NECTIN2</text>
<text transform="translate(336.3 678.29) scale(1.08 1)" font-size="5.9" text-anchor="end" fill="#000" stroke="#000" stroke-width="0.22">NECTIN3</text>
<text transform="translate(336.3 684.06) scale(1.08 1)" font-size="5.9" text-anchor="end" fill="#000" stroke="#000" stroke-width="0.22">NECTIN4</text>
<text transform="translate(336.3 689.84) scale(1.08 1)" font-size="5.9" text-anchor="end" fill="#000" stroke="#000" stroke-width="0.22">TNFRSF14</text>
<path d="M296.70 649.36l1.80-4.10 1.80 4.10z" fill="#9a2327"/>
<path d="M339.3 693.9H408.2" stroke="#d27a84" stroke-width="1.35"/>
<path d="M409.5 693.9H478.4" stroke="#6c8798" stroke-width="1.35"/>
<text x="378.8" y="702.3" font-size="6.3" text-anchor="middle" fill="#111">Before</text>
<text x="445.4" y="702.3" font-size="6.3" text-anchor="middle" fill="#111">After</text>
<g class="hm">
<rect x="338.30" y="711.20" width="5.75" height="5.81" fill="#26326f"/>
<rect x="344.00" y="711.20" width="5.75" height="5.81" fill="#3f5ca6"/>
<rect x="349.70" y="711.20" width="5.75" height="5.81" fill="#26326f"/>
<rect x="355.40" y="711.20" width="5.75" height="5.81" fill="#3f5ca6"/>
<rect x="361.10" y="711.20" width="5.75" height="5.81" fill="#26326f"/>
<rect x="366.80" y="711.20" width="5.75" height="5.81" fill="#3f5ca6"/>
<rect x="372.50" y="711.20" width="5.75" height="5.81" fill="#26326f"/>
<rect x="379.70" y="711.20" width="11.45" height="5.81" fill="#3f5ca6"/>
<rect x="391.10" y="711.20" width="5.75" height="5.81" fill="#6c90c8"/>
<rect x="396.80" y="711.20" width="5.75" height="5.81" fill="#a6c3e2"/>
<rect x="402.50" y="711.20" width="11.45" height="5.81" fill="#26326f"/>
<rect x="413.90" y="711.20" width="5.75" height="5.81" fill="#6c90c8"/>
<rect x="338.30" y="716.97" width="17.15" height="5.81" fill="#26326f"/>
<rect x="355.40" y="716.97" width="22.85" height="5.81" fill="#3f5ca6"/>
<rect x="379.70" y="716.97" width="11.45" height="5.81" fill="#3f5ca6"/>
<rect x="391.10" y="716.97" width="5.75" height="5.81" fill="#26326f"/>
<rect x="396.80" y="716.97" width="5.75" height="5.81" fill="#d6e3f1"/>
<rect x="402.50" y="716.97" width="11.45" height="5.81" fill="#6c90c8"/>
<rect x="413.90" y="716.97" width="5.75" height="5.81" fill="#a6c3e2"/>
<rect x="338.30" y="722.73" width="5.75" height="5.81" fill="#6c90c8"/>
<rect x="344.00" y="722.73" width="5.75" height="5.81" fill="#26326f"/>
<rect x="349.70" y="722.73" width="5.75" height="5.81" fill="#6c90c8"/>
<rect x="355.40" y="722.73" width="5.75" height="5.81" fill="#a6c3e2"/>
<rect x="361.10" y="722.73" width="5.75" height="5.81" fill="#6c90c8"/>
<rect x="366.80" y="722.73" width="11.45" height="5.81" fill="#3f5ca6"/>
<rect x="379.70" y="722.73" width="11.45" height="5.81" fill="#3f5ca6"/>
<rect x="391.10" y="722.73" width="5.75" height="5.81" fill="#6c90c8"/>
<rect x="396.80" y="722.73" width="5.75" height="5.81" fill="#f9dcc6"/>
<rect x="402.50" y="722.73" width="5.75" height="5.81" fill="#d6e3f1"/>
<rect x="408.20" y="722.73" width="5.75" height="5.81" fill="#a6c3e2"/>
<rect x="413.90" y="722.73" width="5.75" height="5.81" fill="#f9dcc6"/>
<rect x="338.30" y="728.50" width="5.75" height="5.81" fill="#26326f"/>
<rect x="344.00" y="728.50" width="5.75" height="5.81" fill="#6c90c8"/>
<rect x="349.70" y="728.50" width="11.45" height="5.81" fill="#26326f"/>
<rect x="361.10" y="728.50" width="5.75" height="5.81" fill="#6c90c8"/>
<rect x="366.80" y="728.50" width="11.45" height="5.81" fill="#26326f"/>
<rect x="379.70" y="728.50" width="5.75" height="5.81" fill="#3f5ca6"/>
<rect x="385.40" y="728.50" width="5.75" height="5.81" fill="#6c90c8"/>
<rect x="391.10" y="728.50" width="5.75" height="5.81" fill="#26326f"/>
<rect x="396.80" y="728.50" width="5.75" height="5.81" fill="#d6e3f1"/>
<rect x="402.50" y="728.50" width="5.75" height="5.81" fill="#6c90c8"/>
<rect x="408.20" y="728.50" width="5.75" height="5.81" fill="#3f5ca6"/>
<rect x="413.90" y="728.50" width="5.75" height="5.81" fill="#f8f8f8"/>
<rect x="338.30" y="734.26" width="22.85" height="5.81" fill="#26326f"/>
<rect x="361.10" y="734.26" width="5.75" height="5.81" fill="#3f5ca6"/>
<rect x="366.80" y="734.26" width="11.45" height="5.81" fill="#26326f"/>
<rect x="379.70" y="734.26" width="11.45" height="5.81" fill="#26326f"/>
<rect x="391.10" y="734.26" width="11.45" height="5.81" fill="#3f5ca6"/>
<rect x="402.50" y="734.26" width="5.75" height="5.81" fill="#6c90c8"/>
<rect x="408.20" y="734.26" width="5.75" height="5.81" fill="#26326f"/>
<rect x="413.90" y="734.26" width="5.75" height="5.81" fill="#6c90c8"/>
<rect x="338.30" y="740.03" width="5.75" height="5.81" fill="#f8f8f8"/>
<rect x="344.00" y="740.03" width="11.45" height="5.81" fill="#f9dcc6"/>
<rect x="355.40" y="740.03" width="11.45" height="5.81" fill="#f8f8f8"/>
<rect x="366.80" y="740.03" width="5.75" height="5.81" fill="#a6c3e2"/>
<rect x="372.50" y="740.03" width="5.75" height="5.81" fill="#f8f8f8"/>
<rect x="379.70" y="740.03" width="5.75" height="5.81" fill="#f8f8f8"/>
<rect x="385.40" y="740.03" width="5.75" height="5.81" fill="#f9dcc6"/>
<rect x="391.10" y="740.03" width="5.75" height="5.81" fill="#f8f8f8"/>
<rect x="396.80" y="740.03" width="11.45" height="5.81" fill="#f9dcc6"/>
<rect x="408.20" y="740.03" width="5.75" height="5.81" fill="#f8f8f8"/>
<rect x="413.90" y="740.03" width="5.75" height="5.81" fill="#eda982"/>
<rect x="338.30" y="745.79" width="17.15" height="5.81" fill="#26326f"/>
<rect x="355.40" y="745.79" width="11.45" height="5.81" fill="#3f5ca6"/>
<rect x="366.80" y="745.79" width="11.45" height="5.81" fill="#26326f"/>
<rect x="379.70" y="745.79" width="17.15" height="5.81" fill="#26326f"/>
<rect x="396.80" y="745.79" width="5.75" height="5.81" fill="#6c90c8"/>
<rect x="402.50" y="745.79" width="5.75" height="5.81" fill="#a6c3e2"/>
<rect x="408.20" y="745.79" width="5.75" height="5.81" fill="#3f5ca6"/>
<rect x="413.90" y="745.79" width="5.75" height="5.81" fill="#6c90c8"/>
<rect x="338.30" y="751.56" width="17.15" height="5.81" fill="#26326f"/>
<rect x="355.40" y="751.56" width="11.45" height="5.81" fill="#3f5ca6"/>
<rect x="366.80" y="751.56" width="11.45" height="5.81" fill="#26326f"/>
<rect x="379.70" y="751.56" width="5.75" height="5.81" fill="#3f5ca6"/>
<rect x="385.40" y="751.56" width="11.45" height="5.81" fill="#26326f"/>
<rect x="396.80" y="751.56" width="5.75" height="5.81" fill="#a6c3e2"/>
<rect x="402.50" y="751.56" width="5.75" height="5.81" fill="#6c90c8"/>
<rect x="408.20" y="751.56" width="5.75" height="5.81" fill="#3f5ca6"/>
<rect x="413.90" y="751.56" width="5.75" height="5.81" fill="#d6e3f1"/>
<rect x="338.30" y="757.32" width="5.75" height="5.81" fill="#a6c3e2"/>
<rect x="344.00" y="757.32" width="5.75" height="5.81" fill="#3f5ca6"/>
<rect x="349.70" y="757.32" width="5.75" height="5.81" fill="#d6e3f1"/>
<rect x="355.40" y="757.32" width="5.75" height="5.81" fill="#f8f8f8"/>
<rect x="361.10" y="757.32" width="5.75" height="5.81" fill="#d6e3f1"/>
<rect x="366.80" y="757.32" width="5.75" height="5.81" fill="#6c90c8"/>
<rect x="372.50" y="757.32" width="5.75" height="5.81" fill="#a6c3e2"/>
<rect x="379.70" y="757.32" width="5.75" height="5.81" fill="#a6c3e2"/>
<rect x="385.40" y="757.32" width="5.75" height="5.81" fill="#6c90c8"/>
<rect x="391.10" y="757.32" width="5.75" height="5.81" fill="#a6c3e2"/>
<rect x="396.80" y="757.32" width="5.75" height="5.81" fill="#cc6650"/>
<rect x="402.50" y="757.32" width="5.75" height="5.81" fill="#f9dcc6"/>
<rect x="408.20" y="757.32" width="5.75" height="5.81" fill="#f8f8f8"/>
<rect x="413.90" y="757.32" width="5.75" height="5.81" fill="#ab2a32"/>
<rect x="338.30" y="763.09" width="5.75" height="5.81" fill="#f9dcc6"/>
<rect x="344.00" y="763.09" width="17.15" height="5.81" fill="#f8f8f8"/>
<rect x="361.10" y="763.09" width="5.75" height="5.81" fill="#eda982"/>
<rect x="366.80" y="763.09" width="11.45" height="5.81" fill="#f8f8f8"/>
<rect x="379.70" y="763.09" width="5.75" height="5.81" fill="#cc6650"/>
<rect x="385.40" y="763.09" width="5.75" height="5.81" fill="#f9dcc6"/>
<rect x="391.10" y="763.09" width="5.75" height="5.81" fill="#eda982"/>
<rect x="396.80" y="763.09" width="5.75" height="5.81" fill="#f8f8f8"/>
<rect x="402.50" y="763.09" width="5.75" height="5.81" fill="#a6c3e2"/>
<rect x="408.20" y="763.09" width="11.45" height="5.81" fill="#d6e3f1"/>
<rect x="338.30" y="768.85" width="11.45" height="5.81" fill="#6c90c8"/>
<rect x="349.70" y="768.85" width="5.75" height="5.81" fill="#3f5ca6"/>
<rect x="355.40" y="768.85" width="5.75" height="5.81" fill="#6c90c8"/>
<rect x="361.10" y="768.85" width="5.75" height="5.81" fill="#a6c3e2"/>
<rect x="366.80" y="768.85" width="5.75" height="5.81" fill="#6c90c8"/>
<rect x="372.50" y="768.85" width="5.75" height="5.81" fill="#a6c3e2"/>
<rect x="379.70" y="768.85" width="5.75" height="5.81" fill="#f8f8f8"/>
<rect x="385.40" y="768.85" width="5.75" height="5.81" fill="#3f5ca6"/>
<rect x="391.10" y="768.85" width="11.45" height="5.81" fill="#a6c3e2"/>
<rect x="402.50" y="768.85" width="11.45" height="5.81" fill="#3f5ca6"/>
<rect x="413.90" y="768.85" width="5.75" height="5.81" fill="#6c90c8"/>
<rect x="338.30" y="774.62" width="5.75" height="5.81" fill="#ab2a32"/>
<rect x="344.00" y="774.62" width="5.75" height="5.81" fill="#cc6650"/>
<rect x="349.70" y="774.62" width="5.75" height="5.81" fill="#eda982"/>
<rect x="355.40" y="774.62" width="22.85" height="5.81" fill="#cc6650"/>
<rect x="379.70" y="774.62" width="5.75" height="5.81" fill="#6d1220"/>
<rect x="385.40" y="774.62" width="5.75" height="5.81" fill="#f9dcc6"/>
<rect x="391.10" y="774.62" width="11.45" height="5.81" fill="#cc6650"/>
<rect x="402.50" y="774.62" width="5.75" height="5.81" fill="#f9dcc6"/>
<rect x="408.20" y="774.62" width="5.75" height="5.81" fill="#eda982"/>
<rect x="413.90" y="774.62" width="5.75" height="5.81" fill="#ab2a32"/>
<rect x="338.30" y="780.38" width="5.75" height="5.81" fill="#3f5ca6"/>
<rect x="344.00" y="780.38" width="11.45" height="5.81" fill="#a6c3e2"/>
<rect x="355.40" y="780.38" width="5.75" height="5.81" fill="#6c90c8"/>
<rect x="361.10" y="780.38" width="17.15" height="5.81" fill="#a6c3e2"/>
<rect x="379.70" y="780.38" width="5.75" height="5.81" fill="#6c90c8"/>
<rect x="385.40" y="780.38" width="11.45" height="5.81" fill="#a6c3e2"/>
<rect x="396.80" y="780.38" width="5.75" height="5.81" fill="#3f5ca6"/>
<rect x="402.50" y="780.38" width="5.75" height="5.81" fill="#26326f"/>
<rect x="408.20" y="780.38" width="5.75" height="5.81" fill="#3f5ca6"/>
<rect x="413.90" y="780.38" width="5.75" height="5.81" fill="#6c90c8"/>
<rect x="338.30" y="786.14" width="17.15" height="5.81" fill="#26326f"/>
<rect x="355.40" y="786.14" width="5.75" height="5.81" fill="#3f5ca6"/>
<rect x="361.10" y="786.14" width="17.15" height="5.81" fill="#26326f"/>
<rect x="379.70" y="786.14" width="17.15" height="5.81" fill="#26326f"/>
<rect x="396.80" y="786.14" width="5.75" height="5.81" fill="#6c90c8"/>
<rect x="402.50" y="786.14" width="11.45" height="5.81" fill="#26326f"/>
<rect x="413.90" y="786.14" width="5.75" height="5.81" fill="#a6c3e2"/>
<rect x="338.30" y="791.91" width="5.75" height="5.81" fill="#eda982"/>
<rect x="344.00" y="791.91" width="5.75" height="5.81" fill="#f8f8f8"/>
<rect x="349.70" y="791.91" width="5.75" height="5.81" fill="#d6e3f1"/>
<rect x="355.40" y="791.91" width="11.45" height="5.81" fill="#eda982"/>
<rect x="366.80" y="791.91" width="5.75" height="5.81" fill="#f8f8f8"/>
<rect x="372.50" y="791.91" width="5.75" height="5.81" fill="#f9dcc6"/>
<rect x="379.70" y="791.91" width="5.75" height="5.81" fill="#eda982"/>
<rect x="385.40" y="791.91" width="5.75" height="5.81" fill="#f8f8f8"/>
<rect x="391.10" y="791.91" width="5.75" height="5.81" fill="#f9dcc6"/>
<rect x="396.80" y="791.91" width="5.75" height="5.81" fill="#ab2a32"/>
<rect x="402.50" y="791.91" width="5.75" height="5.81" fill="#cc6650"/>
<rect x="408.20" y="791.91" width="5.75" height="5.81" fill="#eda982"/>
<rect x="413.90" y="791.91" width="5.75" height="5.81" fill="#ab2a32"/>
</g>
<text transform="translate(335.3 716.18) scale(1.08 1)" font-size="5.9" text-anchor="end" fill="#000" stroke="#000" stroke-width="0.22">ICOSLG</text>
<text transform="translate(335.3 721.95) scale(1.08 1)" font-size="5.9" text-anchor="end" fill="#000" stroke="#000" stroke-width="0.22">TNFSF4</text>
<text transform="translate(335.3 727.71) scale(1.08 1)" font-size="5.9" text-anchor="end" fill="#000" stroke="#000" stroke-width="0.22">TNFSF8</text>
<text transform="translate(335.3 733.48) scale(1.08 1)" font-size="5.9" text-anchor="end" fill="#000" stroke="#000" stroke-width="0.22">TNFSF9</text>
<text transform="translate(335.3 739.24) scale(1.08 1)" font-size="5.9" text-anchor="end" fill="#000" stroke="#000" stroke-width="0.22">TNFSF18</text>
<text transform="translate(335.3 745.01) scale(1.08 1)" font-size="5.9" text-anchor="end" fill="#000" stroke="#000" stroke-width="0.22">CD40</text>
<text transform="translate(335.3 750.77) scale(1.08 1)" font-size="5.9" text-anchor="end" fill="#000" stroke="#000" stroke-width="0.22">CD70</text>
<text transform="translate(335.3 756.54) scale(1.08 1)" font-size="5.9" text-anchor="end" fill="#000" stroke="#000" stroke-width="0.22">CD80</text>
<text transform="translate(335.3 762.30) scale(1.08 1)" font-size="5.9" text-anchor="end" fill="#000" stroke="#000" stroke-width="0.22">CD86</text>
<text transform="translate(335.3 768.07) scale(1.08 1)" font-size="5.9" text-anchor="end" fill="#000" stroke="#000" stroke-width="0.22">PVR</text>
<text transform="translate(335.3 773.83) scale(1.08 1)" font-size="5.9" text-anchor="end" fill="#000" stroke="#000" stroke-width="0.22">NECTIN1</text>
<text transform="translate(335.3 779.60) scale(1.08 1)" font-size="5.9" text-anchor="end" fill="#000" stroke="#000" stroke-width="0.22">NECTIN2</text>
<text transform="translate(335.3 785.36) scale(1.08 1)" font-size="5.9" text-anchor="end" fill="#000" stroke="#000" stroke-width="0.22">NECTIN3</text>
<text transform="translate(335.3 791.13) scale(1.08 1)" font-size="5.9" text-anchor="end" fill="#000" stroke="#000" stroke-width="0.22">NECTIN4</text>
<text transform="translate(335.3 796.89) scale(1.08 1)" font-size="5.9" text-anchor="end" fill="#000" stroke="#000" stroke-width="0.22">TNFRSF14</text>
<path d="M293.90 721.90l1.90-4.10 1.90 4.10z" fill="#9a2327"/>
<path d="M293.90 727.66l1.90-4.10 1.90 4.10z" fill="#9a2327"/>
<path d="M293.90 733.43l1.90-4.10 1.90 4.10z" fill="#9a2327"/>
<path d="M293.90 750.72l1.90-4.10 1.90 4.10z" fill="#9a2327"/>
<path d="M293.90 756.49l1.90-4.10 1.90 4.10z" fill="#9a2327"/>
<path d="M293.90 762.25l1.90-4.10 1.90 4.10z" fill="#9a2327"/>
<path d="M293.90 791.08l1.90-4.10 1.90 4.10z" fill="#9a2327"/>
<path d="M293.90 796.84l1.90-4.10 1.90 4.10z" fill="#9a2327"/>
<path d="M338.3 800.3H378.2" stroke="#d27a84" stroke-width="1.35"/>
<path d="M379.7 800.3H419.6" stroke="#6c8798" stroke-width="1.35"/>
<text x="359.1" y="807.5" font-size="6.3" text-anchor="middle" fill="#111">Before</text>
<text x="398.2" y="807.5" font-size="6.3" text-anchor="middle" fill="#111">After</text>
</svg></body></html>
